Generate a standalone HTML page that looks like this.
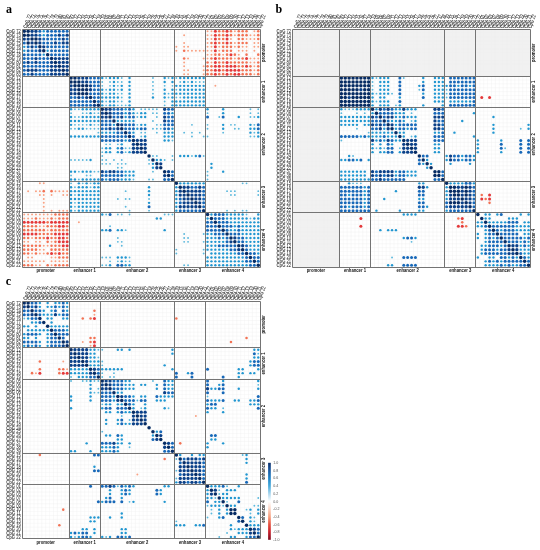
<!DOCTYPE html>
<html><head><meta charset="utf-8"><title>Correlation plots</title>
<style>
html,body{margin:0;padding:0;background:#fff;width:540px;height:550px;overflow:hidden}
svg{display:block}
.rl text{font-family:"Liberation Sans",sans-serif;font-size:5.0px;fill:#222;text-anchor:end}
.cl text{font-family:"Liberation Sans",sans-serif;font-size:6.0px;fill:#222;text-anchor:start}
.cg{fill:#444;font-weight:bold}
.gl text{font-family:"Liberation Sans",sans-serif;font-size:5.4px;font-weight:bold;fill:#111;text-anchor:middle}
.cbl text{font-family:"Liberation Sans",sans-serif;font-size:3.6px;fill:#555}
.pl text{font-family:"Liberation Serif",serif;font-size:12px;font-weight:bold;fill:#000}
</style></head><body>
<svg width="540" height="550" viewBox="0 0 540 550">
<rect width="540" height="550" fill="#fff"/>
<path d="M26.20 29.30V267.20M22.30 33.20H260.20M30.10 29.30V267.20M22.30 37.10H260.20M34.00 29.30V267.20M22.30 41.00H260.20M37.90 29.30V267.20M22.30 44.90H260.20M41.80 29.30V267.20M22.30 48.80H260.20M45.70 29.30V267.20M22.30 52.70H260.20M49.60 29.30V267.20M22.30 56.60H260.20M53.50 29.30V267.20M22.30 60.50H260.20M57.40 29.30V267.20M22.30 64.40H260.20M61.30 29.30V267.20M22.30 68.30H260.20M65.20 29.30V267.20M22.30 72.20H260.20M69.10 29.30V267.20M22.30 76.10H260.20M73.00 29.30V267.20M22.30 80.00H260.20M76.90 29.30V267.20M22.30 83.90H260.20M80.80 29.30V267.20M22.30 87.80H260.20M84.70 29.30V267.20M22.30 91.70H260.20M88.60 29.30V267.20M22.30 95.60H260.20M92.50 29.30V267.20M22.30 99.50H260.20M96.40 29.30V267.20M22.30 103.40H260.20M100.30 29.30V267.20M22.30 107.30H260.20M104.20 29.30V267.20M22.30 111.20H260.20M108.10 29.30V267.20M22.30 115.10H260.20M112.00 29.30V267.20M22.30 119.00H260.20M115.90 29.30V267.20M22.30 122.90H260.20M119.80 29.30V267.20M22.30 126.80H260.20M123.70 29.30V267.20M22.30 130.70H260.20M127.60 29.30V267.20M22.30 134.60H260.20M131.50 29.30V267.20M22.30 138.50H260.20M135.40 29.30V267.20M22.30 142.40H260.20M139.30 29.30V267.20M22.30 146.30H260.20M143.20 29.30V267.20M22.30 150.20H260.20M147.10 29.30V267.20M22.30 154.10H260.20M151.00 29.30V267.20M22.30 158.00H260.20M154.90 29.30V267.20M22.30 161.90H260.20M158.80 29.30V267.20M22.30 165.80H260.20M162.70 29.30V267.20M22.30 169.70H260.20M166.60 29.30V267.20M22.30 173.60H260.20M170.50 29.30V267.20M22.30 177.50H260.20M174.40 29.30V267.20M22.30 181.40H260.20M178.30 29.30V267.20M22.30 185.30H260.20M182.20 29.30V267.20M22.30 189.20H260.20M186.10 29.30V267.20M22.30 193.10H260.20M190.00 29.30V267.20M22.30 197.00H260.20M193.90 29.30V267.20M22.30 200.90H260.20M197.80 29.30V267.20M22.30 204.80H260.20M201.70 29.30V267.20M22.30 208.70H260.20M205.60 29.30V267.20M22.30 212.60H260.20M209.50 29.30V267.20M22.30 216.50H260.20M213.40 29.30V267.20M22.30 220.40H260.20M217.30 29.30V267.20M22.30 224.30H260.20M221.20 29.30V267.20M22.30 228.20H260.20M225.10 29.30V267.20M22.30 232.10H260.20M229.00 29.30V267.20M22.30 236.00H260.20M232.90 29.30V267.20M22.30 239.90H260.20M236.80 29.30V267.20M22.30 243.80H260.20M240.70 29.30V267.20M22.30 247.70H260.20M244.60 29.30V267.20M22.30 251.60H260.20M248.50 29.30V267.20M22.30 255.50H260.20M252.40 29.30V267.20M22.30 259.40H260.20M256.30 29.30V267.20M22.30 263.30H260.20" stroke="#efefef" stroke-width="0.4" fill="none"/>
<circle cx="24.25" cy="31.25" r="1.75" fill="#062b63"/>
<circle cx="28.15" cy="31.25" r="1.75" fill="#062b63"/>
<circle cx="32.05" cy="31.25" r="1.65" fill="#0b4088"/>
<circle cx="35.95" cy="31.25" r="1.65" fill="#0b4088"/>
<circle cx="39.85" cy="31.25" r="1.5" fill="#1768b8"/>
<circle cx="43.75" cy="31.25" r="1.22" fill="#2196d0"/>
<circle cx="47.65" cy="31.25" r="1.5" fill="#1768b8"/>
<circle cx="51.55" cy="31.25" r="1.5" fill="#1768b8"/>
<circle cx="55.45" cy="31.25" r="1.5" fill="#1768b8"/>
<circle cx="59.35" cy="31.25" r="1.5" fill="#1768b8"/>
<circle cx="63.25" cy="31.25" r="1.5" fill="#1768b8"/>
<circle cx="67.15" cy="31.25" r="1.5" fill="#1768b8"/>
<circle cx="207.55" cy="31.25" r="1.0" fill="#f8a284"/>
<circle cx="211.45" cy="31.25" r="1.0" fill="#f8a284"/>
<circle cx="215.35" cy="31.25" r="1.5" fill="#e4383a"/>
<circle cx="219.25" cy="31.25" r="1.28" fill="#f27254"/>
<circle cx="223.15" cy="31.25" r="1.28" fill="#f27254"/>
<circle cx="227.05" cy="31.25" r="1.5" fill="#e4383a"/>
<circle cx="230.95" cy="31.25" r="1.28" fill="#f27254"/>
<circle cx="234.85" cy="31.25" r="1.0" fill="#f8a284"/>
<circle cx="238.75" cy="31.25" r="1.28" fill="#f27254"/>
<circle cx="242.65" cy="31.25" r="1.28" fill="#f27254"/>
<circle cx="246.55" cy="31.25" r="1.28" fill="#f27254"/>
<circle cx="254.35" cy="31.25" r="1.0" fill="#f8a284"/>
<circle cx="258.25" cy="31.25" r="1.28" fill="#f27254"/>
<circle cx="24.25" cy="35.15" r="1.75" fill="#062b63"/>
<circle cx="28.15" cy="35.15" r="1.75" fill="#062b63"/>
<circle cx="32.05" cy="35.15" r="1.65" fill="#0b4088"/>
<circle cx="35.95" cy="35.15" r="1.65" fill="#0b4088"/>
<circle cx="39.85" cy="35.15" r="1.5" fill="#1768b8"/>
<circle cx="43.75" cy="35.15" r="1.22" fill="#2196d0"/>
<circle cx="47.65" cy="35.15" r="1.5" fill="#1768b8"/>
<circle cx="51.55" cy="35.15" r="1.5" fill="#1768b8"/>
<circle cx="55.45" cy="35.15" r="1.5" fill="#1768b8"/>
<circle cx="59.35" cy="35.15" r="1.65" fill="#0b4088"/>
<circle cx="63.25" cy="35.15" r="1.5" fill="#1768b8"/>
<circle cx="67.15" cy="35.15" r="1.65" fill="#0b4088"/>
<circle cx="184.15" cy="35.15" r="1.0" fill="#f8a284"/>
<circle cx="207.55" cy="35.15" r="1.0" fill="#f8a284"/>
<circle cx="211.45" cy="35.15" r="1.0" fill="#f8a284"/>
<circle cx="215.35" cy="35.15" r="1.5" fill="#e4383a"/>
<circle cx="219.25" cy="35.15" r="1.28" fill="#f27254"/>
<circle cx="223.15" cy="35.15" r="1.28" fill="#f27254"/>
<circle cx="227.05" cy="35.15" r="1.5" fill="#e4383a"/>
<circle cx="230.95" cy="35.15" r="1.28" fill="#f27254"/>
<circle cx="234.85" cy="35.15" r="1.0" fill="#f8a284"/>
<circle cx="238.75" cy="35.15" r="1.28" fill="#f27254"/>
<circle cx="242.65" cy="35.15" r="1.28" fill="#f27254"/>
<circle cx="246.55" cy="35.15" r="1.28" fill="#f27254"/>
<circle cx="250.45" cy="35.15" r="1.0" fill="#f8a284"/>
<circle cx="254.35" cy="35.15" r="1.0" fill="#f8a284"/>
<circle cx="258.25" cy="35.15" r="1.28" fill="#f27254"/>
<circle cx="24.25" cy="39.05" r="1.65" fill="#0b4088"/>
<circle cx="28.15" cy="39.05" r="1.65" fill="#0b4088"/>
<circle cx="32.05" cy="39.05" r="1.75" fill="#062b63"/>
<circle cx="35.95" cy="39.05" r="1.75" fill="#062b63"/>
<circle cx="39.85" cy="39.05" r="1.65" fill="#0b4088"/>
<circle cx="43.75" cy="39.05" r="1.5" fill="#1768b8"/>
<circle cx="47.65" cy="39.05" r="1.5" fill="#1768b8"/>
<circle cx="51.55" cy="39.05" r="1.5" fill="#1768b8"/>
<circle cx="55.45" cy="39.05" r="1.5" fill="#1768b8"/>
<circle cx="59.35" cy="39.05" r="1.5" fill="#1768b8"/>
<circle cx="63.25" cy="39.05" r="1.65" fill="#0b4088"/>
<circle cx="67.15" cy="39.05" r="1.5" fill="#1768b8"/>
<circle cx="207.55" cy="39.05" r="1.0" fill="#f8a284"/>
<circle cx="211.45" cy="39.05" r="1.0" fill="#f8a284"/>
<circle cx="215.35" cy="39.05" r="1.5" fill="#e4383a"/>
<circle cx="219.25" cy="39.05" r="1.28" fill="#f27254"/>
<circle cx="223.15" cy="39.05" r="1.28" fill="#f27254"/>
<circle cx="227.05" cy="39.05" r="1.5" fill="#e4383a"/>
<circle cx="230.95" cy="39.05" r="1.0" fill="#f8a284"/>
<circle cx="238.75" cy="39.05" r="1.28" fill="#f27254"/>
<circle cx="242.65" cy="39.05" r="1.28" fill="#f27254"/>
<circle cx="246.55" cy="39.05" r="1.0" fill="#f8a284"/>
<circle cx="250.45" cy="39.05" r="1.0" fill="#f8a284"/>
<circle cx="254.35" cy="39.05" r="1.0" fill="#f8a284"/>
<circle cx="258.25" cy="39.05" r="1.28" fill="#f27254"/>
<circle cx="24.25" cy="42.95" r="1.5" fill="#1768b8"/>
<circle cx="28.15" cy="42.95" r="1.75" fill="#062b63"/>
<circle cx="32.05" cy="42.95" r="1.65" fill="#0b4088"/>
<circle cx="35.95" cy="42.95" r="1.75" fill="#062b63"/>
<circle cx="39.85" cy="42.95" r="1.65" fill="#0b4088"/>
<circle cx="43.75" cy="42.95" r="1.5" fill="#1768b8"/>
<circle cx="47.65" cy="42.95" r="1.5" fill="#1768b8"/>
<circle cx="51.55" cy="42.95" r="1.5" fill="#1768b8"/>
<circle cx="55.45" cy="42.95" r="1.65" fill="#0b4088"/>
<circle cx="59.35" cy="42.95" r="1.5" fill="#1768b8"/>
<circle cx="63.25" cy="42.95" r="1.65" fill="#0b4088"/>
<circle cx="67.15" cy="42.95" r="1.65" fill="#0b4088"/>
<circle cx="184.15" cy="42.95" r="1.0" fill="#f8a284"/>
<circle cx="207.55" cy="42.95" r="1.0" fill="#f8a284"/>
<circle cx="211.45" cy="42.95" r="1.28" fill="#f27254"/>
<circle cx="215.35" cy="42.95" r="1.5" fill="#e4383a"/>
<circle cx="219.25" cy="42.95" r="1.28" fill="#f27254"/>
<circle cx="223.15" cy="42.95" r="1.28" fill="#f27254"/>
<circle cx="227.05" cy="42.95" r="1.5" fill="#e4383a"/>
<circle cx="230.95" cy="42.95" r="1.28" fill="#f27254"/>
<circle cx="234.85" cy="42.95" r="1.0" fill="#f8a284"/>
<circle cx="238.75" cy="42.95" r="1.28" fill="#f27254"/>
<circle cx="242.65" cy="42.95" r="1.28" fill="#f27254"/>
<circle cx="246.55" cy="42.95" r="1.28" fill="#f27254"/>
<circle cx="254.35" cy="42.95" r="1.0" fill="#f8a284"/>
<circle cx="258.25" cy="42.95" r="1.0" fill="#f8a284"/>
<circle cx="24.25" cy="46.85" r="1.22" fill="#2196d0"/>
<circle cx="28.15" cy="46.85" r="1.5" fill="#1768b8"/>
<circle cx="32.05" cy="46.85" r="1.65" fill="#0b4088"/>
<circle cx="35.95" cy="46.85" r="1.5" fill="#1768b8"/>
<circle cx="39.85" cy="46.85" r="1.75" fill="#062b63"/>
<circle cx="43.75" cy="46.85" r="1.65" fill="#0b4088"/>
<circle cx="47.65" cy="46.85" r="1.5" fill="#1768b8"/>
<circle cx="51.55" cy="46.85" r="1.5" fill="#1768b8"/>
<circle cx="55.45" cy="46.85" r="1.5" fill="#1768b8"/>
<circle cx="59.35" cy="46.85" r="1.5" fill="#1768b8"/>
<circle cx="63.25" cy="46.85" r="1.5" fill="#1768b8"/>
<circle cx="67.15" cy="46.85" r="1.5" fill="#1768b8"/>
<circle cx="176.35" cy="46.85" r="1.0" fill="#f8a284"/>
<circle cx="184.15" cy="46.85" r="1.0" fill="#f8a284"/>
<circle cx="188.05" cy="46.85" r="1.0" fill="#f8a284"/>
<circle cx="207.55" cy="46.85" r="1.0" fill="#f8a284"/>
<circle cx="211.45" cy="46.85" r="1.0" fill="#f8a284"/>
<circle cx="215.35" cy="46.85" r="1.5" fill="#e4383a"/>
<circle cx="219.25" cy="46.85" r="1.0" fill="#f8a284"/>
<circle cx="223.15" cy="46.85" r="1.28" fill="#f27254"/>
<circle cx="227.05" cy="46.85" r="1.28" fill="#f27254"/>
<circle cx="230.95" cy="46.85" r="1.28" fill="#f27254"/>
<circle cx="234.85" cy="46.85" r="1.0" fill="#f8a284"/>
<circle cx="238.75" cy="46.85" r="1.28" fill="#f27254"/>
<circle cx="242.65" cy="46.85" r="1.0" fill="#f8a284"/>
<circle cx="246.55" cy="46.85" r="1.0" fill="#f8a284"/>
<circle cx="254.35" cy="46.85" r="1.0" fill="#f8a284"/>
<circle cx="258.25" cy="46.85" r="1.0" fill="#f8a284"/>
<circle cx="24.25" cy="50.75" r="1.22" fill="#2196d0"/>
<circle cx="28.15" cy="50.75" r="1.5" fill="#1768b8"/>
<circle cx="32.05" cy="50.75" r="1.5" fill="#1768b8"/>
<circle cx="35.95" cy="50.75" r="1.5" fill="#1768b8"/>
<circle cx="39.85" cy="50.75" r="1.65" fill="#0b4088"/>
<circle cx="43.75" cy="50.75" r="1.75" fill="#062b63"/>
<circle cx="47.65" cy="50.75" r="1.22" fill="#2196d0"/>
<circle cx="51.55" cy="50.75" r="1.5" fill="#1768b8"/>
<circle cx="55.45" cy="50.75" r="1.5" fill="#1768b8"/>
<circle cx="59.35" cy="50.75" r="1.5" fill="#1768b8"/>
<circle cx="63.25" cy="50.75" r="1.5" fill="#1768b8"/>
<circle cx="67.15" cy="50.75" r="1.5" fill="#1768b8"/>
<circle cx="176.35" cy="50.75" r="1.0" fill="#f8a284"/>
<circle cx="184.15" cy="50.75" r="1.28" fill="#f27254"/>
<circle cx="188.05" cy="50.75" r="1.0" fill="#f8a284"/>
<circle cx="191.95" cy="50.75" r="1.0" fill="#f8a284"/>
<circle cx="195.85" cy="50.75" r="1.0" fill="#f8a284"/>
<circle cx="199.75" cy="50.75" r="1.0" fill="#f8a284"/>
<circle cx="203.65" cy="50.75" r="1.0" fill="#f8a284"/>
<circle cx="207.55" cy="50.75" r="1.0" fill="#f8a284"/>
<circle cx="211.45" cy="50.75" r="1.0" fill="#f8a284"/>
<circle cx="215.35" cy="50.75" r="1.5" fill="#e4383a"/>
<circle cx="219.25" cy="50.75" r="1.0" fill="#f8a284"/>
<circle cx="223.15" cy="50.75" r="1.28" fill="#f27254"/>
<circle cx="227.05" cy="50.75" r="1.28" fill="#f27254"/>
<circle cx="230.95" cy="50.75" r="1.28" fill="#f27254"/>
<circle cx="238.75" cy="50.75" r="1.0" fill="#f8a284"/>
<circle cx="242.65" cy="50.75" r="1.0" fill="#f8a284"/>
<circle cx="246.55" cy="50.75" r="1.0" fill="#f8a284"/>
<circle cx="254.35" cy="50.75" r="1.0" fill="#f8a284"/>
<circle cx="24.25" cy="54.65" r="1.5" fill="#1768b8"/>
<circle cx="28.15" cy="54.65" r="1.5" fill="#1768b8"/>
<circle cx="32.05" cy="54.65" r="1.5" fill="#1768b8"/>
<circle cx="35.95" cy="54.65" r="1.5" fill="#1768b8"/>
<circle cx="39.85" cy="54.65" r="1.5" fill="#1768b8"/>
<circle cx="43.75" cy="54.65" r="1.22" fill="#2196d0"/>
<circle cx="47.65" cy="54.65" r="1.75" fill="#062b63"/>
<circle cx="51.55" cy="54.65" r="1.5" fill="#1768b8"/>
<circle cx="55.45" cy="54.65" r="1.5" fill="#1768b8"/>
<circle cx="59.35" cy="54.65" r="1.5" fill="#1768b8"/>
<circle cx="63.25" cy="54.65" r="1.5" fill="#1768b8"/>
<circle cx="67.15" cy="54.65" r="1.5" fill="#1768b8"/>
<circle cx="207.55" cy="54.65" r="1.0" fill="#f8a284"/>
<circle cx="211.45" cy="54.65" r="1.0" fill="#f8a284"/>
<circle cx="215.35" cy="54.65" r="1.28" fill="#f27254"/>
<circle cx="219.25" cy="54.65" r="1.28" fill="#f27254"/>
<circle cx="223.15" cy="54.65" r="1.0" fill="#f8a284"/>
<circle cx="227.05" cy="54.65" r="1.28" fill="#f27254"/>
<circle cx="230.95" cy="54.65" r="1.5" fill="#e4383a"/>
<circle cx="234.85" cy="54.65" r="1.28" fill="#f27254"/>
<circle cx="238.75" cy="54.65" r="1.0" fill="#f8a284"/>
<circle cx="246.55" cy="54.65" r="1.28" fill="#f27254"/>
<circle cx="258.25" cy="54.65" r="1.28" fill="#f27254"/>
<circle cx="24.25" cy="58.55" r="1.5" fill="#1768b8"/>
<circle cx="28.15" cy="58.55" r="1.5" fill="#1768b8"/>
<circle cx="32.05" cy="58.55" r="1.5" fill="#1768b8"/>
<circle cx="35.95" cy="58.55" r="1.65" fill="#0b4088"/>
<circle cx="39.85" cy="58.55" r="1.5" fill="#1768b8"/>
<circle cx="43.75" cy="58.55" r="1.5" fill="#1768b8"/>
<circle cx="47.65" cy="58.55" r="1.5" fill="#1768b8"/>
<circle cx="51.55" cy="58.55" r="1.75" fill="#062b63"/>
<circle cx="55.45" cy="58.55" r="1.65" fill="#0b4088"/>
<circle cx="59.35" cy="58.55" r="1.65" fill="#0b4088"/>
<circle cx="63.25" cy="58.55" r="1.65" fill="#0b4088"/>
<circle cx="67.15" cy="58.55" r="1.65" fill="#0b4088"/>
<circle cx="184.15" cy="58.55" r="1.28" fill="#f27254"/>
<circle cx="188.05" cy="58.55" r="1.0" fill="#f8a284"/>
<circle cx="203.65" cy="58.55" r="1.0" fill="#f8a284"/>
<circle cx="207.55" cy="58.55" r="1.0" fill="#f8a284"/>
<circle cx="211.45" cy="58.55" r="1.28" fill="#f27254"/>
<circle cx="215.35" cy="58.55" r="1.5" fill="#e4383a"/>
<circle cx="219.25" cy="58.55" r="1.28" fill="#f27254"/>
<circle cx="223.15" cy="58.55" r="1.28" fill="#f27254"/>
<circle cx="227.05" cy="58.55" r="1.28" fill="#f27254"/>
<circle cx="230.95" cy="58.55" r="1.28" fill="#f27254"/>
<circle cx="234.85" cy="58.55" r="1.0" fill="#f8a284"/>
<circle cx="238.75" cy="58.55" r="1.28" fill="#f27254"/>
<circle cx="242.65" cy="58.55" r="1.28" fill="#f27254"/>
<circle cx="246.55" cy="58.55" r="1.5" fill="#e4383a"/>
<circle cx="250.45" cy="58.55" r="1.0" fill="#f8a284"/>
<circle cx="254.35" cy="58.55" r="1.0" fill="#f8a284"/>
<circle cx="258.25" cy="58.55" r="1.0" fill="#f8a284"/>
<circle cx="24.25" cy="62.45" r="1.5" fill="#1768b8"/>
<circle cx="28.15" cy="62.45" r="1.65" fill="#0b4088"/>
<circle cx="32.05" cy="62.45" r="1.5" fill="#1768b8"/>
<circle cx="35.95" cy="62.45" r="1.65" fill="#0b4088"/>
<circle cx="39.85" cy="62.45" r="1.5" fill="#1768b8"/>
<circle cx="43.75" cy="62.45" r="1.5" fill="#1768b8"/>
<circle cx="47.65" cy="62.45" r="1.5" fill="#1768b8"/>
<circle cx="51.55" cy="62.45" r="1.65" fill="#0b4088"/>
<circle cx="55.45" cy="62.45" r="1.75" fill="#062b63"/>
<circle cx="59.35" cy="62.45" r="1.65" fill="#0b4088"/>
<circle cx="63.25" cy="62.45" r="1.65" fill="#0b4088"/>
<circle cx="67.15" cy="62.45" r="1.65" fill="#0b4088"/>
<circle cx="184.15" cy="62.45" r="1.0" fill="#f8a284"/>
<circle cx="207.55" cy="62.45" r="1.28" fill="#f27254"/>
<circle cx="211.45" cy="62.45" r="1.0" fill="#f8a284"/>
<circle cx="215.35" cy="62.45" r="1.5" fill="#e4383a"/>
<circle cx="219.25" cy="62.45" r="1.28" fill="#f27254"/>
<circle cx="223.15" cy="62.45" r="1.28" fill="#f27254"/>
<circle cx="227.05" cy="62.45" r="1.5" fill="#e4383a"/>
<circle cx="230.95" cy="62.45" r="1.28" fill="#f27254"/>
<circle cx="234.85" cy="62.45" r="1.28" fill="#f27254"/>
<circle cx="238.75" cy="62.45" r="1.28" fill="#f27254"/>
<circle cx="242.65" cy="62.45" r="1.28" fill="#f27254"/>
<circle cx="246.55" cy="62.45" r="1.28" fill="#f27254"/>
<circle cx="250.45" cy="62.45" r="1.0" fill="#f8a284"/>
<circle cx="254.35" cy="62.45" r="1.0" fill="#f8a284"/>
<circle cx="258.25" cy="62.45" r="1.28" fill="#f27254"/>
<circle cx="24.25" cy="66.35" r="1.5" fill="#1768b8"/>
<circle cx="28.15" cy="66.35" r="1.5" fill="#1768b8"/>
<circle cx="32.05" cy="66.35" r="1.5" fill="#1768b8"/>
<circle cx="35.95" cy="66.35" r="1.5" fill="#1768b8"/>
<circle cx="39.85" cy="66.35" r="1.5" fill="#1768b8"/>
<circle cx="43.75" cy="66.35" r="1.5" fill="#1768b8"/>
<circle cx="47.65" cy="66.35" r="1.5" fill="#1768b8"/>
<circle cx="51.55" cy="66.35" r="1.65" fill="#0b4088"/>
<circle cx="55.45" cy="66.35" r="1.65" fill="#0b4088"/>
<circle cx="59.35" cy="66.35" r="1.75" fill="#062b63"/>
<circle cx="63.25" cy="66.35" r="1.65" fill="#0b4088"/>
<circle cx="67.15" cy="66.35" r="1.65" fill="#0b4088"/>
<circle cx="184.15" cy="66.35" r="1.0" fill="#f8a284"/>
<circle cx="203.65" cy="66.35" r="1.0" fill="#f8a284"/>
<circle cx="207.55" cy="66.35" r="1.28" fill="#f27254"/>
<circle cx="211.45" cy="66.35" r="1.28" fill="#f27254"/>
<circle cx="215.35" cy="66.35" r="1.5" fill="#e4383a"/>
<circle cx="219.25" cy="66.35" r="1.5" fill="#e4383a"/>
<circle cx="223.15" cy="66.35" r="1.28" fill="#f27254"/>
<circle cx="227.05" cy="66.35" r="1.5" fill="#e4383a"/>
<circle cx="230.95" cy="66.35" r="1.5" fill="#e4383a"/>
<circle cx="234.85" cy="66.35" r="1.5" fill="#e4383a"/>
<circle cx="238.75" cy="66.35" r="1.28" fill="#f27254"/>
<circle cx="242.65" cy="66.35" r="1.28" fill="#f27254"/>
<circle cx="246.55" cy="66.35" r="1.5" fill="#e4383a"/>
<circle cx="250.45" cy="66.35" r="1.28" fill="#f27254"/>
<circle cx="254.35" cy="66.35" r="1.0" fill="#f8a284"/>
<circle cx="258.25" cy="66.35" r="1.28" fill="#f27254"/>
<circle cx="24.25" cy="70.25" r="1.5" fill="#1768b8"/>
<circle cx="28.15" cy="70.25" r="1.65" fill="#0b4088"/>
<circle cx="32.05" cy="70.25" r="1.65" fill="#0b4088"/>
<circle cx="35.95" cy="70.25" r="1.65" fill="#0b4088"/>
<circle cx="39.85" cy="70.25" r="1.5" fill="#1768b8"/>
<circle cx="43.75" cy="70.25" r="1.5" fill="#1768b8"/>
<circle cx="47.65" cy="70.25" r="1.5" fill="#1768b8"/>
<circle cx="51.55" cy="70.25" r="1.65" fill="#0b4088"/>
<circle cx="55.45" cy="70.25" r="1.65" fill="#0b4088"/>
<circle cx="59.35" cy="70.25" r="1.65" fill="#0b4088"/>
<circle cx="63.25" cy="70.25" r="1.75" fill="#062b63"/>
<circle cx="67.15" cy="70.25" r="1.65" fill="#0b4088"/>
<circle cx="184.15" cy="70.25" r="1.0" fill="#f8a284"/>
<circle cx="188.05" cy="70.25" r="1.0" fill="#f8a284"/>
<circle cx="203.65" cy="70.25" r="1.0" fill="#f8a284"/>
<circle cx="207.55" cy="70.25" r="1.28" fill="#f27254"/>
<circle cx="211.45" cy="70.25" r="1.28" fill="#f27254"/>
<circle cx="215.35" cy="70.25" r="1.5" fill="#e4383a"/>
<circle cx="219.25" cy="70.25" r="1.5" fill="#e4383a"/>
<circle cx="223.15" cy="70.25" r="1.28" fill="#f27254"/>
<circle cx="227.05" cy="70.25" r="1.5" fill="#e4383a"/>
<circle cx="230.95" cy="70.25" r="1.5" fill="#e4383a"/>
<circle cx="234.85" cy="70.25" r="1.5" fill="#e4383a"/>
<circle cx="238.75" cy="70.25" r="1.5" fill="#e4383a"/>
<circle cx="242.65" cy="70.25" r="1.28" fill="#f27254"/>
<circle cx="246.55" cy="70.25" r="1.28" fill="#f27254"/>
<circle cx="250.45" cy="70.25" r="1.28" fill="#f27254"/>
<circle cx="254.35" cy="70.25" r="1.0" fill="#f8a284"/>
<circle cx="258.25" cy="70.25" r="1.28" fill="#f27254"/>
<circle cx="24.25" cy="74.15" r="1.5" fill="#1768b8"/>
<circle cx="28.15" cy="74.15" r="1.5" fill="#1768b8"/>
<circle cx="32.05" cy="74.15" r="1.65" fill="#0b4088"/>
<circle cx="35.95" cy="74.15" r="1.5" fill="#1768b8"/>
<circle cx="39.85" cy="74.15" r="1.5" fill="#1768b8"/>
<circle cx="43.75" cy="74.15" r="1.5" fill="#1768b8"/>
<circle cx="47.65" cy="74.15" r="1.5" fill="#1768b8"/>
<circle cx="51.55" cy="74.15" r="1.65" fill="#0b4088"/>
<circle cx="55.45" cy="74.15" r="1.65" fill="#0b4088"/>
<circle cx="59.35" cy="74.15" r="1.65" fill="#0b4088"/>
<circle cx="63.25" cy="74.15" r="1.65" fill="#0b4088"/>
<circle cx="67.15" cy="74.15" r="1.75" fill="#062b63"/>
<circle cx="184.15" cy="74.15" r="1.0" fill="#f8a284"/>
<circle cx="188.05" cy="74.15" r="1.0" fill="#f8a284"/>
<circle cx="203.65" cy="74.15" r="1.0" fill="#f8a284"/>
<circle cx="207.55" cy="74.15" r="1.28" fill="#f27254"/>
<circle cx="211.45" cy="74.15" r="1.28" fill="#f27254"/>
<circle cx="215.35" cy="74.15" r="1.5" fill="#e4383a"/>
<circle cx="219.25" cy="74.15" r="1.28" fill="#f27254"/>
<circle cx="223.15" cy="74.15" r="1.28" fill="#f27254"/>
<circle cx="227.05" cy="74.15" r="1.5" fill="#e4383a"/>
<circle cx="230.95" cy="74.15" r="1.28" fill="#f27254"/>
<circle cx="234.85" cy="74.15" r="1.5" fill="#e4383a"/>
<circle cx="238.75" cy="74.15" r="1.5" fill="#e4383a"/>
<circle cx="242.65" cy="74.15" r="1.28" fill="#f27254"/>
<circle cx="246.55" cy="74.15" r="1.28" fill="#f27254"/>
<circle cx="250.45" cy="74.15" r="1.28" fill="#f27254"/>
<circle cx="254.35" cy="74.15" r="1.0" fill="#f8a284"/>
<circle cx="258.25" cy="74.15" r="1.28" fill="#f27254"/>
<circle cx="71.05" cy="78.05" r="1.75" fill="#062b63"/>
<circle cx="74.95" cy="78.05" r="1.75" fill="#062b63"/>
<circle cx="78.85" cy="78.05" r="1.65" fill="#0b4088"/>
<circle cx="82.75" cy="78.05" r="1.65" fill="#0b4088"/>
<circle cx="86.65" cy="78.05" r="1.65" fill="#0b4088"/>
<circle cx="90.55" cy="78.05" r="1.5" fill="#1768b8"/>
<circle cx="94.45" cy="78.05" r="1.5" fill="#1768b8"/>
<circle cx="98.35" cy="78.05" r="1.5" fill="#1768b8"/>
<circle cx="102.25" cy="78.05" r="1.22" fill="#2196d0"/>
<circle cx="106.15" cy="78.05" r="0.95" fill="#5cb8dc"/>
<circle cx="110.05" cy="78.05" r="1.22" fill="#2196d0"/>
<circle cx="113.95" cy="78.05" r="1.22" fill="#2196d0"/>
<circle cx="117.85" cy="78.05" r="1.22" fill="#2196d0"/>
<circle cx="121.75" cy="78.05" r="0.95" fill="#5cb8dc"/>
<circle cx="129.55" cy="78.05" r="1.22" fill="#2196d0"/>
<circle cx="152.95" cy="78.05" r="0.95" fill="#5cb8dc"/>
<circle cx="164.65" cy="78.05" r="1.22" fill="#2196d0"/>
<circle cx="168.55" cy="78.05" r="0.95" fill="#5cb8dc"/>
<circle cx="172.45" cy="78.05" r="1.22" fill="#2196d0"/>
<circle cx="176.35" cy="78.05" r="0.95" fill="#5cb8dc"/>
<circle cx="180.25" cy="78.05" r="1.22" fill="#2196d0"/>
<circle cx="184.15" cy="78.05" r="1.22" fill="#2196d0"/>
<circle cx="188.05" cy="78.05" r="1.22" fill="#2196d0"/>
<circle cx="191.95" cy="78.05" r="1.22" fill="#2196d0"/>
<circle cx="195.85" cy="78.05" r="1.22" fill="#2196d0"/>
<circle cx="199.75" cy="78.05" r="1.22" fill="#2196d0"/>
<circle cx="203.65" cy="78.05" r="1.22" fill="#2196d0"/>
<circle cx="71.05" cy="81.95" r="1.75" fill="#062b63"/>
<circle cx="74.95" cy="81.95" r="1.75" fill="#062b63"/>
<circle cx="78.85" cy="81.95" r="1.75" fill="#062b63"/>
<circle cx="82.75" cy="81.95" r="1.65" fill="#0b4088"/>
<circle cx="86.65" cy="81.95" r="1.65" fill="#0b4088"/>
<circle cx="90.55" cy="81.95" r="1.5" fill="#1768b8"/>
<circle cx="94.45" cy="81.95" r="1.5" fill="#1768b8"/>
<circle cx="98.35" cy="81.95" r="1.5" fill="#1768b8"/>
<circle cx="102.25" cy="81.95" r="0.95" fill="#5cb8dc"/>
<circle cx="110.05" cy="81.95" r="0.95" fill="#5cb8dc"/>
<circle cx="113.95" cy="81.95" r="1.22" fill="#2196d0"/>
<circle cx="117.85" cy="81.95" r="0.95" fill="#5cb8dc"/>
<circle cx="121.75" cy="81.95" r="0.95" fill="#5cb8dc"/>
<circle cx="129.55" cy="81.95" r="1.22" fill="#2196d0"/>
<circle cx="152.95" cy="81.95" r="0.95" fill="#5cb8dc"/>
<circle cx="164.65" cy="81.95" r="1.22" fill="#2196d0"/>
<circle cx="172.45" cy="81.95" r="1.22" fill="#2196d0"/>
<circle cx="180.25" cy="81.95" r="0.95" fill="#5cb8dc"/>
<circle cx="184.15" cy="81.95" r="1.22" fill="#2196d0"/>
<circle cx="188.05" cy="81.95" r="0.95" fill="#5cb8dc"/>
<circle cx="191.95" cy="81.95" r="1.22" fill="#2196d0"/>
<circle cx="195.85" cy="81.95" r="0.95" fill="#5cb8dc"/>
<circle cx="199.75" cy="81.95" r="0.95" fill="#5cb8dc"/>
<circle cx="203.65" cy="81.95" r="0.95" fill="#5cb8dc"/>
<circle cx="71.05" cy="85.85" r="1.65" fill="#0b4088"/>
<circle cx="74.95" cy="85.85" r="1.75" fill="#062b63"/>
<circle cx="78.85" cy="85.85" r="1.75" fill="#062b63"/>
<circle cx="82.75" cy="85.85" r="1.75" fill="#062b63"/>
<circle cx="86.65" cy="85.85" r="1.75" fill="#062b63"/>
<circle cx="90.55" cy="85.85" r="1.65" fill="#0b4088"/>
<circle cx="94.45" cy="85.85" r="1.5" fill="#1768b8"/>
<circle cx="98.35" cy="85.85" r="1.5" fill="#1768b8"/>
<circle cx="102.25" cy="85.85" r="0.95" fill="#5cb8dc"/>
<circle cx="110.05" cy="85.85" r="0.95" fill="#5cb8dc"/>
<circle cx="113.95" cy="85.85" r="1.22" fill="#2196d0"/>
<circle cx="117.85" cy="85.85" r="0.95" fill="#5cb8dc"/>
<circle cx="121.75" cy="85.85" r="1.22" fill="#2196d0"/>
<circle cx="129.55" cy="85.85" r="1.22" fill="#2196d0"/>
<circle cx="152.95" cy="85.85" r="0.95" fill="#5cb8dc"/>
<circle cx="164.65" cy="85.85" r="0.95" fill="#5cb8dc"/>
<circle cx="172.45" cy="85.85" r="0.95" fill="#5cb8dc"/>
<circle cx="176.35" cy="85.85" r="1.22" fill="#2196d0"/>
<circle cx="180.25" cy="85.85" r="1.22" fill="#2196d0"/>
<circle cx="184.15" cy="85.85" r="1.22" fill="#2196d0"/>
<circle cx="188.05" cy="85.85" r="1.22" fill="#2196d0"/>
<circle cx="191.95" cy="85.85" r="1.22" fill="#2196d0"/>
<circle cx="195.85" cy="85.85" r="1.22" fill="#2196d0"/>
<circle cx="199.75" cy="85.85" r="1.22" fill="#2196d0"/>
<circle cx="203.65" cy="85.85" r="1.22" fill="#2196d0"/>
<circle cx="215.35" cy="85.85" r="1.0" fill="#f8a284"/>
<circle cx="71.05" cy="89.75" r="1.65" fill="#0b4088"/>
<circle cx="74.95" cy="89.75" r="1.65" fill="#0b4088"/>
<circle cx="78.85" cy="89.75" r="1.75" fill="#062b63"/>
<circle cx="82.75" cy="89.75" r="1.75" fill="#062b63"/>
<circle cx="86.65" cy="89.75" r="1.75" fill="#062b63"/>
<circle cx="90.55" cy="89.75" r="1.65" fill="#0b4088"/>
<circle cx="94.45" cy="89.75" r="1.5" fill="#1768b8"/>
<circle cx="98.35" cy="89.75" r="1.5" fill="#1768b8"/>
<circle cx="102.25" cy="89.75" r="1.22" fill="#2196d0"/>
<circle cx="106.15" cy="89.75" r="0.95" fill="#5cb8dc"/>
<circle cx="110.05" cy="89.75" r="1.22" fill="#2196d0"/>
<circle cx="113.95" cy="89.75" r="1.22" fill="#2196d0"/>
<circle cx="117.85" cy="89.75" r="0.95" fill="#5cb8dc"/>
<circle cx="121.75" cy="89.75" r="1.22" fill="#2196d0"/>
<circle cx="129.55" cy="89.75" r="1.22" fill="#2196d0"/>
<circle cx="152.95" cy="89.75" r="0.95" fill="#5cb8dc"/>
<circle cx="164.65" cy="89.75" r="1.22" fill="#2196d0"/>
<circle cx="172.45" cy="89.75" r="1.22" fill="#2196d0"/>
<circle cx="176.35" cy="89.75" r="0.95" fill="#5cb8dc"/>
<circle cx="180.25" cy="89.75" r="1.22" fill="#2196d0"/>
<circle cx="184.15" cy="89.75" r="1.22" fill="#2196d0"/>
<circle cx="188.05" cy="89.75" r="1.22" fill="#2196d0"/>
<circle cx="191.95" cy="89.75" r="1.22" fill="#2196d0"/>
<circle cx="195.85" cy="89.75" r="1.22" fill="#2196d0"/>
<circle cx="199.75" cy="89.75" r="1.22" fill="#2196d0"/>
<circle cx="203.65" cy="89.75" r="1.22" fill="#2196d0"/>
<circle cx="71.05" cy="93.65" r="1.65" fill="#0b4088"/>
<circle cx="74.95" cy="93.65" r="1.65" fill="#0b4088"/>
<circle cx="78.85" cy="93.65" r="1.75" fill="#062b63"/>
<circle cx="82.75" cy="93.65" r="1.75" fill="#062b63"/>
<circle cx="86.65" cy="93.65" r="1.75" fill="#062b63"/>
<circle cx="90.55" cy="93.65" r="1.5" fill="#1768b8"/>
<circle cx="94.45" cy="93.65" r="1.5" fill="#1768b8"/>
<circle cx="98.35" cy="93.65" r="1.5" fill="#1768b8"/>
<circle cx="102.25" cy="93.65" r="1.22" fill="#2196d0"/>
<circle cx="106.15" cy="93.65" r="0.95" fill="#5cb8dc"/>
<circle cx="110.05" cy="93.65" r="1.22" fill="#2196d0"/>
<circle cx="113.95" cy="93.65" r="1.22" fill="#2196d0"/>
<circle cx="117.85" cy="93.65" r="0.95" fill="#5cb8dc"/>
<circle cx="121.75" cy="93.65" r="0.95" fill="#5cb8dc"/>
<circle cx="129.55" cy="93.65" r="1.22" fill="#2196d0"/>
<circle cx="152.95" cy="93.65" r="0.95" fill="#5cb8dc"/>
<circle cx="164.65" cy="93.65" r="1.22" fill="#2196d0"/>
<circle cx="168.55" cy="93.65" r="0.95" fill="#5cb8dc"/>
<circle cx="172.45" cy="93.65" r="1.22" fill="#2196d0"/>
<circle cx="176.35" cy="93.65" r="1.22" fill="#2196d0"/>
<circle cx="180.25" cy="93.65" r="1.22" fill="#2196d0"/>
<circle cx="184.15" cy="93.65" r="1.22" fill="#2196d0"/>
<circle cx="188.05" cy="93.65" r="1.22" fill="#2196d0"/>
<circle cx="191.95" cy="93.65" r="1.22" fill="#2196d0"/>
<circle cx="195.85" cy="93.65" r="1.22" fill="#2196d0"/>
<circle cx="199.75" cy="93.65" r="1.22" fill="#2196d0"/>
<circle cx="203.65" cy="93.65" r="1.22" fill="#2196d0"/>
<circle cx="71.05" cy="97.55" r="1.5" fill="#1768b8"/>
<circle cx="74.95" cy="97.55" r="1.5" fill="#1768b8"/>
<circle cx="78.85" cy="97.55" r="1.65" fill="#0b4088"/>
<circle cx="82.75" cy="97.55" r="1.5" fill="#1768b8"/>
<circle cx="86.65" cy="97.55" r="1.65" fill="#0b4088"/>
<circle cx="90.55" cy="97.55" r="1.75" fill="#062b63"/>
<circle cx="94.45" cy="97.55" r="1.5" fill="#1768b8"/>
<circle cx="98.35" cy="97.55" r="1.5" fill="#1768b8"/>
<circle cx="102.25" cy="97.55" r="1.22" fill="#2196d0"/>
<circle cx="106.15" cy="97.55" r="1.22" fill="#2196d0"/>
<circle cx="110.05" cy="97.55" r="1.22" fill="#2196d0"/>
<circle cx="113.95" cy="97.55" r="1.22" fill="#2196d0"/>
<circle cx="117.85" cy="97.55" r="1.22" fill="#2196d0"/>
<circle cx="121.75" cy="97.55" r="0.95" fill="#5cb8dc"/>
<circle cx="129.55" cy="97.55" r="1.22" fill="#2196d0"/>
<circle cx="152.95" cy="97.55" r="1.22" fill="#2196d0"/>
<circle cx="164.65" cy="97.55" r="1.22" fill="#2196d0"/>
<circle cx="168.55" cy="97.55" r="0.95" fill="#5cb8dc"/>
<circle cx="172.45" cy="97.55" r="1.22" fill="#2196d0"/>
<circle cx="176.35" cy="97.55" r="0.95" fill="#5cb8dc"/>
<circle cx="180.25" cy="97.55" r="0.95" fill="#5cb8dc"/>
<circle cx="184.15" cy="97.55" r="1.22" fill="#2196d0"/>
<circle cx="188.05" cy="97.55" r="1.22" fill="#2196d0"/>
<circle cx="191.95" cy="97.55" r="1.22" fill="#2196d0"/>
<circle cx="195.85" cy="97.55" r="1.22" fill="#2196d0"/>
<circle cx="199.75" cy="97.55" r="1.22" fill="#2196d0"/>
<circle cx="203.65" cy="97.55" r="1.22" fill="#2196d0"/>
<circle cx="71.05" cy="101.45" r="1.5" fill="#1768b8"/>
<circle cx="74.95" cy="101.45" r="1.5" fill="#1768b8"/>
<circle cx="78.85" cy="101.45" r="1.5" fill="#1768b8"/>
<circle cx="82.75" cy="101.45" r="1.5" fill="#1768b8"/>
<circle cx="86.65" cy="101.45" r="1.5" fill="#1768b8"/>
<circle cx="90.55" cy="101.45" r="1.5" fill="#1768b8"/>
<circle cx="94.45" cy="101.45" r="1.75" fill="#062b63"/>
<circle cx="98.35" cy="101.45" r="1.5" fill="#1768b8"/>
<circle cx="102.25" cy="101.45" r="1.22" fill="#2196d0"/>
<circle cx="106.15" cy="101.45" r="0.95" fill="#5cb8dc"/>
<circle cx="110.05" cy="101.45" r="1.22" fill="#2196d0"/>
<circle cx="113.95" cy="101.45" r="1.22" fill="#2196d0"/>
<circle cx="117.85" cy="101.45" r="0.95" fill="#5cb8dc"/>
<circle cx="121.75" cy="101.45" r="0.95" fill="#5cb8dc"/>
<circle cx="129.55" cy="101.45" r="1.22" fill="#2196d0"/>
<circle cx="164.65" cy="101.45" r="0.95" fill="#5cb8dc"/>
<circle cx="172.45" cy="101.45" r="1.22" fill="#2196d0"/>
<circle cx="176.35" cy="101.45" r="1.22" fill="#2196d0"/>
<circle cx="180.25" cy="101.45" r="1.22" fill="#2196d0"/>
<circle cx="184.15" cy="101.45" r="1.22" fill="#2196d0"/>
<circle cx="188.05" cy="101.45" r="1.22" fill="#2196d0"/>
<circle cx="191.95" cy="101.45" r="1.22" fill="#2196d0"/>
<circle cx="195.85" cy="101.45" r="1.22" fill="#2196d0"/>
<circle cx="199.75" cy="101.45" r="1.22" fill="#2196d0"/>
<circle cx="203.65" cy="101.45" r="1.22" fill="#2196d0"/>
<circle cx="71.05" cy="105.35" r="1.5" fill="#1768b8"/>
<circle cx="74.95" cy="105.35" r="1.5" fill="#1768b8"/>
<circle cx="78.85" cy="105.35" r="1.5" fill="#1768b8"/>
<circle cx="82.75" cy="105.35" r="1.5" fill="#1768b8"/>
<circle cx="86.65" cy="105.35" r="1.5" fill="#1768b8"/>
<circle cx="90.55" cy="105.35" r="1.5" fill="#1768b8"/>
<circle cx="94.45" cy="105.35" r="1.65" fill="#0b4088"/>
<circle cx="98.35" cy="105.35" r="1.75" fill="#062b63"/>
<circle cx="102.25" cy="105.35" r="1.22" fill="#2196d0"/>
<circle cx="106.15" cy="105.35" r="0.95" fill="#5cb8dc"/>
<circle cx="110.05" cy="105.35" r="1.22" fill="#2196d0"/>
<circle cx="113.95" cy="105.35" r="1.22" fill="#2196d0"/>
<circle cx="117.85" cy="105.35" r="0.95" fill="#5cb8dc"/>
<circle cx="121.75" cy="105.35" r="0.95" fill="#5cb8dc"/>
<circle cx="125.65" cy="105.35" r="0.95" fill="#5cb8dc"/>
<circle cx="129.55" cy="105.35" r="1.22" fill="#2196d0"/>
<circle cx="164.65" cy="105.35" r="0.95" fill="#5cb8dc"/>
<circle cx="172.45" cy="105.35" r="1.22" fill="#2196d0"/>
<circle cx="176.35" cy="105.35" r="1.22" fill="#2196d0"/>
<circle cx="180.25" cy="105.35" r="1.22" fill="#2196d0"/>
<circle cx="184.15" cy="105.35" r="1.22" fill="#2196d0"/>
<circle cx="188.05" cy="105.35" r="1.22" fill="#2196d0"/>
<circle cx="191.95" cy="105.35" r="1.22" fill="#2196d0"/>
<circle cx="195.85" cy="105.35" r="1.22" fill="#2196d0"/>
<circle cx="199.75" cy="105.35" r="1.22" fill="#2196d0"/>
<circle cx="203.65" cy="105.35" r="1.22" fill="#2196d0"/>
<circle cx="71.05" cy="109.25" r="1.22" fill="#2196d0"/>
<circle cx="74.95" cy="109.25" r="0.95" fill="#5cb8dc"/>
<circle cx="78.85" cy="109.25" r="0.95" fill="#5cb8dc"/>
<circle cx="82.75" cy="109.25" r="1.22" fill="#2196d0"/>
<circle cx="86.65" cy="109.25" r="1.22" fill="#2196d0"/>
<circle cx="90.55" cy="109.25" r="1.22" fill="#2196d0"/>
<circle cx="94.45" cy="109.25" r="1.22" fill="#2196d0"/>
<circle cx="98.35" cy="109.25" r="1.22" fill="#2196d0"/>
<circle cx="102.25" cy="109.25" r="1.75" fill="#062b63"/>
<circle cx="106.15" cy="109.25" r="1.65" fill="#0b4088"/>
<circle cx="110.05" cy="109.25" r="1.65" fill="#0b4088"/>
<circle cx="113.95" cy="109.25" r="1.5" fill="#1768b8"/>
<circle cx="117.85" cy="109.25" r="1.5" fill="#1768b8"/>
<circle cx="121.75" cy="109.25" r="1.5" fill="#1768b8"/>
<circle cx="125.65" cy="109.25" r="1.22" fill="#2196d0"/>
<circle cx="129.55" cy="109.25" r="1.5" fill="#1768b8"/>
<circle cx="133.45" cy="109.25" r="1.22" fill="#2196d0"/>
<circle cx="141.25" cy="109.25" r="0.95" fill="#5cb8dc"/>
<circle cx="145.15" cy="109.25" r="0.95" fill="#5cb8dc"/>
<circle cx="149.05" cy="109.25" r="0.95" fill="#5cb8dc"/>
<circle cx="152.95" cy="109.25" r="0.95" fill="#5cb8dc"/>
<circle cx="156.85" cy="109.25" r="0.95" fill="#5cb8dc"/>
<circle cx="164.65" cy="109.25" r="1.65" fill="#0b4088"/>
<circle cx="168.55" cy="109.25" r="1.5" fill="#1768b8"/>
<circle cx="172.45" cy="109.25" r="1.5" fill="#1768b8"/>
<circle cx="207.55" cy="109.25" r="1.22" fill="#2196d0"/>
<circle cx="223.15" cy="109.25" r="1.22" fill="#2196d0"/>
<circle cx="250.45" cy="109.25" r="0.95" fill="#5cb8dc"/>
<circle cx="258.25" cy="109.25" r="0.95" fill="#5cb8dc"/>
<circle cx="71.05" cy="113.15" r="0.95" fill="#5cb8dc"/>
<circle cx="82.75" cy="113.15" r="0.95" fill="#5cb8dc"/>
<circle cx="86.65" cy="113.15" r="0.95" fill="#5cb8dc"/>
<circle cx="90.55" cy="113.15" r="1.22" fill="#2196d0"/>
<circle cx="94.45" cy="113.15" r="0.95" fill="#5cb8dc"/>
<circle cx="98.35" cy="113.15" r="0.95" fill="#5cb8dc"/>
<circle cx="102.25" cy="113.15" r="1.65" fill="#0b4088"/>
<circle cx="106.15" cy="113.15" r="1.75" fill="#062b63"/>
<circle cx="110.05" cy="113.15" r="1.65" fill="#0b4088"/>
<circle cx="113.95" cy="113.15" r="1.5" fill="#1768b8"/>
<circle cx="117.85" cy="113.15" r="1.5" fill="#1768b8"/>
<circle cx="121.75" cy="113.15" r="1.5" fill="#1768b8"/>
<circle cx="125.65" cy="113.15" r="1.22" fill="#2196d0"/>
<circle cx="129.55" cy="113.15" r="1.5" fill="#1768b8"/>
<circle cx="133.45" cy="113.15" r="1.22" fill="#2196d0"/>
<circle cx="137.35" cy="113.15" r="0.95" fill="#5cb8dc"/>
<circle cx="141.25" cy="113.15" r="1.22" fill="#2196d0"/>
<circle cx="145.15" cy="113.15" r="1.22" fill="#2196d0"/>
<circle cx="152.95" cy="113.15" r="0.95" fill="#5cb8dc"/>
<circle cx="156.85" cy="113.15" r="0.95" fill="#5cb8dc"/>
<circle cx="164.65" cy="113.15" r="1.5" fill="#1768b8"/>
<circle cx="168.55" cy="113.15" r="1.5" fill="#1768b8"/>
<circle cx="172.45" cy="113.15" r="1.22" fill="#2196d0"/>
<circle cx="207.55" cy="113.15" r="0.95" fill="#5cb8dc"/>
<circle cx="223.15" cy="113.15" r="1.22" fill="#2196d0"/>
<circle cx="250.45" cy="113.15" r="0.95" fill="#5cb8dc"/>
<circle cx="258.25" cy="113.15" r="0.95" fill="#5cb8dc"/>
<circle cx="71.05" cy="117.05" r="1.22" fill="#2196d0"/>
<circle cx="74.95" cy="117.05" r="0.95" fill="#5cb8dc"/>
<circle cx="78.85" cy="117.05" r="0.95" fill="#5cb8dc"/>
<circle cx="82.75" cy="117.05" r="1.22" fill="#2196d0"/>
<circle cx="86.65" cy="117.05" r="1.22" fill="#2196d0"/>
<circle cx="90.55" cy="117.05" r="1.22" fill="#2196d0"/>
<circle cx="94.45" cy="117.05" r="1.22" fill="#2196d0"/>
<circle cx="98.35" cy="117.05" r="1.22" fill="#2196d0"/>
<circle cx="102.25" cy="117.05" r="1.65" fill="#0b4088"/>
<circle cx="106.15" cy="117.05" r="1.65" fill="#0b4088"/>
<circle cx="110.05" cy="117.05" r="1.75" fill="#062b63"/>
<circle cx="113.95" cy="117.05" r="1.5" fill="#1768b8"/>
<circle cx="117.85" cy="117.05" r="1.5" fill="#1768b8"/>
<circle cx="121.75" cy="117.05" r="1.65" fill="#0b4088"/>
<circle cx="125.65" cy="117.05" r="1.22" fill="#2196d0"/>
<circle cx="129.55" cy="117.05" r="1.5" fill="#1768b8"/>
<circle cx="133.45" cy="117.05" r="1.5" fill="#1768b8"/>
<circle cx="137.35" cy="117.05" r="0.95" fill="#5cb8dc"/>
<circle cx="141.25" cy="117.05" r="1.22" fill="#2196d0"/>
<circle cx="145.15" cy="117.05" r="1.22" fill="#2196d0"/>
<circle cx="156.85" cy="117.05" r="0.95" fill="#5cb8dc"/>
<circle cx="164.65" cy="117.05" r="1.65" fill="#0b4088"/>
<circle cx="168.55" cy="117.05" r="1.5" fill="#1768b8"/>
<circle cx="172.45" cy="117.05" r="1.5" fill="#1768b8"/>
<circle cx="207.55" cy="117.05" r="1.5" fill="#1768b8"/>
<circle cx="219.25" cy="117.05" r="0.95" fill="#5cb8dc"/>
<circle cx="223.15" cy="117.05" r="1.5" fill="#1768b8"/>
<circle cx="238.75" cy="117.05" r="1.22" fill="#2196d0"/>
<circle cx="250.45" cy="117.05" r="0.95" fill="#5cb8dc"/>
<circle cx="254.35" cy="117.05" r="0.95" fill="#5cb8dc"/>
<circle cx="258.25" cy="117.05" r="1.22" fill="#2196d0"/>
<circle cx="71.05" cy="120.95" r="1.22" fill="#2196d0"/>
<circle cx="74.95" cy="120.95" r="1.22" fill="#2196d0"/>
<circle cx="78.85" cy="120.95" r="1.22" fill="#2196d0"/>
<circle cx="82.75" cy="120.95" r="1.22" fill="#2196d0"/>
<circle cx="86.65" cy="120.95" r="1.22" fill="#2196d0"/>
<circle cx="90.55" cy="120.95" r="1.22" fill="#2196d0"/>
<circle cx="94.45" cy="120.95" r="1.22" fill="#2196d0"/>
<circle cx="98.35" cy="120.95" r="1.22" fill="#2196d0"/>
<circle cx="102.25" cy="120.95" r="1.5" fill="#1768b8"/>
<circle cx="106.15" cy="120.95" r="1.5" fill="#1768b8"/>
<circle cx="110.05" cy="120.95" r="1.5" fill="#1768b8"/>
<circle cx="113.95" cy="120.95" r="1.75" fill="#062b63"/>
<circle cx="117.85" cy="120.95" r="1.22" fill="#2196d0"/>
<circle cx="121.75" cy="120.95" r="1.22" fill="#2196d0"/>
<circle cx="125.65" cy="120.95" r="1.22" fill="#2196d0"/>
<circle cx="129.55" cy="120.95" r="1.22" fill="#2196d0"/>
<circle cx="133.45" cy="120.95" r="1.22" fill="#2196d0"/>
<circle cx="152.95" cy="120.95" r="0.95" fill="#5cb8dc"/>
<circle cx="164.65" cy="120.95" r="1.65" fill="#0b4088"/>
<circle cx="168.55" cy="120.95" r="1.5" fill="#1768b8"/>
<circle cx="172.45" cy="120.95" r="1.5" fill="#1768b8"/>
<circle cx="71.05" cy="124.85" r="1.22" fill="#2196d0"/>
<circle cx="74.95" cy="124.85" r="0.95" fill="#5cb8dc"/>
<circle cx="78.85" cy="124.85" r="0.95" fill="#5cb8dc"/>
<circle cx="82.75" cy="124.85" r="0.95" fill="#5cb8dc"/>
<circle cx="86.65" cy="124.85" r="0.95" fill="#5cb8dc"/>
<circle cx="90.55" cy="124.85" r="1.22" fill="#2196d0"/>
<circle cx="94.45" cy="124.85" r="0.95" fill="#5cb8dc"/>
<circle cx="98.35" cy="124.85" r="0.95" fill="#5cb8dc"/>
<circle cx="102.25" cy="124.85" r="1.5" fill="#1768b8"/>
<circle cx="106.15" cy="124.85" r="1.5" fill="#1768b8"/>
<circle cx="110.05" cy="124.85" r="1.5" fill="#1768b8"/>
<circle cx="113.95" cy="124.85" r="1.22" fill="#2196d0"/>
<circle cx="117.85" cy="124.85" r="1.75" fill="#062b63"/>
<circle cx="121.75" cy="124.85" r="1.65" fill="#0b4088"/>
<circle cx="125.65" cy="124.85" r="1.5" fill="#1768b8"/>
<circle cx="129.55" cy="124.85" r="1.5" fill="#1768b8"/>
<circle cx="133.45" cy="124.85" r="1.5" fill="#1768b8"/>
<circle cx="137.35" cy="124.85" r="0.95" fill="#5cb8dc"/>
<circle cx="141.25" cy="124.85" r="1.22" fill="#2196d0"/>
<circle cx="145.15" cy="124.85" r="1.22" fill="#2196d0"/>
<circle cx="156.85" cy="124.85" r="0.95" fill="#5cb8dc"/>
<circle cx="160.75" cy="124.85" r="0.95" fill="#5cb8dc"/>
<circle cx="164.65" cy="124.85" r="1.5" fill="#1768b8"/>
<circle cx="168.55" cy="124.85" r="1.5" fill="#1768b8"/>
<circle cx="172.45" cy="124.85" r="1.5" fill="#1768b8"/>
<circle cx="191.95" cy="124.85" r="0.95" fill="#5cb8dc"/>
<circle cx="207.55" cy="124.85" r="0.95" fill="#5cb8dc"/>
<circle cx="223.15" cy="124.85" r="1.22" fill="#2196d0"/>
<circle cx="230.95" cy="124.85" r="0.95" fill="#5cb8dc"/>
<circle cx="234.85" cy="124.85" r="0.95" fill="#5cb8dc"/>
<circle cx="250.45" cy="124.85" r="1.22" fill="#2196d0"/>
<circle cx="254.35" cy="124.85" r="0.95" fill="#5cb8dc"/>
<circle cx="258.25" cy="124.85" r="1.5" fill="#1768b8"/>
<circle cx="71.05" cy="128.75" r="0.95" fill="#5cb8dc"/>
<circle cx="74.95" cy="128.75" r="0.95" fill="#5cb8dc"/>
<circle cx="78.85" cy="128.75" r="1.22" fill="#2196d0"/>
<circle cx="82.75" cy="128.75" r="1.22" fill="#2196d0"/>
<circle cx="86.65" cy="128.75" r="0.95" fill="#5cb8dc"/>
<circle cx="90.55" cy="128.75" r="0.95" fill="#5cb8dc"/>
<circle cx="94.45" cy="128.75" r="0.95" fill="#5cb8dc"/>
<circle cx="98.35" cy="128.75" r="0.95" fill="#5cb8dc"/>
<circle cx="102.25" cy="128.75" r="1.5" fill="#1768b8"/>
<circle cx="106.15" cy="128.75" r="1.5" fill="#1768b8"/>
<circle cx="110.05" cy="128.75" r="1.65" fill="#0b4088"/>
<circle cx="113.95" cy="128.75" r="1.5" fill="#1768b8"/>
<circle cx="117.85" cy="128.75" r="1.65" fill="#0b4088"/>
<circle cx="121.75" cy="128.75" r="1.75" fill="#062b63"/>
<circle cx="125.65" cy="128.75" r="1.5" fill="#1768b8"/>
<circle cx="129.55" cy="128.75" r="1.5" fill="#1768b8"/>
<circle cx="133.45" cy="128.75" r="1.5" fill="#1768b8"/>
<circle cx="137.35" cy="128.75" r="1.22" fill="#2196d0"/>
<circle cx="141.25" cy="128.75" r="1.5" fill="#1768b8"/>
<circle cx="145.15" cy="128.75" r="1.5" fill="#1768b8"/>
<circle cx="152.95" cy="128.75" r="0.95" fill="#5cb8dc"/>
<circle cx="156.85" cy="128.75" r="0.95" fill="#5cb8dc"/>
<circle cx="160.75" cy="128.75" r="0.95" fill="#5cb8dc"/>
<circle cx="164.65" cy="128.75" r="1.5" fill="#1768b8"/>
<circle cx="168.55" cy="128.75" r="1.5" fill="#1768b8"/>
<circle cx="172.45" cy="128.75" r="1.22" fill="#2196d0"/>
<circle cx="207.55" cy="128.75" r="0.95" fill="#5cb8dc"/>
<circle cx="223.15" cy="128.75" r="1.22" fill="#2196d0"/>
<circle cx="234.85" cy="128.75" r="0.95" fill="#5cb8dc"/>
<circle cx="238.75" cy="128.75" r="0.95" fill="#5cb8dc"/>
<circle cx="250.45" cy="128.75" r="1.22" fill="#2196d0"/>
<circle cx="254.35" cy="128.75" r="1.22" fill="#2196d0"/>
<circle cx="258.25" cy="128.75" r="1.5" fill="#1768b8"/>
<circle cx="98.35" cy="132.65" r="0.95" fill="#5cb8dc"/>
<circle cx="102.25" cy="132.65" r="1.22" fill="#2196d0"/>
<circle cx="106.15" cy="132.65" r="1.22" fill="#2196d0"/>
<circle cx="110.05" cy="132.65" r="1.22" fill="#2196d0"/>
<circle cx="113.95" cy="132.65" r="1.22" fill="#2196d0"/>
<circle cx="117.85" cy="132.65" r="1.5" fill="#1768b8"/>
<circle cx="121.75" cy="132.65" r="1.5" fill="#1768b8"/>
<circle cx="125.65" cy="132.65" r="1.75" fill="#062b63"/>
<circle cx="129.55" cy="132.65" r="1.5" fill="#1768b8"/>
<circle cx="133.45" cy="132.65" r="1.22" fill="#2196d0"/>
<circle cx="141.25" cy="132.65" r="0.95" fill="#5cb8dc"/>
<circle cx="145.15" cy="132.65" r="0.95" fill="#5cb8dc"/>
<circle cx="156.85" cy="132.65" r="0.95" fill="#5cb8dc"/>
<circle cx="164.65" cy="132.65" r="1.22" fill="#2196d0"/>
<circle cx="168.55" cy="132.65" r="1.22" fill="#2196d0"/>
<circle cx="172.45" cy="132.65" r="1.22" fill="#2196d0"/>
<circle cx="184.15" cy="132.65" r="0.95" fill="#5cb8dc"/>
<circle cx="191.95" cy="132.65" r="0.95" fill="#5cb8dc"/>
<circle cx="199.75" cy="132.65" r="0.95" fill="#5cb8dc"/>
<circle cx="223.15" cy="132.65" r="0.95" fill="#5cb8dc"/>
<circle cx="250.45" cy="132.65" r="1.22" fill="#2196d0"/>
<circle cx="254.35" cy="132.65" r="0.95" fill="#5cb8dc"/>
<circle cx="258.25" cy="132.65" r="1.22" fill="#2196d0"/>
<circle cx="71.05" cy="136.55" r="1.22" fill="#2196d0"/>
<circle cx="74.95" cy="136.55" r="1.22" fill="#2196d0"/>
<circle cx="78.85" cy="136.55" r="1.22" fill="#2196d0"/>
<circle cx="82.75" cy="136.55" r="1.22" fill="#2196d0"/>
<circle cx="86.65" cy="136.55" r="1.22" fill="#2196d0"/>
<circle cx="90.55" cy="136.55" r="1.22" fill="#2196d0"/>
<circle cx="94.45" cy="136.55" r="1.22" fill="#2196d0"/>
<circle cx="98.35" cy="136.55" r="1.22" fill="#2196d0"/>
<circle cx="102.25" cy="136.55" r="1.5" fill="#1768b8"/>
<circle cx="106.15" cy="136.55" r="1.5" fill="#1768b8"/>
<circle cx="110.05" cy="136.55" r="1.5" fill="#1768b8"/>
<circle cx="113.95" cy="136.55" r="1.5" fill="#1768b8"/>
<circle cx="117.85" cy="136.55" r="1.5" fill="#1768b8"/>
<circle cx="121.75" cy="136.55" r="1.5" fill="#1768b8"/>
<circle cx="125.65" cy="136.55" r="1.5" fill="#1768b8"/>
<circle cx="129.55" cy="136.55" r="1.75" fill="#062b63"/>
<circle cx="133.45" cy="136.55" r="1.5" fill="#1768b8"/>
<circle cx="141.25" cy="136.55" r="0.95" fill="#5cb8dc"/>
<circle cx="145.15" cy="136.55" r="1.22" fill="#2196d0"/>
<circle cx="164.65" cy="136.55" r="1.22" fill="#2196d0"/>
<circle cx="168.55" cy="136.55" r="1.22" fill="#2196d0"/>
<circle cx="172.45" cy="136.55" r="1.22" fill="#2196d0"/>
<circle cx="191.95" cy="136.55" r="0.95" fill="#5cb8dc"/>
<circle cx="203.65" cy="136.55" r="0.95" fill="#5cb8dc"/>
<circle cx="207.55" cy="136.55" r="0.95" fill="#5cb8dc"/>
<circle cx="250.45" cy="136.55" r="0.95" fill="#5cb8dc"/>
<circle cx="254.35" cy="136.55" r="0.95" fill="#5cb8dc"/>
<circle cx="258.25" cy="136.55" r="1.22" fill="#2196d0"/>
<circle cx="102.25" cy="140.45" r="1.5" fill="#1768b8"/>
<circle cx="106.15" cy="140.45" r="1.5" fill="#1768b8"/>
<circle cx="110.05" cy="140.45" r="1.5" fill="#1768b8"/>
<circle cx="113.95" cy="140.45" r="1.5" fill="#1768b8"/>
<circle cx="117.85" cy="140.45" r="1.5" fill="#1768b8"/>
<circle cx="121.75" cy="140.45" r="1.5" fill="#1768b8"/>
<circle cx="125.65" cy="140.45" r="1.22" fill="#2196d0"/>
<circle cx="129.55" cy="140.45" r="1.5" fill="#1768b8"/>
<circle cx="133.45" cy="140.45" r="1.75" fill="#062b63"/>
<circle cx="137.35" cy="140.45" r="1.65" fill="#0b4088"/>
<circle cx="141.25" cy="140.45" r="1.65" fill="#0b4088"/>
<circle cx="145.15" cy="140.45" r="1.65" fill="#0b4088"/>
<circle cx="164.65" cy="140.45" r="1.22" fill="#2196d0"/>
<circle cx="168.55" cy="140.45" r="1.22" fill="#2196d0"/>
<circle cx="172.45" cy="140.45" r="0.95" fill="#5cb8dc"/>
<circle cx="106.15" cy="144.35" r="0.95" fill="#5cb8dc"/>
<circle cx="110.05" cy="144.35" r="0.95" fill="#5cb8dc"/>
<circle cx="117.85" cy="144.35" r="0.95" fill="#5cb8dc"/>
<circle cx="121.75" cy="144.35" r="1.22" fill="#2196d0"/>
<circle cx="133.45" cy="144.35" r="1.65" fill="#0b4088"/>
<circle cx="137.35" cy="144.35" r="1.75" fill="#062b63"/>
<circle cx="141.25" cy="144.35" r="1.65" fill="#0b4088"/>
<circle cx="145.15" cy="144.35" r="1.65" fill="#0b4088"/>
<circle cx="102.25" cy="148.25" r="0.95" fill="#5cb8dc"/>
<circle cx="106.15" cy="148.25" r="1.22" fill="#2196d0"/>
<circle cx="110.05" cy="148.25" r="1.22" fill="#2196d0"/>
<circle cx="117.85" cy="148.25" r="1.22" fill="#2196d0"/>
<circle cx="121.75" cy="148.25" r="1.5" fill="#1768b8"/>
<circle cx="125.65" cy="148.25" r="0.95" fill="#5cb8dc"/>
<circle cx="129.55" cy="148.25" r="0.95" fill="#5cb8dc"/>
<circle cx="133.45" cy="148.25" r="1.65" fill="#0b4088"/>
<circle cx="137.35" cy="148.25" r="1.65" fill="#0b4088"/>
<circle cx="141.25" cy="148.25" r="1.75" fill="#062b63"/>
<circle cx="145.15" cy="148.25" r="1.65" fill="#0b4088"/>
<circle cx="102.25" cy="152.15" r="0.95" fill="#5cb8dc"/>
<circle cx="106.15" cy="152.15" r="1.22" fill="#2196d0"/>
<circle cx="110.05" cy="152.15" r="1.22" fill="#2196d0"/>
<circle cx="117.85" cy="152.15" r="1.22" fill="#2196d0"/>
<circle cx="121.75" cy="152.15" r="1.5" fill="#1768b8"/>
<circle cx="125.65" cy="152.15" r="0.95" fill="#5cb8dc"/>
<circle cx="129.55" cy="152.15" r="1.22" fill="#2196d0"/>
<circle cx="133.45" cy="152.15" r="1.65" fill="#0b4088"/>
<circle cx="137.35" cy="152.15" r="1.65" fill="#0b4088"/>
<circle cx="141.25" cy="152.15" r="1.65" fill="#0b4088"/>
<circle cx="145.15" cy="152.15" r="1.75" fill="#062b63"/>
<circle cx="102.25" cy="156.05" r="0.95" fill="#5cb8dc"/>
<circle cx="149.05" cy="156.05" r="1.75" fill="#062b63"/>
<circle cx="152.95" cy="156.05" r="0.95" fill="#5cb8dc"/>
<circle cx="156.85" cy="156.05" r="0.95" fill="#5cb8dc"/>
<circle cx="172.45" cy="156.05" r="0.95" fill="#5cb8dc"/>
<circle cx="180.25" cy="156.05" r="1.22" fill="#2196d0"/>
<circle cx="184.15" cy="156.05" r="1.22" fill="#2196d0"/>
<circle cx="188.05" cy="156.05" r="1.22" fill="#2196d0"/>
<circle cx="191.95" cy="156.05" r="0.95" fill="#5cb8dc"/>
<circle cx="195.85" cy="156.05" r="1.22" fill="#2196d0"/>
<circle cx="199.75" cy="156.05" r="1.5" fill="#1768b8"/>
<circle cx="203.65" cy="156.05" r="0.95" fill="#5cb8dc"/>
<circle cx="71.05" cy="159.95" r="0.95" fill="#5cb8dc"/>
<circle cx="74.95" cy="159.95" r="0.95" fill="#5cb8dc"/>
<circle cx="78.85" cy="159.95" r="0.95" fill="#5cb8dc"/>
<circle cx="82.75" cy="159.95" r="0.95" fill="#5cb8dc"/>
<circle cx="86.65" cy="159.95" r="0.95" fill="#5cb8dc"/>
<circle cx="90.55" cy="159.95" r="1.22" fill="#2196d0"/>
<circle cx="102.25" cy="159.95" r="0.95" fill="#5cb8dc"/>
<circle cx="106.15" cy="159.95" r="0.95" fill="#5cb8dc"/>
<circle cx="113.95" cy="159.95" r="0.95" fill="#5cb8dc"/>
<circle cx="121.75" cy="159.95" r="0.95" fill="#5cb8dc"/>
<circle cx="149.05" cy="159.95" r="0.95" fill="#5cb8dc"/>
<circle cx="152.95" cy="159.95" r="1.75" fill="#062b63"/>
<circle cx="156.85" cy="159.95" r="1.22" fill="#2196d0"/>
<circle cx="160.75" cy="159.95" r="1.22" fill="#2196d0"/>
<circle cx="164.65" cy="159.95" r="0.95" fill="#5cb8dc"/>
<circle cx="172.45" cy="159.95" r="0.95" fill="#5cb8dc"/>
<circle cx="102.25" cy="163.85" r="0.95" fill="#5cb8dc"/>
<circle cx="106.15" cy="163.85" r="0.95" fill="#5cb8dc"/>
<circle cx="110.05" cy="163.85" r="0.95" fill="#5cb8dc"/>
<circle cx="117.85" cy="163.85" r="0.95" fill="#5cb8dc"/>
<circle cx="121.75" cy="163.85" r="0.95" fill="#5cb8dc"/>
<circle cx="125.65" cy="163.85" r="0.95" fill="#5cb8dc"/>
<circle cx="149.05" cy="163.85" r="0.95" fill="#5cb8dc"/>
<circle cx="152.95" cy="163.85" r="1.22" fill="#2196d0"/>
<circle cx="156.85" cy="163.85" r="1.75" fill="#062b63"/>
<circle cx="160.75" cy="163.85" r="1.65" fill="#0b4088"/>
<circle cx="211.45" cy="163.85" r="1.22" fill="#2196d0"/>
<circle cx="117.85" cy="167.75" r="0.95" fill="#5cb8dc"/>
<circle cx="121.75" cy="167.75" r="0.95" fill="#5cb8dc"/>
<circle cx="152.95" cy="167.75" r="1.22" fill="#2196d0"/>
<circle cx="156.85" cy="167.75" r="1.65" fill="#0b4088"/>
<circle cx="160.75" cy="167.75" r="1.75" fill="#062b63"/>
<circle cx="211.45" cy="167.75" r="1.22" fill="#2196d0"/>
<circle cx="71.05" cy="171.65" r="1.22" fill="#2196d0"/>
<circle cx="74.95" cy="171.65" r="1.22" fill="#2196d0"/>
<circle cx="78.85" cy="171.65" r="0.95" fill="#5cb8dc"/>
<circle cx="82.75" cy="171.65" r="1.22" fill="#2196d0"/>
<circle cx="86.65" cy="171.65" r="1.22" fill="#2196d0"/>
<circle cx="90.55" cy="171.65" r="1.22" fill="#2196d0"/>
<circle cx="94.45" cy="171.65" r="0.95" fill="#5cb8dc"/>
<circle cx="98.35" cy="171.65" r="0.95" fill="#5cb8dc"/>
<circle cx="102.25" cy="171.65" r="1.65" fill="#0b4088"/>
<circle cx="106.15" cy="171.65" r="1.5" fill="#1768b8"/>
<circle cx="110.05" cy="171.65" r="1.65" fill="#0b4088"/>
<circle cx="113.95" cy="171.65" r="1.65" fill="#0b4088"/>
<circle cx="117.85" cy="171.65" r="1.5" fill="#1768b8"/>
<circle cx="121.75" cy="171.65" r="1.5" fill="#1768b8"/>
<circle cx="125.65" cy="171.65" r="1.22" fill="#2196d0"/>
<circle cx="129.55" cy="171.65" r="1.22" fill="#2196d0"/>
<circle cx="133.45" cy="171.65" r="1.22" fill="#2196d0"/>
<circle cx="152.95" cy="171.65" r="0.95" fill="#5cb8dc"/>
<circle cx="164.65" cy="171.65" r="1.75" fill="#062b63"/>
<circle cx="168.55" cy="171.65" r="1.65" fill="#0b4088"/>
<circle cx="172.45" cy="171.65" r="1.5" fill="#1768b8"/>
<circle cx="207.55" cy="171.65" r="0.95" fill="#5cb8dc"/>
<circle cx="223.15" cy="171.65" r="1.22" fill="#2196d0"/>
<circle cx="71.05" cy="175.55" r="0.95" fill="#5cb8dc"/>
<circle cx="86.65" cy="175.55" r="0.95" fill="#5cb8dc"/>
<circle cx="90.55" cy="175.55" r="0.95" fill="#5cb8dc"/>
<circle cx="102.25" cy="175.55" r="1.5" fill="#1768b8"/>
<circle cx="106.15" cy="175.55" r="1.5" fill="#1768b8"/>
<circle cx="110.05" cy="175.55" r="1.5" fill="#1768b8"/>
<circle cx="113.95" cy="175.55" r="1.5" fill="#1768b8"/>
<circle cx="117.85" cy="175.55" r="1.5" fill="#1768b8"/>
<circle cx="121.75" cy="175.55" r="1.5" fill="#1768b8"/>
<circle cx="125.65" cy="175.55" r="1.22" fill="#2196d0"/>
<circle cx="129.55" cy="175.55" r="1.22" fill="#2196d0"/>
<circle cx="133.45" cy="175.55" r="1.22" fill="#2196d0"/>
<circle cx="164.65" cy="175.55" r="1.65" fill="#0b4088"/>
<circle cx="168.55" cy="175.55" r="1.75" fill="#062b63"/>
<circle cx="172.45" cy="175.55" r="1.5" fill="#1768b8"/>
<circle cx="207.55" cy="175.55" r="0.95" fill="#5cb8dc"/>
<circle cx="71.05" cy="179.45" r="1.22" fill="#2196d0"/>
<circle cx="74.95" cy="179.45" r="1.22" fill="#2196d0"/>
<circle cx="78.85" cy="179.45" r="0.95" fill="#5cb8dc"/>
<circle cx="82.75" cy="179.45" r="1.22" fill="#2196d0"/>
<circle cx="86.65" cy="179.45" r="1.22" fill="#2196d0"/>
<circle cx="90.55" cy="179.45" r="1.22" fill="#2196d0"/>
<circle cx="94.45" cy="179.45" r="1.22" fill="#2196d0"/>
<circle cx="98.35" cy="179.45" r="1.22" fill="#2196d0"/>
<circle cx="102.25" cy="179.45" r="1.5" fill="#1768b8"/>
<circle cx="106.15" cy="179.45" r="1.22" fill="#2196d0"/>
<circle cx="110.05" cy="179.45" r="1.5" fill="#1768b8"/>
<circle cx="113.95" cy="179.45" r="1.5" fill="#1768b8"/>
<circle cx="117.85" cy="179.45" r="1.5" fill="#1768b8"/>
<circle cx="121.75" cy="179.45" r="1.22" fill="#2196d0"/>
<circle cx="125.65" cy="179.45" r="1.22" fill="#2196d0"/>
<circle cx="129.55" cy="179.45" r="1.22" fill="#2196d0"/>
<circle cx="133.45" cy="179.45" r="0.95" fill="#5cb8dc"/>
<circle cx="149.05" cy="179.45" r="0.95" fill="#5cb8dc"/>
<circle cx="152.95" cy="179.45" r="0.95" fill="#5cb8dc"/>
<circle cx="164.65" cy="179.45" r="1.5" fill="#1768b8"/>
<circle cx="168.55" cy="179.45" r="1.5" fill="#1768b8"/>
<circle cx="172.45" cy="179.45" r="1.75" fill="#062b63"/>
<circle cx="207.55" cy="179.45" r="0.95" fill="#5cb8dc"/>
<circle cx="39.85" cy="183.35" r="1.0" fill="#f8a284"/>
<circle cx="43.75" cy="183.35" r="1.0" fill="#f8a284"/>
<circle cx="71.05" cy="183.35" r="0.95" fill="#5cb8dc"/>
<circle cx="78.85" cy="183.35" r="1.22" fill="#2196d0"/>
<circle cx="82.75" cy="183.35" r="0.95" fill="#5cb8dc"/>
<circle cx="86.65" cy="183.35" r="1.22" fill="#2196d0"/>
<circle cx="90.55" cy="183.35" r="0.95" fill="#5cb8dc"/>
<circle cx="94.45" cy="183.35" r="1.22" fill="#2196d0"/>
<circle cx="98.35" cy="183.35" r="1.22" fill="#2196d0"/>
<circle cx="176.35" cy="183.35" r="1.75" fill="#062b63"/>
<circle cx="180.25" cy="183.35" r="1.22" fill="#2196d0"/>
<circle cx="184.15" cy="183.35" r="1.22" fill="#2196d0"/>
<circle cx="188.05" cy="183.35" r="1.22" fill="#2196d0"/>
<circle cx="191.95" cy="183.35" r="1.22" fill="#2196d0"/>
<circle cx="195.85" cy="183.35" r="1.22" fill="#2196d0"/>
<circle cx="199.75" cy="183.35" r="1.22" fill="#2196d0"/>
<circle cx="203.65" cy="183.35" r="1.22" fill="#2196d0"/>
<circle cx="242.65" cy="183.35" r="0.95" fill="#5cb8dc"/>
<circle cx="246.55" cy="183.35" r="0.95" fill="#5cb8dc"/>
<circle cx="71.05" cy="187.25" r="1.22" fill="#2196d0"/>
<circle cx="74.95" cy="187.25" r="0.95" fill="#5cb8dc"/>
<circle cx="78.85" cy="187.25" r="1.22" fill="#2196d0"/>
<circle cx="82.75" cy="187.25" r="1.22" fill="#2196d0"/>
<circle cx="86.65" cy="187.25" r="1.22" fill="#2196d0"/>
<circle cx="90.55" cy="187.25" r="0.95" fill="#5cb8dc"/>
<circle cx="94.45" cy="187.25" r="1.22" fill="#2196d0"/>
<circle cx="98.35" cy="187.25" r="1.22" fill="#2196d0"/>
<circle cx="149.05" cy="187.25" r="1.22" fill="#2196d0"/>
<circle cx="176.35" cy="187.25" r="1.22" fill="#2196d0"/>
<circle cx="180.25" cy="187.25" r="1.75" fill="#062b63"/>
<circle cx="184.15" cy="187.25" r="1.65" fill="#0b4088"/>
<circle cx="188.05" cy="187.25" r="1.65" fill="#0b4088"/>
<circle cx="191.95" cy="187.25" r="1.5" fill="#1768b8"/>
<circle cx="195.85" cy="187.25" r="1.5" fill="#1768b8"/>
<circle cx="199.75" cy="187.25" r="1.65" fill="#0b4088"/>
<circle cx="203.65" cy="187.25" r="1.5" fill="#1768b8"/>
<circle cx="28.15" cy="191.15" r="1.0" fill="#f8a284"/>
<circle cx="35.95" cy="191.15" r="1.0" fill="#f8a284"/>
<circle cx="39.85" cy="191.15" r="1.0" fill="#f8a284"/>
<circle cx="43.75" cy="191.15" r="1.28" fill="#f27254"/>
<circle cx="51.55" cy="191.15" r="1.28" fill="#f27254"/>
<circle cx="55.45" cy="191.15" r="1.0" fill="#f8a284"/>
<circle cx="59.35" cy="191.15" r="1.0" fill="#f8a284"/>
<circle cx="63.25" cy="191.15" r="1.0" fill="#f8a284"/>
<circle cx="67.15" cy="191.15" r="1.0" fill="#f8a284"/>
<circle cx="71.05" cy="191.15" r="1.22" fill="#2196d0"/>
<circle cx="74.95" cy="191.15" r="1.22" fill="#2196d0"/>
<circle cx="78.85" cy="191.15" r="1.22" fill="#2196d0"/>
<circle cx="82.75" cy="191.15" r="1.22" fill="#2196d0"/>
<circle cx="86.65" cy="191.15" r="1.22" fill="#2196d0"/>
<circle cx="90.55" cy="191.15" r="1.22" fill="#2196d0"/>
<circle cx="94.45" cy="191.15" r="1.22" fill="#2196d0"/>
<circle cx="98.35" cy="191.15" r="1.22" fill="#2196d0"/>
<circle cx="125.65" cy="191.15" r="0.95" fill="#5cb8dc"/>
<circle cx="149.05" cy="191.15" r="1.22" fill="#2196d0"/>
<circle cx="176.35" cy="191.15" r="1.22" fill="#2196d0"/>
<circle cx="180.25" cy="191.15" r="1.65" fill="#0b4088"/>
<circle cx="184.15" cy="191.15" r="1.75" fill="#062b63"/>
<circle cx="188.05" cy="191.15" r="1.65" fill="#0b4088"/>
<circle cx="191.95" cy="191.15" r="1.65" fill="#0b4088"/>
<circle cx="195.85" cy="191.15" r="1.65" fill="#0b4088"/>
<circle cx="199.75" cy="191.15" r="1.65" fill="#0b4088"/>
<circle cx="203.65" cy="191.15" r="1.5" fill="#1768b8"/>
<circle cx="227.05" cy="191.15" r="0.95" fill="#5cb8dc"/>
<circle cx="230.95" cy="191.15" r="0.95" fill="#5cb8dc"/>
<circle cx="234.85" cy="191.15" r="0.95" fill="#5cb8dc"/>
<circle cx="258.25" cy="191.15" r="0.95" fill="#5cb8dc"/>
<circle cx="39.85" cy="195.05" r="1.0" fill="#f8a284"/>
<circle cx="43.75" cy="195.05" r="1.0" fill="#f8a284"/>
<circle cx="51.55" cy="195.05" r="1.0" fill="#f8a284"/>
<circle cx="63.25" cy="195.05" r="1.0" fill="#f8a284"/>
<circle cx="67.15" cy="195.05" r="1.0" fill="#f8a284"/>
<circle cx="71.05" cy="195.05" r="1.22" fill="#2196d0"/>
<circle cx="74.95" cy="195.05" r="0.95" fill="#5cb8dc"/>
<circle cx="78.85" cy="195.05" r="1.22" fill="#2196d0"/>
<circle cx="82.75" cy="195.05" r="1.22" fill="#2196d0"/>
<circle cx="86.65" cy="195.05" r="1.22" fill="#2196d0"/>
<circle cx="90.55" cy="195.05" r="1.22" fill="#2196d0"/>
<circle cx="94.45" cy="195.05" r="1.22" fill="#2196d0"/>
<circle cx="98.35" cy="195.05" r="1.22" fill="#2196d0"/>
<circle cx="149.05" cy="195.05" r="1.22" fill="#2196d0"/>
<circle cx="176.35" cy="195.05" r="1.22" fill="#2196d0"/>
<circle cx="180.25" cy="195.05" r="1.65" fill="#0b4088"/>
<circle cx="184.15" cy="195.05" r="1.65" fill="#0b4088"/>
<circle cx="188.05" cy="195.05" r="1.75" fill="#062b63"/>
<circle cx="191.95" cy="195.05" r="1.65" fill="#0b4088"/>
<circle cx="195.85" cy="195.05" r="1.65" fill="#0b4088"/>
<circle cx="199.75" cy="195.05" r="1.65" fill="#0b4088"/>
<circle cx="203.65" cy="195.05" r="1.5" fill="#1768b8"/>
<circle cx="230.95" cy="195.05" r="0.95" fill="#5cb8dc"/>
<circle cx="234.85" cy="195.05" r="0.95" fill="#5cb8dc"/>
<circle cx="258.25" cy="195.05" r="0.95" fill="#5cb8dc"/>
<circle cx="43.75" cy="198.95" r="1.0" fill="#f8a284"/>
<circle cx="71.05" cy="198.95" r="1.22" fill="#2196d0"/>
<circle cx="74.95" cy="198.95" r="1.22" fill="#2196d0"/>
<circle cx="78.85" cy="198.95" r="1.22" fill="#2196d0"/>
<circle cx="82.75" cy="198.95" r="1.22" fill="#2196d0"/>
<circle cx="86.65" cy="198.95" r="1.22" fill="#2196d0"/>
<circle cx="90.55" cy="198.95" r="1.22" fill="#2196d0"/>
<circle cx="94.45" cy="198.95" r="1.22" fill="#2196d0"/>
<circle cx="98.35" cy="198.95" r="1.22" fill="#2196d0"/>
<circle cx="117.85" cy="198.95" r="0.95" fill="#5cb8dc"/>
<circle cx="125.65" cy="198.95" r="0.95" fill="#5cb8dc"/>
<circle cx="129.55" cy="198.95" r="0.95" fill="#5cb8dc"/>
<circle cx="149.05" cy="198.95" r="0.95" fill="#5cb8dc"/>
<circle cx="176.35" cy="198.95" r="1.22" fill="#2196d0"/>
<circle cx="180.25" cy="198.95" r="1.5" fill="#1768b8"/>
<circle cx="184.15" cy="198.95" r="1.65" fill="#0b4088"/>
<circle cx="188.05" cy="198.95" r="1.65" fill="#0b4088"/>
<circle cx="191.95" cy="198.95" r="1.75" fill="#062b63"/>
<circle cx="195.85" cy="198.95" r="1.65" fill="#0b4088"/>
<circle cx="199.75" cy="198.95" r="1.65" fill="#0b4088"/>
<circle cx="203.65" cy="198.95" r="1.5" fill="#1768b8"/>
<circle cx="43.75" cy="202.85" r="1.0" fill="#f8a284"/>
<circle cx="71.05" cy="202.85" r="1.22" fill="#2196d0"/>
<circle cx="74.95" cy="202.85" r="0.95" fill="#5cb8dc"/>
<circle cx="78.85" cy="202.85" r="1.22" fill="#2196d0"/>
<circle cx="82.75" cy="202.85" r="1.22" fill="#2196d0"/>
<circle cx="86.65" cy="202.85" r="1.22" fill="#2196d0"/>
<circle cx="90.55" cy="202.85" r="1.22" fill="#2196d0"/>
<circle cx="94.45" cy="202.85" r="1.22" fill="#2196d0"/>
<circle cx="98.35" cy="202.85" r="1.22" fill="#2196d0"/>
<circle cx="149.05" cy="202.85" r="1.22" fill="#2196d0"/>
<circle cx="176.35" cy="202.85" r="1.22" fill="#2196d0"/>
<circle cx="180.25" cy="202.85" r="1.5" fill="#1768b8"/>
<circle cx="184.15" cy="202.85" r="1.65" fill="#0b4088"/>
<circle cx="188.05" cy="202.85" r="1.65" fill="#0b4088"/>
<circle cx="191.95" cy="202.85" r="1.65" fill="#0b4088"/>
<circle cx="195.85" cy="202.85" r="1.75" fill="#062b63"/>
<circle cx="199.75" cy="202.85" r="1.65" fill="#0b4088"/>
<circle cx="203.65" cy="202.85" r="1.5" fill="#1768b8"/>
<circle cx="43.75" cy="206.75" r="1.0" fill="#f8a284"/>
<circle cx="71.05" cy="206.75" r="1.22" fill="#2196d0"/>
<circle cx="74.95" cy="206.75" r="0.95" fill="#5cb8dc"/>
<circle cx="78.85" cy="206.75" r="1.22" fill="#2196d0"/>
<circle cx="82.75" cy="206.75" r="1.22" fill="#2196d0"/>
<circle cx="86.65" cy="206.75" r="1.22" fill="#2196d0"/>
<circle cx="90.55" cy="206.75" r="1.22" fill="#2196d0"/>
<circle cx="94.45" cy="206.75" r="1.22" fill="#2196d0"/>
<circle cx="98.35" cy="206.75" r="1.22" fill="#2196d0"/>
<circle cx="125.65" cy="206.75" r="0.95" fill="#5cb8dc"/>
<circle cx="149.05" cy="206.75" r="1.5" fill="#1768b8"/>
<circle cx="176.35" cy="206.75" r="1.22" fill="#2196d0"/>
<circle cx="180.25" cy="206.75" r="1.65" fill="#0b4088"/>
<circle cx="184.15" cy="206.75" r="1.65" fill="#0b4088"/>
<circle cx="188.05" cy="206.75" r="1.65" fill="#0b4088"/>
<circle cx="191.95" cy="206.75" r="1.65" fill="#0b4088"/>
<circle cx="195.85" cy="206.75" r="1.65" fill="#0b4088"/>
<circle cx="199.75" cy="206.75" r="1.75" fill="#062b63"/>
<circle cx="203.65" cy="206.75" r="1.5" fill="#1768b8"/>
<circle cx="43.75" cy="210.65" r="1.0" fill="#f8a284"/>
<circle cx="51.55" cy="210.65" r="1.0" fill="#f8a284"/>
<circle cx="59.35" cy="210.65" r="1.0" fill="#f8a284"/>
<circle cx="63.25" cy="210.65" r="1.0" fill="#f8a284"/>
<circle cx="67.15" cy="210.65" r="1.0" fill="#f8a284"/>
<circle cx="71.05" cy="210.65" r="1.22" fill="#2196d0"/>
<circle cx="74.95" cy="210.65" r="0.95" fill="#5cb8dc"/>
<circle cx="78.85" cy="210.65" r="1.22" fill="#2196d0"/>
<circle cx="82.75" cy="210.65" r="1.22" fill="#2196d0"/>
<circle cx="86.65" cy="210.65" r="1.22" fill="#2196d0"/>
<circle cx="90.55" cy="210.65" r="1.22" fill="#2196d0"/>
<circle cx="94.45" cy="210.65" r="1.22" fill="#2196d0"/>
<circle cx="98.35" cy="210.65" r="1.22" fill="#2196d0"/>
<circle cx="129.55" cy="210.65" r="0.95" fill="#5cb8dc"/>
<circle cx="149.05" cy="210.65" r="0.95" fill="#5cb8dc"/>
<circle cx="176.35" cy="210.65" r="1.22" fill="#2196d0"/>
<circle cx="180.25" cy="210.65" r="1.5" fill="#1768b8"/>
<circle cx="184.15" cy="210.65" r="1.5" fill="#1768b8"/>
<circle cx="188.05" cy="210.65" r="1.5" fill="#1768b8"/>
<circle cx="191.95" cy="210.65" r="1.5" fill="#1768b8"/>
<circle cx="195.85" cy="210.65" r="1.5" fill="#1768b8"/>
<circle cx="199.75" cy="210.65" r="1.5" fill="#1768b8"/>
<circle cx="203.65" cy="210.65" r="1.75" fill="#062b63"/>
<circle cx="227.05" cy="210.65" r="0.95" fill="#5cb8dc"/>
<circle cx="234.85" cy="210.65" r="0.95" fill="#5cb8dc"/>
<circle cx="242.65" cy="210.65" r="0.95" fill="#5cb8dc"/>
<circle cx="246.55" cy="210.65" r="0.95" fill="#5cb8dc"/>
<circle cx="24.25" cy="214.55" r="1.0" fill="#f8a284"/>
<circle cx="28.15" cy="214.55" r="1.0" fill="#f8a284"/>
<circle cx="32.05" cy="214.55" r="1.0" fill="#f8a284"/>
<circle cx="35.95" cy="214.55" r="1.0" fill="#f8a284"/>
<circle cx="39.85" cy="214.55" r="1.0" fill="#f8a284"/>
<circle cx="43.75" cy="214.55" r="1.0" fill="#f8a284"/>
<circle cx="47.65" cy="214.55" r="1.0" fill="#f8a284"/>
<circle cx="51.55" cy="214.55" r="1.0" fill="#f8a284"/>
<circle cx="55.45" cy="214.55" r="1.28" fill="#f27254"/>
<circle cx="59.35" cy="214.55" r="1.28" fill="#f27254"/>
<circle cx="63.25" cy="214.55" r="1.28" fill="#f27254"/>
<circle cx="67.15" cy="214.55" r="1.28" fill="#f27254"/>
<circle cx="102.25" cy="214.55" r="1.22" fill="#2196d0"/>
<circle cx="106.15" cy="214.55" r="0.95" fill="#5cb8dc"/>
<circle cx="110.05" cy="214.55" r="1.5" fill="#1768b8"/>
<circle cx="117.85" cy="214.55" r="0.95" fill="#5cb8dc"/>
<circle cx="121.75" cy="214.55" r="0.95" fill="#5cb8dc"/>
<circle cx="129.55" cy="214.55" r="0.95" fill="#5cb8dc"/>
<circle cx="164.65" cy="214.55" r="0.95" fill="#5cb8dc"/>
<circle cx="168.55" cy="214.55" r="0.95" fill="#5cb8dc"/>
<circle cx="172.45" cy="214.55" r="0.95" fill="#5cb8dc"/>
<circle cx="207.55" cy="214.55" r="1.75" fill="#062b63"/>
<circle cx="211.45" cy="214.55" r="1.22" fill="#2196d0"/>
<circle cx="215.35" cy="214.55" r="1.5" fill="#1768b8"/>
<circle cx="219.25" cy="214.55" r="1.5" fill="#1768b8"/>
<circle cx="223.15" cy="214.55" r="1.5" fill="#1768b8"/>
<circle cx="227.05" cy="214.55" r="1.22" fill="#2196d0"/>
<circle cx="230.95" cy="214.55" r="1.22" fill="#2196d0"/>
<circle cx="234.85" cy="214.55" r="1.22" fill="#2196d0"/>
<circle cx="238.75" cy="214.55" r="1.22" fill="#2196d0"/>
<circle cx="242.65" cy="214.55" r="1.22" fill="#2196d0"/>
<circle cx="246.55" cy="214.55" r="0.95" fill="#5cb8dc"/>
<circle cx="258.25" cy="214.55" r="1.22" fill="#2196d0"/>
<circle cx="24.25" cy="218.45" r="1.0" fill="#f8a284"/>
<circle cx="28.15" cy="218.45" r="1.0" fill="#f8a284"/>
<circle cx="32.05" cy="218.45" r="1.0" fill="#f8a284"/>
<circle cx="35.95" cy="218.45" r="1.28" fill="#f27254"/>
<circle cx="39.85" cy="218.45" r="1.0" fill="#f8a284"/>
<circle cx="43.75" cy="218.45" r="1.0" fill="#f8a284"/>
<circle cx="47.65" cy="218.45" r="1.0" fill="#f8a284"/>
<circle cx="51.55" cy="218.45" r="1.28" fill="#f27254"/>
<circle cx="55.45" cy="218.45" r="1.0" fill="#f8a284"/>
<circle cx="59.35" cy="218.45" r="1.28" fill="#f27254"/>
<circle cx="63.25" cy="218.45" r="1.28" fill="#f27254"/>
<circle cx="67.15" cy="218.45" r="1.28" fill="#f27254"/>
<circle cx="156.85" cy="218.45" r="1.22" fill="#2196d0"/>
<circle cx="160.75" cy="218.45" r="1.22" fill="#2196d0"/>
<circle cx="207.55" cy="218.45" r="1.22" fill="#2196d0"/>
<circle cx="211.45" cy="218.45" r="1.75" fill="#062b63"/>
<circle cx="215.35" cy="218.45" r="1.5" fill="#1768b8"/>
<circle cx="219.25" cy="218.45" r="1.5" fill="#1768b8"/>
<circle cx="223.15" cy="218.45" r="1.5" fill="#1768b8"/>
<circle cx="227.05" cy="218.45" r="1.22" fill="#2196d0"/>
<circle cx="230.95" cy="218.45" r="1.22" fill="#2196d0"/>
<circle cx="234.85" cy="218.45" r="1.22" fill="#2196d0"/>
<circle cx="238.75" cy="218.45" r="1.22" fill="#2196d0"/>
<circle cx="242.65" cy="218.45" r="1.22" fill="#2196d0"/>
<circle cx="246.55" cy="218.45" r="1.22" fill="#2196d0"/>
<circle cx="250.45" cy="218.45" r="0.95" fill="#5cb8dc"/>
<circle cx="254.35" cy="218.45" r="1.22" fill="#2196d0"/>
<circle cx="258.25" cy="218.45" r="1.22" fill="#2196d0"/>
<circle cx="24.25" cy="222.35" r="1.5" fill="#e4383a"/>
<circle cx="28.15" cy="222.35" r="1.5" fill="#e4383a"/>
<circle cx="32.05" cy="222.35" r="1.5" fill="#e4383a"/>
<circle cx="35.95" cy="222.35" r="1.5" fill="#e4383a"/>
<circle cx="39.85" cy="222.35" r="1.5" fill="#e4383a"/>
<circle cx="43.75" cy="222.35" r="1.5" fill="#e4383a"/>
<circle cx="47.65" cy="222.35" r="1.28" fill="#f27254"/>
<circle cx="51.55" cy="222.35" r="1.5" fill="#e4383a"/>
<circle cx="55.45" cy="222.35" r="1.5" fill="#e4383a"/>
<circle cx="59.35" cy="222.35" r="1.5" fill="#e4383a"/>
<circle cx="63.25" cy="222.35" r="1.5" fill="#e4383a"/>
<circle cx="67.15" cy="222.35" r="1.5" fill="#e4383a"/>
<circle cx="78.85" cy="222.35" r="1.0" fill="#f8a284"/>
<circle cx="207.55" cy="222.35" r="1.5" fill="#1768b8"/>
<circle cx="211.45" cy="222.35" r="1.5" fill="#1768b8"/>
<circle cx="215.35" cy="222.35" r="1.75" fill="#062b63"/>
<circle cx="219.25" cy="222.35" r="1.5" fill="#1768b8"/>
<circle cx="223.15" cy="222.35" r="1.5" fill="#1768b8"/>
<circle cx="227.05" cy="222.35" r="1.5" fill="#1768b8"/>
<circle cx="230.95" cy="222.35" r="1.22" fill="#2196d0"/>
<circle cx="234.85" cy="222.35" r="1.22" fill="#2196d0"/>
<circle cx="238.75" cy="222.35" r="1.22" fill="#2196d0"/>
<circle cx="242.65" cy="222.35" r="1.22" fill="#2196d0"/>
<circle cx="246.55" cy="222.35" r="1.22" fill="#2196d0"/>
<circle cx="250.45" cy="222.35" r="1.22" fill="#2196d0"/>
<circle cx="254.35" cy="222.35" r="1.22" fill="#2196d0"/>
<circle cx="258.25" cy="222.35" r="1.22" fill="#2196d0"/>
<circle cx="24.25" cy="226.25" r="1.28" fill="#f27254"/>
<circle cx="28.15" cy="226.25" r="1.28" fill="#f27254"/>
<circle cx="32.05" cy="226.25" r="1.28" fill="#f27254"/>
<circle cx="35.95" cy="226.25" r="1.28" fill="#f27254"/>
<circle cx="39.85" cy="226.25" r="1.0" fill="#f8a284"/>
<circle cx="43.75" cy="226.25" r="1.0" fill="#f8a284"/>
<circle cx="47.65" cy="226.25" r="1.28" fill="#f27254"/>
<circle cx="51.55" cy="226.25" r="1.28" fill="#f27254"/>
<circle cx="55.45" cy="226.25" r="1.28" fill="#f27254"/>
<circle cx="59.35" cy="226.25" r="1.5" fill="#e4383a"/>
<circle cx="63.25" cy="226.25" r="1.5" fill="#e4383a"/>
<circle cx="67.15" cy="226.25" r="1.28" fill="#f27254"/>
<circle cx="110.05" cy="226.25" r="0.95" fill="#5cb8dc"/>
<circle cx="207.55" cy="226.25" r="1.5" fill="#1768b8"/>
<circle cx="211.45" cy="226.25" r="1.5" fill="#1768b8"/>
<circle cx="215.35" cy="226.25" r="1.5" fill="#1768b8"/>
<circle cx="219.25" cy="226.25" r="1.75" fill="#062b63"/>
<circle cx="223.15" cy="226.25" r="1.5" fill="#1768b8"/>
<circle cx="227.05" cy="226.25" r="1.5" fill="#1768b8"/>
<circle cx="230.95" cy="226.25" r="1.5" fill="#1768b8"/>
<circle cx="234.85" cy="226.25" r="1.22" fill="#2196d0"/>
<circle cx="238.75" cy="226.25" r="1.5" fill="#1768b8"/>
<circle cx="242.65" cy="226.25" r="1.22" fill="#2196d0"/>
<circle cx="246.55" cy="226.25" r="1.22" fill="#2196d0"/>
<circle cx="250.45" cy="226.25" r="1.22" fill="#2196d0"/>
<circle cx="254.35" cy="226.25" r="1.22" fill="#2196d0"/>
<circle cx="258.25" cy="226.25" r="1.22" fill="#2196d0"/>
<circle cx="24.25" cy="230.15" r="1.28" fill="#f27254"/>
<circle cx="28.15" cy="230.15" r="1.28" fill="#f27254"/>
<circle cx="32.05" cy="230.15" r="1.28" fill="#f27254"/>
<circle cx="35.95" cy="230.15" r="1.28" fill="#f27254"/>
<circle cx="39.85" cy="230.15" r="1.28" fill="#f27254"/>
<circle cx="43.75" cy="230.15" r="1.28" fill="#f27254"/>
<circle cx="47.65" cy="230.15" r="1.0" fill="#f8a284"/>
<circle cx="51.55" cy="230.15" r="1.28" fill="#f27254"/>
<circle cx="55.45" cy="230.15" r="1.28" fill="#f27254"/>
<circle cx="59.35" cy="230.15" r="1.28" fill="#f27254"/>
<circle cx="63.25" cy="230.15" r="1.28" fill="#f27254"/>
<circle cx="67.15" cy="230.15" r="1.28" fill="#f27254"/>
<circle cx="102.25" cy="230.15" r="1.22" fill="#2196d0"/>
<circle cx="106.15" cy="230.15" r="1.22" fill="#2196d0"/>
<circle cx="110.05" cy="230.15" r="1.5" fill="#1768b8"/>
<circle cx="117.85" cy="230.15" r="1.22" fill="#2196d0"/>
<circle cx="121.75" cy="230.15" r="1.22" fill="#2196d0"/>
<circle cx="125.65" cy="230.15" r="0.95" fill="#5cb8dc"/>
<circle cx="164.65" cy="230.15" r="1.22" fill="#2196d0"/>
<circle cx="207.55" cy="230.15" r="1.5" fill="#1768b8"/>
<circle cx="211.45" cy="230.15" r="1.5" fill="#1768b8"/>
<circle cx="215.35" cy="230.15" r="1.5" fill="#1768b8"/>
<circle cx="219.25" cy="230.15" r="1.5" fill="#1768b8"/>
<circle cx="223.15" cy="230.15" r="1.75" fill="#062b63"/>
<circle cx="227.05" cy="230.15" r="1.5" fill="#1768b8"/>
<circle cx="230.95" cy="230.15" r="1.22" fill="#2196d0"/>
<circle cx="234.85" cy="230.15" r="1.22" fill="#2196d0"/>
<circle cx="238.75" cy="230.15" r="1.5" fill="#1768b8"/>
<circle cx="242.65" cy="230.15" r="1.22" fill="#2196d0"/>
<circle cx="246.55" cy="230.15" r="1.22" fill="#2196d0"/>
<circle cx="250.45" cy="230.15" r="1.22" fill="#2196d0"/>
<circle cx="254.35" cy="230.15" r="1.22" fill="#2196d0"/>
<circle cx="258.25" cy="230.15" r="1.22" fill="#2196d0"/>
<circle cx="24.25" cy="234.05" r="1.5" fill="#e4383a"/>
<circle cx="28.15" cy="234.05" r="1.5" fill="#e4383a"/>
<circle cx="32.05" cy="234.05" r="1.5" fill="#e4383a"/>
<circle cx="35.95" cy="234.05" r="1.5" fill="#e4383a"/>
<circle cx="39.85" cy="234.05" r="1.28" fill="#f27254"/>
<circle cx="43.75" cy="234.05" r="1.28" fill="#f27254"/>
<circle cx="47.65" cy="234.05" r="1.28" fill="#f27254"/>
<circle cx="51.55" cy="234.05" r="1.28" fill="#f27254"/>
<circle cx="55.45" cy="234.05" r="1.5" fill="#e4383a"/>
<circle cx="59.35" cy="234.05" r="1.5" fill="#e4383a"/>
<circle cx="63.25" cy="234.05" r="1.5" fill="#e4383a"/>
<circle cx="67.15" cy="234.05" r="1.5" fill="#e4383a"/>
<circle cx="184.15" cy="234.05" r="0.95" fill="#5cb8dc"/>
<circle cx="203.65" cy="234.05" r="0.95" fill="#5cb8dc"/>
<circle cx="207.55" cy="234.05" r="1.22" fill="#2196d0"/>
<circle cx="211.45" cy="234.05" r="1.22" fill="#2196d0"/>
<circle cx="215.35" cy="234.05" r="1.5" fill="#1768b8"/>
<circle cx="219.25" cy="234.05" r="1.5" fill="#1768b8"/>
<circle cx="223.15" cy="234.05" r="1.5" fill="#1768b8"/>
<circle cx="227.05" cy="234.05" r="1.75" fill="#062b63"/>
<circle cx="230.95" cy="234.05" r="1.5" fill="#1768b8"/>
<circle cx="234.85" cy="234.05" r="1.5" fill="#1768b8"/>
<circle cx="238.75" cy="234.05" r="1.5" fill="#1768b8"/>
<circle cx="242.65" cy="234.05" r="1.22" fill="#2196d0"/>
<circle cx="246.55" cy="234.05" r="1.22" fill="#2196d0"/>
<circle cx="250.45" cy="234.05" r="1.22" fill="#2196d0"/>
<circle cx="254.35" cy="234.05" r="1.22" fill="#2196d0"/>
<circle cx="258.25" cy="234.05" r="1.22" fill="#2196d0"/>
<circle cx="24.25" cy="237.95" r="1.28" fill="#f27254"/>
<circle cx="28.15" cy="237.95" r="1.28" fill="#f27254"/>
<circle cx="32.05" cy="237.95" r="1.0" fill="#f8a284"/>
<circle cx="35.95" cy="237.95" r="1.28" fill="#f27254"/>
<circle cx="39.85" cy="237.95" r="1.28" fill="#f27254"/>
<circle cx="43.75" cy="237.95" r="1.28" fill="#f27254"/>
<circle cx="47.65" cy="237.95" r="1.5" fill="#e4383a"/>
<circle cx="51.55" cy="237.95" r="1.28" fill="#f27254"/>
<circle cx="55.45" cy="237.95" r="1.28" fill="#f27254"/>
<circle cx="59.35" cy="237.95" r="1.5" fill="#e4383a"/>
<circle cx="63.25" cy="237.95" r="1.5" fill="#e4383a"/>
<circle cx="67.15" cy="237.95" r="1.28" fill="#f27254"/>
<circle cx="117.85" cy="237.95" r="0.95" fill="#5cb8dc"/>
<circle cx="184.15" cy="237.95" r="0.95" fill="#5cb8dc"/>
<circle cx="188.05" cy="237.95" r="0.95" fill="#5cb8dc"/>
<circle cx="207.55" cy="237.95" r="1.22" fill="#2196d0"/>
<circle cx="211.45" cy="237.95" r="1.22" fill="#2196d0"/>
<circle cx="215.35" cy="237.95" r="1.22" fill="#2196d0"/>
<circle cx="219.25" cy="237.95" r="1.5" fill="#1768b8"/>
<circle cx="223.15" cy="237.95" r="1.22" fill="#2196d0"/>
<circle cx="227.05" cy="237.95" r="1.5" fill="#1768b8"/>
<circle cx="230.95" cy="237.95" r="1.75" fill="#062b63"/>
<circle cx="234.85" cy="237.95" r="1.65" fill="#0b4088"/>
<circle cx="238.75" cy="237.95" r="1.5" fill="#1768b8"/>
<circle cx="242.65" cy="237.95" r="1.5" fill="#1768b8"/>
<circle cx="246.55" cy="237.95" r="1.22" fill="#2196d0"/>
<circle cx="250.45" cy="237.95" r="1.22" fill="#2196d0"/>
<circle cx="254.35" cy="237.95" r="1.22" fill="#2196d0"/>
<circle cx="258.25" cy="237.95" r="1.22" fill="#2196d0"/>
<circle cx="24.25" cy="241.85" r="1.0" fill="#f8a284"/>
<circle cx="28.15" cy="241.85" r="1.0" fill="#f8a284"/>
<circle cx="35.95" cy="241.85" r="1.0" fill="#f8a284"/>
<circle cx="39.85" cy="241.85" r="1.0" fill="#f8a284"/>
<circle cx="47.65" cy="241.85" r="1.28" fill="#f27254"/>
<circle cx="51.55" cy="241.85" r="1.0" fill="#f8a284"/>
<circle cx="55.45" cy="241.85" r="1.28" fill="#f27254"/>
<circle cx="59.35" cy="241.85" r="1.5" fill="#e4383a"/>
<circle cx="63.25" cy="241.85" r="1.5" fill="#e4383a"/>
<circle cx="67.15" cy="241.85" r="1.5" fill="#e4383a"/>
<circle cx="117.85" cy="241.85" r="0.95" fill="#5cb8dc"/>
<circle cx="121.75" cy="241.85" r="0.95" fill="#5cb8dc"/>
<circle cx="184.15" cy="241.85" r="0.95" fill="#5cb8dc"/>
<circle cx="188.05" cy="241.85" r="0.95" fill="#5cb8dc"/>
<circle cx="203.65" cy="241.85" r="0.95" fill="#5cb8dc"/>
<circle cx="207.55" cy="241.85" r="1.22" fill="#2196d0"/>
<circle cx="211.45" cy="241.85" r="1.22" fill="#2196d0"/>
<circle cx="215.35" cy="241.85" r="1.22" fill="#2196d0"/>
<circle cx="219.25" cy="241.85" r="1.22" fill="#2196d0"/>
<circle cx="223.15" cy="241.85" r="1.22" fill="#2196d0"/>
<circle cx="227.05" cy="241.85" r="1.5" fill="#1768b8"/>
<circle cx="230.95" cy="241.85" r="1.65" fill="#0b4088"/>
<circle cx="234.85" cy="241.85" r="1.75" fill="#062b63"/>
<circle cx="238.75" cy="241.85" r="1.5" fill="#1768b8"/>
<circle cx="242.65" cy="241.85" r="1.5" fill="#1768b8"/>
<circle cx="246.55" cy="241.85" r="1.22" fill="#2196d0"/>
<circle cx="250.45" cy="241.85" r="1.22" fill="#2196d0"/>
<circle cx="254.35" cy="241.85" r="1.22" fill="#2196d0"/>
<circle cx="258.25" cy="241.85" r="1.22" fill="#2196d0"/>
<circle cx="24.25" cy="245.75" r="1.28" fill="#f27254"/>
<circle cx="28.15" cy="245.75" r="1.28" fill="#f27254"/>
<circle cx="32.05" cy="245.75" r="1.28" fill="#f27254"/>
<circle cx="35.95" cy="245.75" r="1.28" fill="#f27254"/>
<circle cx="39.85" cy="245.75" r="1.28" fill="#f27254"/>
<circle cx="43.75" cy="245.75" r="1.0" fill="#f8a284"/>
<circle cx="47.65" cy="245.75" r="1.0" fill="#f8a284"/>
<circle cx="51.55" cy="245.75" r="1.28" fill="#f27254"/>
<circle cx="55.45" cy="245.75" r="1.28" fill="#f27254"/>
<circle cx="59.35" cy="245.75" r="1.28" fill="#f27254"/>
<circle cx="63.25" cy="245.75" r="1.5" fill="#e4383a"/>
<circle cx="67.15" cy="245.75" r="1.5" fill="#e4383a"/>
<circle cx="110.05" cy="245.75" r="1.22" fill="#2196d0"/>
<circle cx="121.75" cy="245.75" r="0.95" fill="#5cb8dc"/>
<circle cx="207.55" cy="245.75" r="1.22" fill="#2196d0"/>
<circle cx="211.45" cy="245.75" r="1.22" fill="#2196d0"/>
<circle cx="215.35" cy="245.75" r="1.22" fill="#2196d0"/>
<circle cx="219.25" cy="245.75" r="1.5" fill="#1768b8"/>
<circle cx="223.15" cy="245.75" r="1.5" fill="#1768b8"/>
<circle cx="227.05" cy="245.75" r="1.5" fill="#1768b8"/>
<circle cx="230.95" cy="245.75" r="1.5" fill="#1768b8"/>
<circle cx="234.85" cy="245.75" r="1.5" fill="#1768b8"/>
<circle cx="238.75" cy="245.75" r="1.75" fill="#062b63"/>
<circle cx="242.65" cy="245.75" r="1.65" fill="#0b4088"/>
<circle cx="246.55" cy="245.75" r="1.5" fill="#1768b8"/>
<circle cx="250.45" cy="245.75" r="1.22" fill="#2196d0"/>
<circle cx="254.35" cy="245.75" r="1.22" fill="#2196d0"/>
<circle cx="258.25" cy="245.75" r="1.22" fill="#2196d0"/>
<circle cx="24.25" cy="249.65" r="1.28" fill="#f27254"/>
<circle cx="28.15" cy="249.65" r="1.28" fill="#f27254"/>
<circle cx="32.05" cy="249.65" r="1.28" fill="#f27254"/>
<circle cx="35.95" cy="249.65" r="1.28" fill="#f27254"/>
<circle cx="39.85" cy="249.65" r="1.0" fill="#f8a284"/>
<circle cx="43.75" cy="249.65" r="1.0" fill="#f8a284"/>
<circle cx="51.55" cy="249.65" r="1.28" fill="#f27254"/>
<circle cx="55.45" cy="249.65" r="1.28" fill="#f27254"/>
<circle cx="59.35" cy="249.65" r="1.28" fill="#f27254"/>
<circle cx="63.25" cy="249.65" r="1.28" fill="#f27254"/>
<circle cx="67.15" cy="249.65" r="1.28" fill="#f27254"/>
<circle cx="176.35" cy="249.65" r="0.95" fill="#5cb8dc"/>
<circle cx="203.65" cy="249.65" r="0.95" fill="#5cb8dc"/>
<circle cx="207.55" cy="249.65" r="1.22" fill="#2196d0"/>
<circle cx="211.45" cy="249.65" r="1.22" fill="#2196d0"/>
<circle cx="215.35" cy="249.65" r="1.22" fill="#2196d0"/>
<circle cx="219.25" cy="249.65" r="1.22" fill="#2196d0"/>
<circle cx="223.15" cy="249.65" r="1.22" fill="#2196d0"/>
<circle cx="227.05" cy="249.65" r="1.22" fill="#2196d0"/>
<circle cx="230.95" cy="249.65" r="1.5" fill="#1768b8"/>
<circle cx="234.85" cy="249.65" r="1.5" fill="#1768b8"/>
<circle cx="238.75" cy="249.65" r="1.65" fill="#0b4088"/>
<circle cx="242.65" cy="249.65" r="1.75" fill="#062b63"/>
<circle cx="246.55" cy="249.65" r="1.5" fill="#1768b8"/>
<circle cx="250.45" cy="249.65" r="1.22" fill="#2196d0"/>
<circle cx="254.35" cy="249.65" r="1.22" fill="#2196d0"/>
<circle cx="258.25" cy="249.65" r="1.22" fill="#2196d0"/>
<circle cx="24.25" cy="253.55" r="1.28" fill="#f27254"/>
<circle cx="28.15" cy="253.55" r="1.28" fill="#f27254"/>
<circle cx="32.05" cy="253.55" r="1.0" fill="#f8a284"/>
<circle cx="35.95" cy="253.55" r="1.28" fill="#f27254"/>
<circle cx="39.85" cy="253.55" r="1.0" fill="#f8a284"/>
<circle cx="43.75" cy="253.55" r="1.0" fill="#f8a284"/>
<circle cx="47.65" cy="253.55" r="1.28" fill="#f27254"/>
<circle cx="51.55" cy="253.55" r="1.5" fill="#e4383a"/>
<circle cx="55.45" cy="253.55" r="1.28" fill="#f27254"/>
<circle cx="59.35" cy="253.55" r="1.5" fill="#e4383a"/>
<circle cx="63.25" cy="253.55" r="1.28" fill="#f27254"/>
<circle cx="67.15" cy="253.55" r="1.28" fill="#f27254"/>
<circle cx="176.35" cy="253.55" r="0.95" fill="#5cb8dc"/>
<circle cx="203.65" cy="253.55" r="0.95" fill="#5cb8dc"/>
<circle cx="211.45" cy="253.55" r="1.22" fill="#2196d0"/>
<circle cx="215.35" cy="253.55" r="1.22" fill="#2196d0"/>
<circle cx="219.25" cy="253.55" r="1.22" fill="#2196d0"/>
<circle cx="223.15" cy="253.55" r="1.22" fill="#2196d0"/>
<circle cx="227.05" cy="253.55" r="1.22" fill="#2196d0"/>
<circle cx="230.95" cy="253.55" r="1.22" fill="#2196d0"/>
<circle cx="234.85" cy="253.55" r="1.22" fill="#2196d0"/>
<circle cx="238.75" cy="253.55" r="1.5" fill="#1768b8"/>
<circle cx="242.65" cy="253.55" r="1.5" fill="#1768b8"/>
<circle cx="246.55" cy="253.55" r="1.75" fill="#062b63"/>
<circle cx="250.45" cy="253.55" r="1.5" fill="#1768b8"/>
<circle cx="254.35" cy="253.55" r="1.5" fill="#1768b8"/>
<circle cx="258.25" cy="253.55" r="1.22" fill="#2196d0"/>
<circle cx="28.15" cy="257.45" r="1.0" fill="#f8a284"/>
<circle cx="32.05" cy="257.45" r="1.0" fill="#f8a284"/>
<circle cx="51.55" cy="257.45" r="1.0" fill="#f8a284"/>
<circle cx="55.45" cy="257.45" r="1.0" fill="#f8a284"/>
<circle cx="59.35" cy="257.45" r="1.28" fill="#f27254"/>
<circle cx="63.25" cy="257.45" r="1.28" fill="#f27254"/>
<circle cx="67.15" cy="257.45" r="1.28" fill="#f27254"/>
<circle cx="102.25" cy="257.45" r="0.95" fill="#5cb8dc"/>
<circle cx="106.15" cy="257.45" r="0.95" fill="#5cb8dc"/>
<circle cx="110.05" cy="257.45" r="0.95" fill="#5cb8dc"/>
<circle cx="117.85" cy="257.45" r="1.22" fill="#2196d0"/>
<circle cx="121.75" cy="257.45" r="1.22" fill="#2196d0"/>
<circle cx="125.65" cy="257.45" r="1.22" fill="#2196d0"/>
<circle cx="129.55" cy="257.45" r="0.95" fill="#5cb8dc"/>
<circle cx="207.55" cy="257.45" r="1.22" fill="#2196d0"/>
<circle cx="211.45" cy="257.45" r="1.22" fill="#2196d0"/>
<circle cx="215.35" cy="257.45" r="1.22" fill="#2196d0"/>
<circle cx="219.25" cy="257.45" r="1.22" fill="#2196d0"/>
<circle cx="223.15" cy="257.45" r="1.22" fill="#2196d0"/>
<circle cx="227.05" cy="257.45" r="1.22" fill="#2196d0"/>
<circle cx="230.95" cy="257.45" r="1.22" fill="#2196d0"/>
<circle cx="234.85" cy="257.45" r="1.22" fill="#2196d0"/>
<circle cx="238.75" cy="257.45" r="1.22" fill="#2196d0"/>
<circle cx="242.65" cy="257.45" r="1.22" fill="#2196d0"/>
<circle cx="246.55" cy="257.45" r="1.5" fill="#1768b8"/>
<circle cx="250.45" cy="257.45" r="1.75" fill="#062b63"/>
<circle cx="254.35" cy="257.45" r="1.5" fill="#1768b8"/>
<circle cx="258.25" cy="257.45" r="1.5" fill="#1768b8"/>
<circle cx="24.25" cy="261.35" r="1.0" fill="#f8a284"/>
<circle cx="28.15" cy="261.35" r="1.0" fill="#f8a284"/>
<circle cx="32.05" cy="261.35" r="1.0" fill="#f8a284"/>
<circle cx="35.95" cy="261.35" r="1.0" fill="#f8a284"/>
<circle cx="39.85" cy="261.35" r="1.0" fill="#f8a284"/>
<circle cx="43.75" cy="261.35" r="1.0" fill="#f8a284"/>
<circle cx="51.55" cy="261.35" r="1.0" fill="#f8a284"/>
<circle cx="55.45" cy="261.35" r="1.0" fill="#f8a284"/>
<circle cx="59.35" cy="261.35" r="1.0" fill="#f8a284"/>
<circle cx="63.25" cy="261.35" r="1.0" fill="#f8a284"/>
<circle cx="67.15" cy="261.35" r="1.0" fill="#f8a284"/>
<circle cx="110.05" cy="261.35" r="0.95" fill="#5cb8dc"/>
<circle cx="117.85" cy="261.35" r="0.95" fill="#5cb8dc"/>
<circle cx="121.75" cy="261.35" r="1.22" fill="#2196d0"/>
<circle cx="125.65" cy="261.35" r="0.95" fill="#5cb8dc"/>
<circle cx="129.55" cy="261.35" r="0.95" fill="#5cb8dc"/>
<circle cx="207.55" cy="261.35" r="1.22" fill="#2196d0"/>
<circle cx="211.45" cy="261.35" r="1.22" fill="#2196d0"/>
<circle cx="215.35" cy="261.35" r="1.22" fill="#2196d0"/>
<circle cx="219.25" cy="261.35" r="1.22" fill="#2196d0"/>
<circle cx="223.15" cy="261.35" r="1.22" fill="#2196d0"/>
<circle cx="227.05" cy="261.35" r="1.22" fill="#2196d0"/>
<circle cx="230.95" cy="261.35" r="1.22" fill="#2196d0"/>
<circle cx="234.85" cy="261.35" r="1.22" fill="#2196d0"/>
<circle cx="238.75" cy="261.35" r="1.22" fill="#2196d0"/>
<circle cx="242.65" cy="261.35" r="1.22" fill="#2196d0"/>
<circle cx="246.55" cy="261.35" r="1.5" fill="#1768b8"/>
<circle cx="250.45" cy="261.35" r="1.5" fill="#1768b8"/>
<circle cx="254.35" cy="261.35" r="1.75" fill="#062b63"/>
<circle cx="258.25" cy="261.35" r="1.5" fill="#1768b8"/>
<circle cx="24.25" cy="265.25" r="1.28" fill="#f27254"/>
<circle cx="28.15" cy="265.25" r="1.28" fill="#f27254"/>
<circle cx="32.05" cy="265.25" r="1.28" fill="#f27254"/>
<circle cx="35.95" cy="265.25" r="1.0" fill="#f8a284"/>
<circle cx="39.85" cy="265.25" r="1.0" fill="#f8a284"/>
<circle cx="47.65" cy="265.25" r="1.28" fill="#f27254"/>
<circle cx="51.55" cy="265.25" r="1.0" fill="#f8a284"/>
<circle cx="55.45" cy="265.25" r="1.28" fill="#f27254"/>
<circle cx="59.35" cy="265.25" r="1.28" fill="#f27254"/>
<circle cx="63.25" cy="265.25" r="1.28" fill="#f27254"/>
<circle cx="67.15" cy="265.25" r="1.28" fill="#f27254"/>
<circle cx="102.25" cy="265.25" r="0.95" fill="#5cb8dc"/>
<circle cx="106.15" cy="265.25" r="0.95" fill="#5cb8dc"/>
<circle cx="110.05" cy="265.25" r="1.22" fill="#2196d0"/>
<circle cx="117.85" cy="265.25" r="1.5" fill="#1768b8"/>
<circle cx="121.75" cy="265.25" r="1.5" fill="#1768b8"/>
<circle cx="125.65" cy="265.25" r="1.22" fill="#2196d0"/>
<circle cx="129.55" cy="265.25" r="1.22" fill="#2196d0"/>
<circle cx="184.15" cy="265.25" r="0.95" fill="#5cb8dc"/>
<circle cx="188.05" cy="265.25" r="0.95" fill="#5cb8dc"/>
<circle cx="207.55" cy="265.25" r="1.22" fill="#2196d0"/>
<circle cx="211.45" cy="265.25" r="1.22" fill="#2196d0"/>
<circle cx="215.35" cy="265.25" r="1.22" fill="#2196d0"/>
<circle cx="219.25" cy="265.25" r="1.22" fill="#2196d0"/>
<circle cx="223.15" cy="265.25" r="1.22" fill="#2196d0"/>
<circle cx="227.05" cy="265.25" r="1.22" fill="#2196d0"/>
<circle cx="230.95" cy="265.25" r="1.22" fill="#2196d0"/>
<circle cx="234.85" cy="265.25" r="1.22" fill="#2196d0"/>
<circle cx="238.75" cy="265.25" r="1.22" fill="#2196d0"/>
<circle cx="242.65" cy="265.25" r="1.22" fill="#2196d0"/>
<circle cx="246.55" cy="265.25" r="1.22" fill="#2196d0"/>
<circle cx="250.45" cy="265.25" r="1.5" fill="#1768b8"/>
<circle cx="254.35" cy="265.25" r="1.5" fill="#1768b8"/>
<circle cx="258.25" cy="265.25" r="1.75" fill="#062b63"/>
<path d="M69.50 29.50V267.50M22.50 76.50H260.50M100.50 29.50V267.50M22.50 107.50H260.50M174.50 29.50V267.50M22.50 181.50H260.50M205.50 29.50V267.50M22.50 212.50H260.50M22.50 29.50H260.50V267.50H22.50Z" stroke="#747474" stroke-width="1.0" fill="none"/>
<g class="rl"><text x="20.90" y="33.00" textLength="14.6" lengthAdjust="spacingAndGlyphs"><tspan class="cg">CpG</tspan> 72</text><text x="20.90" y="36.90" textLength="14.6" lengthAdjust="spacingAndGlyphs"><tspan class="cg">CpG</tspan> 73</text><text x="20.90" y="40.80" textLength="14.6" lengthAdjust="spacingAndGlyphs"><tspan class="cg">CpG</tspan> 74</text><text x="20.90" y="44.70" textLength="14.6" lengthAdjust="spacingAndGlyphs"><tspan class="cg">CpG</tspan> 75</text><text x="20.90" y="48.60" textLength="14.6" lengthAdjust="spacingAndGlyphs"><tspan class="cg">CpG</tspan> 76</text><text x="20.90" y="52.50" textLength="14.6" lengthAdjust="spacingAndGlyphs"><tspan class="cg">CpG</tspan> 77</text><text x="20.90" y="56.40" textLength="14.6" lengthAdjust="spacingAndGlyphs"><tspan class="cg">CpG</tspan> 78</text><text x="20.90" y="60.30" textLength="14.6" lengthAdjust="spacingAndGlyphs"><tspan class="cg">CpG</tspan> 79</text><text x="20.90" y="64.20" textLength="14.6" lengthAdjust="spacingAndGlyphs"><tspan class="cg">CpG</tspan> 80</text><text x="20.90" y="68.10" textLength="14.6" lengthAdjust="spacingAndGlyphs"><tspan class="cg">CpG</tspan> 81</text><text x="20.90" y="72.00" textLength="14.6" lengthAdjust="spacingAndGlyphs"><tspan class="cg">CpG</tspan> 82</text><text x="20.90" y="75.90" textLength="14.6" lengthAdjust="spacingAndGlyphs"><tspan class="cg">CpG</tspan> 83</text><text x="20.90" y="79.80" textLength="14.6" lengthAdjust="spacingAndGlyphs"><tspan class="cg">CpG</tspan> 12</text><text x="20.90" y="83.70" textLength="14.6" lengthAdjust="spacingAndGlyphs"><tspan class="cg">CpG</tspan> 13</text><text x="20.90" y="87.60" textLength="14.6" lengthAdjust="spacingAndGlyphs"><tspan class="cg">CpG</tspan> 14</text><text x="20.90" y="91.50" textLength="14.6" lengthAdjust="spacingAndGlyphs"><tspan class="cg">CpG</tspan> 15</text><text x="20.90" y="95.40" textLength="14.6" lengthAdjust="spacingAndGlyphs"><tspan class="cg">CpG</tspan> 16</text><text x="20.90" y="99.30" textLength="14.6" lengthAdjust="spacingAndGlyphs"><tspan class="cg">CpG</tspan> 17</text><text x="20.90" y="103.20" textLength="14.6" lengthAdjust="spacingAndGlyphs"><tspan class="cg">CpG</tspan> 18</text><text x="20.90" y="107.10" textLength="14.6" lengthAdjust="spacingAndGlyphs"><tspan class="cg">CpG</tspan> 19</text><text x="20.90" y="111.00" textLength="14.6" lengthAdjust="spacingAndGlyphs"><tspan class="cg">CpG</tspan> 05</text><text x="20.90" y="114.90" textLength="14.6" lengthAdjust="spacingAndGlyphs"><tspan class="cg">CpG</tspan> 06</text><text x="20.90" y="118.80" textLength="14.6" lengthAdjust="spacingAndGlyphs"><tspan class="cg">CpG</tspan> 07</text><text x="20.90" y="122.70" textLength="14.6" lengthAdjust="spacingAndGlyphs"><tspan class="cg">CpG</tspan> 08</text><text x="20.90" y="126.60" textLength="14.6" lengthAdjust="spacingAndGlyphs"><tspan class="cg">CpG</tspan> 11</text><text x="20.90" y="130.50" textLength="14.6" lengthAdjust="spacingAndGlyphs"><tspan class="cg">CpG</tspan> 12</text><text x="20.90" y="134.40" textLength="14.6" lengthAdjust="spacingAndGlyphs"><tspan class="cg">CpG</tspan> 13</text><text x="20.90" y="138.30" textLength="14.6" lengthAdjust="spacingAndGlyphs"><tspan class="cg">CpG</tspan> 14</text><text x="20.90" y="142.20" textLength="14.6" lengthAdjust="spacingAndGlyphs"><tspan class="cg">CpG</tspan> 15</text><text x="20.90" y="146.10" textLength="14.6" lengthAdjust="spacingAndGlyphs"><tspan class="cg">CpG</tspan> 16</text><text x="20.90" y="150.00" textLength="14.6" lengthAdjust="spacingAndGlyphs"><tspan class="cg">CpG</tspan> 17</text><text x="20.90" y="153.90" textLength="14.6" lengthAdjust="spacingAndGlyphs"><tspan class="cg">CpG</tspan> 18</text><text x="20.90" y="157.80" textLength="14.6" lengthAdjust="spacingAndGlyphs"><tspan class="cg">CpG</tspan> 24</text><text x="20.90" y="161.70" textLength="14.6" lengthAdjust="spacingAndGlyphs"><tspan class="cg">CpG</tspan> 25</text><text x="20.90" y="165.60" textLength="14.6" lengthAdjust="spacingAndGlyphs"><tspan class="cg">CpG</tspan> 26</text><text x="20.90" y="169.50" textLength="14.6" lengthAdjust="spacingAndGlyphs"><tspan class="cg">CpG</tspan> 27</text><text x="20.90" y="173.40" textLength="14.6" lengthAdjust="spacingAndGlyphs"><tspan class="cg">CpG</tspan> 37</text><text x="20.90" y="177.30" textLength="14.6" lengthAdjust="spacingAndGlyphs"><tspan class="cg">CpG</tspan> 38</text><text x="20.90" y="181.20" textLength="14.6" lengthAdjust="spacingAndGlyphs"><tspan class="cg">CpG</tspan> 39</text><text x="20.90" y="185.10" textLength="14.6" lengthAdjust="spacingAndGlyphs"><tspan class="cg">CpG</tspan> 15</text><text x="20.90" y="189.00" textLength="14.6" lengthAdjust="spacingAndGlyphs"><tspan class="cg">CpG</tspan> 16</text><text x="20.90" y="192.90" textLength="14.6" lengthAdjust="spacingAndGlyphs"><tspan class="cg">CpG</tspan> 17</text><text x="20.90" y="196.80" textLength="14.6" lengthAdjust="spacingAndGlyphs"><tspan class="cg">CpG</tspan> 18</text><text x="20.90" y="200.70" textLength="14.6" lengthAdjust="spacingAndGlyphs"><tspan class="cg">CpG</tspan> 19</text><text x="20.90" y="204.60" textLength="14.6" lengthAdjust="spacingAndGlyphs"><tspan class="cg">CpG</tspan> 20</text><text x="20.90" y="208.50" textLength="14.6" lengthAdjust="spacingAndGlyphs"><tspan class="cg">CpG</tspan> 21</text><text x="20.90" y="212.40" textLength="14.6" lengthAdjust="spacingAndGlyphs"><tspan class="cg">CpG</tspan> 22</text><text x="20.90" y="216.30" textLength="14.6" lengthAdjust="spacingAndGlyphs"><tspan class="cg">CpG</tspan> 01</text><text x="20.90" y="220.20" textLength="14.6" lengthAdjust="spacingAndGlyphs"><tspan class="cg">CpG</tspan> 02</text><text x="20.90" y="224.10" textLength="14.6" lengthAdjust="spacingAndGlyphs"><tspan class="cg">CpG</tspan> 03</text><text x="20.90" y="228.00" textLength="14.6" lengthAdjust="spacingAndGlyphs"><tspan class="cg">CpG</tspan> 07</text><text x="20.90" y="231.90" textLength="14.6" lengthAdjust="spacingAndGlyphs"><tspan class="cg">CpG</tspan> 08</text><text x="20.90" y="235.80" textLength="14.6" lengthAdjust="spacingAndGlyphs"><tspan class="cg">CpG</tspan> 09</text><text x="20.90" y="239.70" textLength="14.6" lengthAdjust="spacingAndGlyphs"><tspan class="cg">CpG</tspan> 10</text><text x="20.90" y="243.60" textLength="14.6" lengthAdjust="spacingAndGlyphs"><tspan class="cg">CpG</tspan> 11</text><text x="20.90" y="247.50" textLength="14.6" lengthAdjust="spacingAndGlyphs"><tspan class="cg">CpG</tspan> 12</text><text x="20.90" y="251.40" textLength="14.6" lengthAdjust="spacingAndGlyphs"><tspan class="cg">CpG</tspan> 13</text><text x="20.90" y="255.30" textLength="14.6" lengthAdjust="spacingAndGlyphs"><tspan class="cg">CpG</tspan> 19</text><text x="20.90" y="259.20" textLength="14.6" lengthAdjust="spacingAndGlyphs"><tspan class="cg">CpG</tspan> 20</text><text x="20.90" y="263.10" textLength="14.6" lengthAdjust="spacingAndGlyphs"><tspan class="cg">CpG</tspan> 21</text><text x="20.90" y="267.00" textLength="14.6" lengthAdjust="spacingAndGlyphs"><tspan class="cg">CpG</tspan> 22</text></g>
<g class="cl"><text transform="translate(26.85 28.80) rotate(-70)" textLength="14.4" lengthAdjust="spacingAndGlyphs"><tspan class="cg">CpG</tspan> 72</text><text transform="translate(30.75 28.80) rotate(-70)" textLength="14.4" lengthAdjust="spacingAndGlyphs"><tspan class="cg">CpG</tspan> 73</text><text transform="translate(34.65 28.80) rotate(-70)" textLength="14.4" lengthAdjust="spacingAndGlyphs"><tspan class="cg">CpG</tspan> 74</text><text transform="translate(38.55 28.80) rotate(-70)" textLength="14.4" lengthAdjust="spacingAndGlyphs"><tspan class="cg">CpG</tspan> 75</text><text transform="translate(42.45 28.80) rotate(-70)" textLength="14.4" lengthAdjust="spacingAndGlyphs"><tspan class="cg">CpG</tspan> 76</text><text transform="translate(46.35 28.80) rotate(-70)" textLength="14.4" lengthAdjust="spacingAndGlyphs"><tspan class="cg">CpG</tspan> 77</text><text transform="translate(50.25 28.80) rotate(-70)" textLength="14.4" lengthAdjust="spacingAndGlyphs"><tspan class="cg">CpG</tspan> 78</text><text transform="translate(54.15 28.80) rotate(-70)" textLength="14.4" lengthAdjust="spacingAndGlyphs"><tspan class="cg">CpG</tspan> 79</text><text transform="translate(58.05 28.80) rotate(-70)" textLength="14.4" lengthAdjust="spacingAndGlyphs"><tspan class="cg">CpG</tspan> 80</text><text transform="translate(61.95 28.80) rotate(-70)" textLength="14.4" lengthAdjust="spacingAndGlyphs"><tspan class="cg">CpG</tspan> 81</text><text transform="translate(65.85 28.80) rotate(-70)" textLength="14.4" lengthAdjust="spacingAndGlyphs"><tspan class="cg">CpG</tspan> 82</text><text transform="translate(69.75 28.80) rotate(-70)" textLength="14.4" lengthAdjust="spacingAndGlyphs"><tspan class="cg">CpG</tspan> 83</text><text transform="translate(73.65 28.80) rotate(-70)" textLength="14.4" lengthAdjust="spacingAndGlyphs"><tspan class="cg">CpG</tspan> 12</text><text transform="translate(77.55 28.80) rotate(-70)" textLength="14.4" lengthAdjust="spacingAndGlyphs"><tspan class="cg">CpG</tspan> 13</text><text transform="translate(81.45 28.80) rotate(-70)" textLength="14.4" lengthAdjust="spacingAndGlyphs"><tspan class="cg">CpG</tspan> 14</text><text transform="translate(85.35 28.80) rotate(-70)" textLength="14.4" lengthAdjust="spacingAndGlyphs"><tspan class="cg">CpG</tspan> 15</text><text transform="translate(89.25 28.80) rotate(-70)" textLength="14.4" lengthAdjust="spacingAndGlyphs"><tspan class="cg">CpG</tspan> 16</text><text transform="translate(93.15 28.80) rotate(-70)" textLength="14.4" lengthAdjust="spacingAndGlyphs"><tspan class="cg">CpG</tspan> 17</text><text transform="translate(97.05 28.80) rotate(-70)" textLength="14.4" lengthAdjust="spacingAndGlyphs"><tspan class="cg">CpG</tspan> 18</text><text transform="translate(100.95 28.80) rotate(-70)" textLength="14.4" lengthAdjust="spacingAndGlyphs"><tspan class="cg">CpG</tspan> 19</text><text transform="translate(104.85 28.80) rotate(-70)" textLength="14.4" lengthAdjust="spacingAndGlyphs"><tspan class="cg">CpG</tspan> 05</text><text transform="translate(108.75 28.80) rotate(-70)" textLength="14.4" lengthAdjust="spacingAndGlyphs"><tspan class="cg">CpG</tspan> 06</text><text transform="translate(112.65 28.80) rotate(-70)" textLength="14.4" lengthAdjust="spacingAndGlyphs"><tspan class="cg">CpG</tspan> 07</text><text transform="translate(116.55 28.80) rotate(-70)" textLength="14.4" lengthAdjust="spacingAndGlyphs"><tspan class="cg">CpG</tspan> 08</text><text transform="translate(120.45 28.80) rotate(-70)" textLength="14.4" lengthAdjust="spacingAndGlyphs"><tspan class="cg">CpG</tspan> 11</text><text transform="translate(124.35 28.80) rotate(-70)" textLength="14.4" lengthAdjust="spacingAndGlyphs"><tspan class="cg">CpG</tspan> 12</text><text transform="translate(128.25 28.80) rotate(-70)" textLength="14.4" lengthAdjust="spacingAndGlyphs"><tspan class="cg">CpG</tspan> 13</text><text transform="translate(132.15 28.80) rotate(-70)" textLength="14.4" lengthAdjust="spacingAndGlyphs"><tspan class="cg">CpG</tspan> 14</text><text transform="translate(136.05 28.80) rotate(-70)" textLength="14.4" lengthAdjust="spacingAndGlyphs"><tspan class="cg">CpG</tspan> 15</text><text transform="translate(139.95 28.80) rotate(-70)" textLength="14.4" lengthAdjust="spacingAndGlyphs"><tspan class="cg">CpG</tspan> 16</text><text transform="translate(143.85 28.80) rotate(-70)" textLength="14.4" lengthAdjust="spacingAndGlyphs"><tspan class="cg">CpG</tspan> 17</text><text transform="translate(147.75 28.80) rotate(-70)" textLength="14.4" lengthAdjust="spacingAndGlyphs"><tspan class="cg">CpG</tspan> 18</text><text transform="translate(151.65 28.80) rotate(-70)" textLength="14.4" lengthAdjust="spacingAndGlyphs"><tspan class="cg">CpG</tspan> 24</text><text transform="translate(155.55 28.80) rotate(-70)" textLength="14.4" lengthAdjust="spacingAndGlyphs"><tspan class="cg">CpG</tspan> 25</text><text transform="translate(159.45 28.80) rotate(-70)" textLength="14.4" lengthAdjust="spacingAndGlyphs"><tspan class="cg">CpG</tspan> 26</text><text transform="translate(163.35 28.80) rotate(-70)" textLength="14.4" lengthAdjust="spacingAndGlyphs"><tspan class="cg">CpG</tspan> 27</text><text transform="translate(167.25 28.80) rotate(-70)" textLength="14.4" lengthAdjust="spacingAndGlyphs"><tspan class="cg">CpG</tspan> 37</text><text transform="translate(171.15 28.80) rotate(-70)" textLength="14.4" lengthAdjust="spacingAndGlyphs"><tspan class="cg">CpG</tspan> 38</text><text transform="translate(175.05 28.80) rotate(-70)" textLength="14.4" lengthAdjust="spacingAndGlyphs"><tspan class="cg">CpG</tspan> 39</text><text transform="translate(178.95 28.80) rotate(-70)" textLength="14.4" lengthAdjust="spacingAndGlyphs"><tspan class="cg">CpG</tspan> 15</text><text transform="translate(182.85 28.80) rotate(-70)" textLength="14.4" lengthAdjust="spacingAndGlyphs"><tspan class="cg">CpG</tspan> 16</text><text transform="translate(186.75 28.80) rotate(-70)" textLength="14.4" lengthAdjust="spacingAndGlyphs"><tspan class="cg">CpG</tspan> 17</text><text transform="translate(190.65 28.80) rotate(-70)" textLength="14.4" lengthAdjust="spacingAndGlyphs"><tspan class="cg">CpG</tspan> 18</text><text transform="translate(194.55 28.80) rotate(-70)" textLength="14.4" lengthAdjust="spacingAndGlyphs"><tspan class="cg">CpG</tspan> 19</text><text transform="translate(198.45 28.80) rotate(-70)" textLength="14.4" lengthAdjust="spacingAndGlyphs"><tspan class="cg">CpG</tspan> 20</text><text transform="translate(202.35 28.80) rotate(-70)" textLength="14.4" lengthAdjust="spacingAndGlyphs"><tspan class="cg">CpG</tspan> 21</text><text transform="translate(206.25 28.80) rotate(-70)" textLength="14.4" lengthAdjust="spacingAndGlyphs"><tspan class="cg">CpG</tspan> 22</text><text transform="translate(210.15 28.80) rotate(-70)" textLength="14.4" lengthAdjust="spacingAndGlyphs"><tspan class="cg">CpG</tspan> 01</text><text transform="translate(214.05 28.80) rotate(-70)" textLength="14.4" lengthAdjust="spacingAndGlyphs"><tspan class="cg">CpG</tspan> 02</text><text transform="translate(217.95 28.80) rotate(-70)" textLength="14.4" lengthAdjust="spacingAndGlyphs"><tspan class="cg">CpG</tspan> 03</text><text transform="translate(221.85 28.80) rotate(-70)" textLength="14.4" lengthAdjust="spacingAndGlyphs"><tspan class="cg">CpG</tspan> 07</text><text transform="translate(225.75 28.80) rotate(-70)" textLength="14.4" lengthAdjust="spacingAndGlyphs"><tspan class="cg">CpG</tspan> 08</text><text transform="translate(229.65 28.80) rotate(-70)" textLength="14.4" lengthAdjust="spacingAndGlyphs"><tspan class="cg">CpG</tspan> 09</text><text transform="translate(233.55 28.80) rotate(-70)" textLength="14.4" lengthAdjust="spacingAndGlyphs"><tspan class="cg">CpG</tspan> 10</text><text transform="translate(237.45 28.80) rotate(-70)" textLength="14.4" lengthAdjust="spacingAndGlyphs"><tspan class="cg">CpG</tspan> 11</text><text transform="translate(241.35 28.80) rotate(-70)" textLength="14.4" lengthAdjust="spacingAndGlyphs"><tspan class="cg">CpG</tspan> 12</text><text transform="translate(245.25 28.80) rotate(-70)" textLength="14.4" lengthAdjust="spacingAndGlyphs"><tspan class="cg">CpG</tspan> 13</text><text transform="translate(249.15 28.80) rotate(-70)" textLength="14.4" lengthAdjust="spacingAndGlyphs"><tspan class="cg">CpG</tspan> 19</text><text transform="translate(253.05 28.80) rotate(-70)" textLength="14.4" lengthAdjust="spacingAndGlyphs"><tspan class="cg">CpG</tspan> 20</text><text transform="translate(256.95 28.80) rotate(-70)" textLength="14.4" lengthAdjust="spacingAndGlyphs"><tspan class="cg">CpG</tspan> 21</text><text transform="translate(260.85 28.80) rotate(-70)" textLength="14.4" lengthAdjust="spacingAndGlyphs"><tspan class="cg">CpG</tspan> 22</text></g>
<g class="gl"><text transform="translate(264.50 52.70) rotate(-90) scale(0.78 1)">promoter</text><text transform="translate(45.70 271.80) scale(0.78 1)">promoter</text><text transform="translate(264.50 91.70) rotate(-90) scale(0.78 1)">enhancer 1</text><text transform="translate(84.70 271.80) scale(0.78 1)">enhancer 1</text><text transform="translate(264.50 144.35) rotate(-90) scale(0.78 1)">enhancer 2</text><text transform="translate(137.35 271.80) scale(0.78 1)">enhancer 2</text><text transform="translate(264.50 197.00) rotate(-90) scale(0.78 1)">enhancer 3</text><text transform="translate(190.00 271.80) scale(0.78 1)">enhancer 3</text><text transform="translate(264.50 239.90) rotate(-90) scale(0.78 1)">enhancer 4</text><text transform="translate(232.90 271.80) scale(0.78 1)">enhancer 4</text></g>
<rect x="292.60" y="29.30" width="46.80" height="237.90" fill="#f1f1f1"/>
<rect x="292.60" y="29.30" width="237.90" height="46.80" fill="#f1f1f1"/>
<path d="M296.50 29.30V267.20M292.60 33.20H530.50M300.40 29.30V267.20M292.60 37.10H530.50M304.30 29.30V267.20M292.60 41.00H530.50M308.20 29.30V267.20M292.60 44.90H530.50M312.10 29.30V267.20M292.60 48.80H530.50M316.00 29.30V267.20M292.60 52.70H530.50M319.90 29.30V267.20M292.60 56.60H530.50M323.80 29.30V267.20M292.60 60.50H530.50M327.70 29.30V267.20M292.60 64.40H530.50M331.60 29.30V267.20M292.60 68.30H530.50M335.50 29.30V267.20M292.60 72.20H530.50M339.40 29.30V267.20M292.60 76.10H530.50M343.30 29.30V267.20M292.60 80.00H530.50M347.20 29.30V267.20M292.60 83.90H530.50M351.10 29.30V267.20M292.60 87.80H530.50M355.00 29.30V267.20M292.60 91.70H530.50M358.90 29.30V267.20M292.60 95.60H530.50M362.80 29.30V267.20M292.60 99.50H530.50M366.70 29.30V267.20M292.60 103.40H530.50M370.60 29.30V267.20M292.60 107.30H530.50M374.50 29.30V267.20M292.60 111.20H530.50M378.40 29.30V267.20M292.60 115.10H530.50M382.30 29.30V267.20M292.60 119.00H530.50M386.20 29.30V267.20M292.60 122.90H530.50M390.10 29.30V267.20M292.60 126.80H530.50M394.00 29.30V267.20M292.60 130.70H530.50M397.90 29.30V267.20M292.60 134.60H530.50M401.80 29.30V267.20M292.60 138.50H530.50M405.70 29.30V267.20M292.60 142.40H530.50M409.60 29.30V267.20M292.60 146.30H530.50M413.50 29.30V267.20M292.60 150.20H530.50M417.40 29.30V267.20M292.60 154.10H530.50M421.30 29.30V267.20M292.60 158.00H530.50M425.20 29.30V267.20M292.60 161.90H530.50M429.10 29.30V267.20M292.60 165.80H530.50M433.00 29.30V267.20M292.60 169.70H530.50M436.90 29.30V267.20M292.60 173.60H530.50M440.80 29.30V267.20M292.60 177.50H530.50M444.70 29.30V267.20M292.60 181.40H530.50M448.60 29.30V267.20M292.60 185.30H530.50M452.50 29.30V267.20M292.60 189.20H530.50M456.40 29.30V267.20M292.60 193.10H530.50M460.30 29.30V267.20M292.60 197.00H530.50M464.20 29.30V267.20M292.60 200.90H530.50M468.10 29.30V267.20M292.60 204.80H530.50M472.00 29.30V267.20M292.60 208.70H530.50M475.90 29.30V267.20M292.60 212.60H530.50M479.80 29.30V267.20M292.60 216.50H530.50M483.70 29.30V267.20M292.60 220.40H530.50M487.60 29.30V267.20M292.60 224.30H530.50M491.50 29.30V267.20M292.60 228.20H530.50M495.40 29.30V267.20M292.60 232.10H530.50M499.30 29.30V267.20M292.60 236.00H530.50M503.20 29.30V267.20M292.60 239.90H530.50M507.10 29.30V267.20M292.60 243.80H530.50M511.00 29.30V267.20M292.60 247.70H530.50M514.90 29.30V267.20M292.60 251.60H530.50M518.80 29.30V267.20M292.60 255.50H530.50M522.70 29.30V267.20M292.60 259.40H530.50M526.60 29.30V267.20M292.60 263.30H530.50" stroke="#efefef" stroke-width="0.4" fill="none"/>
<circle cx="341.35" cy="78.05" r="1.75" fill="#062b63"/>
<circle cx="345.25" cy="78.05" r="1.75" fill="#062b63"/>
<circle cx="349.15" cy="78.05" r="1.75" fill="#062b63"/>
<circle cx="353.05" cy="78.05" r="1.75" fill="#062b63"/>
<circle cx="356.95" cy="78.05" r="1.75" fill="#062b63"/>
<circle cx="360.85" cy="78.05" r="1.75" fill="#062b63"/>
<circle cx="364.75" cy="78.05" r="1.75" fill="#062b63"/>
<circle cx="368.65" cy="78.05" r="1.75" fill="#062b63"/>
<circle cx="372.55" cy="78.05" r="1.22" fill="#2196d0"/>
<circle cx="376.45" cy="78.05" r="0.95" fill="#5cb8dc"/>
<circle cx="380.35" cy="78.05" r="1.22" fill="#2196d0"/>
<circle cx="384.25" cy="78.05" r="1.22" fill="#2196d0"/>
<circle cx="388.15" cy="78.05" r="1.22" fill="#2196d0"/>
<circle cx="399.85" cy="78.05" r="1.5" fill="#1768b8"/>
<circle cx="403.75" cy="78.05" r="0.95" fill="#5cb8dc"/>
<circle cx="423.25" cy="78.05" r="1.22" fill="#2196d0"/>
<circle cx="434.95" cy="78.05" r="1.22" fill="#2196d0"/>
<circle cx="438.85" cy="78.05" r="1.22" fill="#2196d0"/>
<circle cx="442.75" cy="78.05" r="1.22" fill="#2196d0"/>
<circle cx="450.55" cy="78.05" r="1.5" fill="#1768b8"/>
<circle cx="454.45" cy="78.05" r="1.5" fill="#1768b8"/>
<circle cx="458.35" cy="78.05" r="1.5" fill="#1768b8"/>
<circle cx="462.25" cy="78.05" r="1.5" fill="#1768b8"/>
<circle cx="466.15" cy="78.05" r="1.5" fill="#1768b8"/>
<circle cx="470.05" cy="78.05" r="1.5" fill="#1768b8"/>
<circle cx="473.95" cy="78.05" r="1.5" fill="#1768b8"/>
<circle cx="341.35" cy="81.95" r="1.75" fill="#062b63"/>
<circle cx="345.25" cy="81.95" r="1.75" fill="#062b63"/>
<circle cx="349.15" cy="81.95" r="1.75" fill="#062b63"/>
<circle cx="353.05" cy="81.95" r="1.75" fill="#062b63"/>
<circle cx="356.95" cy="81.95" r="1.75" fill="#062b63"/>
<circle cx="360.85" cy="81.95" r="1.75" fill="#062b63"/>
<circle cx="364.75" cy="81.95" r="1.75" fill="#062b63"/>
<circle cx="368.65" cy="81.95" r="1.75" fill="#062b63"/>
<circle cx="372.55" cy="81.95" r="0.95" fill="#5cb8dc"/>
<circle cx="380.35" cy="81.95" r="1.22" fill="#2196d0"/>
<circle cx="384.25" cy="81.95" r="1.22" fill="#2196d0"/>
<circle cx="388.15" cy="81.95" r="1.22" fill="#2196d0"/>
<circle cx="399.85" cy="81.95" r="1.5" fill="#1768b8"/>
<circle cx="423.25" cy="81.95" r="1.22" fill="#2196d0"/>
<circle cx="434.95" cy="81.95" r="1.22" fill="#2196d0"/>
<circle cx="438.85" cy="81.95" r="1.22" fill="#2196d0"/>
<circle cx="442.75" cy="81.95" r="1.22" fill="#2196d0"/>
<circle cx="450.55" cy="81.95" r="1.5" fill="#1768b8"/>
<circle cx="454.45" cy="81.95" r="1.5" fill="#1768b8"/>
<circle cx="458.35" cy="81.95" r="1.5" fill="#1768b8"/>
<circle cx="462.25" cy="81.95" r="1.5" fill="#1768b8"/>
<circle cx="466.15" cy="81.95" r="1.5" fill="#1768b8"/>
<circle cx="470.05" cy="81.95" r="1.5" fill="#1768b8"/>
<circle cx="473.95" cy="81.95" r="1.5" fill="#1768b8"/>
<circle cx="341.35" cy="85.85" r="1.75" fill="#062b63"/>
<circle cx="345.25" cy="85.85" r="1.75" fill="#062b63"/>
<circle cx="349.15" cy="85.85" r="1.75" fill="#062b63"/>
<circle cx="353.05" cy="85.85" r="1.75" fill="#062b63"/>
<circle cx="356.95" cy="85.85" r="1.75" fill="#062b63"/>
<circle cx="360.85" cy="85.85" r="1.75" fill="#062b63"/>
<circle cx="364.75" cy="85.85" r="1.75" fill="#062b63"/>
<circle cx="368.65" cy="85.85" r="1.75" fill="#062b63"/>
<circle cx="372.55" cy="85.85" r="0.95" fill="#5cb8dc"/>
<circle cx="380.35" cy="85.85" r="1.22" fill="#2196d0"/>
<circle cx="384.25" cy="85.85" r="1.22" fill="#2196d0"/>
<circle cx="388.15" cy="85.85" r="1.22" fill="#2196d0"/>
<circle cx="399.85" cy="85.85" r="1.5" fill="#1768b8"/>
<circle cx="419.35" cy="85.85" r="1.22" fill="#2196d0"/>
<circle cx="423.25" cy="85.85" r="1.5" fill="#1768b8"/>
<circle cx="434.95" cy="85.85" r="1.22" fill="#2196d0"/>
<circle cx="438.85" cy="85.85" r="1.22" fill="#2196d0"/>
<circle cx="442.75" cy="85.85" r="1.22" fill="#2196d0"/>
<circle cx="446.65" cy="85.85" r="1.22" fill="#2196d0"/>
<circle cx="450.55" cy="85.85" r="1.5" fill="#1768b8"/>
<circle cx="454.45" cy="85.85" r="1.5" fill="#1768b8"/>
<circle cx="458.35" cy="85.85" r="1.22" fill="#2196d0"/>
<circle cx="462.25" cy="85.85" r="1.5" fill="#1768b8"/>
<circle cx="466.15" cy="85.85" r="1.5" fill="#1768b8"/>
<circle cx="470.05" cy="85.85" r="1.22" fill="#2196d0"/>
<circle cx="473.95" cy="85.85" r="1.5" fill="#1768b8"/>
<circle cx="341.35" cy="89.75" r="1.75" fill="#062b63"/>
<circle cx="345.25" cy="89.75" r="1.75" fill="#062b63"/>
<circle cx="349.15" cy="89.75" r="1.75" fill="#062b63"/>
<circle cx="353.05" cy="89.75" r="1.75" fill="#062b63"/>
<circle cx="356.95" cy="89.75" r="1.75" fill="#062b63"/>
<circle cx="360.85" cy="89.75" r="1.65" fill="#0b4088"/>
<circle cx="364.75" cy="89.75" r="1.75" fill="#062b63"/>
<circle cx="368.65" cy="89.75" r="1.75" fill="#062b63"/>
<circle cx="372.55" cy="89.75" r="0.95" fill="#5cb8dc"/>
<circle cx="380.35" cy="89.75" r="1.22" fill="#2196d0"/>
<circle cx="384.25" cy="89.75" r="1.22" fill="#2196d0"/>
<circle cx="388.15" cy="89.75" r="1.22" fill="#2196d0"/>
<circle cx="399.85" cy="89.75" r="1.5" fill="#1768b8"/>
<circle cx="419.35" cy="89.75" r="0.95" fill="#5cb8dc"/>
<circle cx="423.25" cy="89.75" r="1.5" fill="#1768b8"/>
<circle cx="434.95" cy="89.75" r="1.22" fill="#2196d0"/>
<circle cx="438.85" cy="89.75" r="1.22" fill="#2196d0"/>
<circle cx="442.75" cy="89.75" r="1.22" fill="#2196d0"/>
<circle cx="446.65" cy="89.75" r="0.95" fill="#5cb8dc"/>
<circle cx="450.55" cy="89.75" r="1.5" fill="#1768b8"/>
<circle cx="454.45" cy="89.75" r="1.5" fill="#1768b8"/>
<circle cx="458.35" cy="89.75" r="1.5" fill="#1768b8"/>
<circle cx="462.25" cy="89.75" r="1.5" fill="#1768b8"/>
<circle cx="466.15" cy="89.75" r="1.5" fill="#1768b8"/>
<circle cx="470.05" cy="89.75" r="1.5" fill="#1768b8"/>
<circle cx="473.95" cy="89.75" r="1.5" fill="#1768b8"/>
<circle cx="341.35" cy="93.65" r="1.75" fill="#062b63"/>
<circle cx="345.25" cy="93.65" r="1.75" fill="#062b63"/>
<circle cx="349.15" cy="93.65" r="1.75" fill="#062b63"/>
<circle cx="353.05" cy="93.65" r="1.75" fill="#062b63"/>
<circle cx="356.95" cy="93.65" r="1.75" fill="#062b63"/>
<circle cx="360.85" cy="93.65" r="1.75" fill="#062b63"/>
<circle cx="364.75" cy="93.65" r="1.75" fill="#062b63"/>
<circle cx="368.65" cy="93.65" r="1.75" fill="#062b63"/>
<circle cx="372.55" cy="93.65" r="1.22" fill="#2196d0"/>
<circle cx="376.45" cy="93.65" r="0.95" fill="#5cb8dc"/>
<circle cx="380.35" cy="93.65" r="1.22" fill="#2196d0"/>
<circle cx="384.25" cy="93.65" r="1.22" fill="#2196d0"/>
<circle cx="388.15" cy="93.65" r="1.22" fill="#2196d0"/>
<circle cx="392.05" cy="93.65" r="0.95" fill="#5cb8dc"/>
<circle cx="399.85" cy="93.65" r="1.5" fill="#1768b8"/>
<circle cx="423.25" cy="93.65" r="1.22" fill="#2196d0"/>
<circle cx="434.95" cy="93.65" r="1.22" fill="#2196d0"/>
<circle cx="438.85" cy="93.65" r="1.22" fill="#2196d0"/>
<circle cx="442.75" cy="93.65" r="1.22" fill="#2196d0"/>
<circle cx="446.65" cy="93.65" r="0.95" fill="#5cb8dc"/>
<circle cx="450.55" cy="93.65" r="1.5" fill="#1768b8"/>
<circle cx="454.45" cy="93.65" r="1.5" fill="#1768b8"/>
<circle cx="458.35" cy="93.65" r="1.5" fill="#1768b8"/>
<circle cx="462.25" cy="93.65" r="1.5" fill="#1768b8"/>
<circle cx="466.15" cy="93.65" r="1.5" fill="#1768b8"/>
<circle cx="470.05" cy="93.65" r="1.5" fill="#1768b8"/>
<circle cx="473.95" cy="93.65" r="1.5" fill="#1768b8"/>
<circle cx="341.35" cy="97.55" r="1.75" fill="#062b63"/>
<circle cx="345.25" cy="97.55" r="1.75" fill="#062b63"/>
<circle cx="349.15" cy="97.55" r="1.65" fill="#0b4088"/>
<circle cx="353.05" cy="97.55" r="1.75" fill="#062b63"/>
<circle cx="356.95" cy="97.55" r="1.75" fill="#062b63"/>
<circle cx="360.85" cy="97.55" r="1.75" fill="#062b63"/>
<circle cx="364.75" cy="97.55" r="1.75" fill="#062b63"/>
<circle cx="368.65" cy="97.55" r="1.75" fill="#062b63"/>
<circle cx="372.55" cy="97.55" r="1.22" fill="#2196d0"/>
<circle cx="380.35" cy="97.55" r="1.22" fill="#2196d0"/>
<circle cx="384.25" cy="97.55" r="1.22" fill="#2196d0"/>
<circle cx="399.85" cy="97.55" r="1.22" fill="#2196d0"/>
<circle cx="423.25" cy="97.55" r="1.5" fill="#1768b8"/>
<circle cx="434.95" cy="97.55" r="1.22" fill="#2196d0"/>
<circle cx="438.85" cy="97.55" r="1.22" fill="#2196d0"/>
<circle cx="442.75" cy="97.55" r="1.22" fill="#2196d0"/>
<circle cx="446.65" cy="97.55" r="0.95" fill="#5cb8dc"/>
<circle cx="450.55" cy="97.55" r="1.5" fill="#1768b8"/>
<circle cx="454.45" cy="97.55" r="1.5" fill="#1768b8"/>
<circle cx="458.35" cy="97.55" r="1.5" fill="#1768b8"/>
<circle cx="462.25" cy="97.55" r="1.5" fill="#1768b8"/>
<circle cx="466.15" cy="97.55" r="1.5" fill="#1768b8"/>
<circle cx="470.05" cy="97.55" r="1.5" fill="#1768b8"/>
<circle cx="473.95" cy="97.55" r="1.5" fill="#1768b8"/>
<circle cx="481.75" cy="97.55" r="1.5" fill="#e4383a"/>
<circle cx="489.55" cy="97.55" r="1.5" fill="#e4383a"/>
<circle cx="341.35" cy="101.45" r="1.75" fill="#062b63"/>
<circle cx="345.25" cy="101.45" r="1.75" fill="#062b63"/>
<circle cx="349.15" cy="101.45" r="1.75" fill="#062b63"/>
<circle cx="353.05" cy="101.45" r="1.75" fill="#062b63"/>
<circle cx="356.95" cy="101.45" r="1.75" fill="#062b63"/>
<circle cx="360.85" cy="101.45" r="1.75" fill="#062b63"/>
<circle cx="364.75" cy="101.45" r="1.75" fill="#062b63"/>
<circle cx="368.65" cy="101.45" r="1.75" fill="#062b63"/>
<circle cx="372.55" cy="101.45" r="1.22" fill="#2196d0"/>
<circle cx="376.45" cy="101.45" r="0.95" fill="#5cb8dc"/>
<circle cx="380.35" cy="101.45" r="1.22" fill="#2196d0"/>
<circle cx="384.25" cy="101.45" r="1.22" fill="#2196d0"/>
<circle cx="388.15" cy="101.45" r="1.22" fill="#2196d0"/>
<circle cx="399.85" cy="101.45" r="1.5" fill="#1768b8"/>
<circle cx="434.95" cy="101.45" r="1.22" fill="#2196d0"/>
<circle cx="438.85" cy="101.45" r="1.22" fill="#2196d0"/>
<circle cx="442.75" cy="101.45" r="1.22" fill="#2196d0"/>
<circle cx="450.55" cy="101.45" r="1.22" fill="#2196d0"/>
<circle cx="454.45" cy="101.45" r="1.22" fill="#2196d0"/>
<circle cx="458.35" cy="101.45" r="1.22" fill="#2196d0"/>
<circle cx="462.25" cy="101.45" r="1.22" fill="#2196d0"/>
<circle cx="466.15" cy="101.45" r="1.22" fill="#2196d0"/>
<circle cx="470.05" cy="101.45" r="1.22" fill="#2196d0"/>
<circle cx="473.95" cy="101.45" r="1.5" fill="#1768b8"/>
<circle cx="341.35" cy="105.35" r="1.75" fill="#062b63"/>
<circle cx="345.25" cy="105.35" r="1.75" fill="#062b63"/>
<circle cx="349.15" cy="105.35" r="1.75" fill="#062b63"/>
<circle cx="353.05" cy="105.35" r="1.75" fill="#062b63"/>
<circle cx="356.95" cy="105.35" r="1.75" fill="#062b63"/>
<circle cx="360.85" cy="105.35" r="1.75" fill="#062b63"/>
<circle cx="364.75" cy="105.35" r="1.75" fill="#062b63"/>
<circle cx="368.65" cy="105.35" r="1.75" fill="#062b63"/>
<circle cx="372.55" cy="105.35" r="1.22" fill="#2196d0"/>
<circle cx="380.35" cy="105.35" r="1.22" fill="#2196d0"/>
<circle cx="384.25" cy="105.35" r="1.22" fill="#2196d0"/>
<circle cx="388.15" cy="105.35" r="1.22" fill="#2196d0"/>
<circle cx="395.95" cy="105.35" r="0.95" fill="#5cb8dc"/>
<circle cx="399.85" cy="105.35" r="1.22" fill="#2196d0"/>
<circle cx="423.25" cy="105.35" r="1.22" fill="#2196d0"/>
<circle cx="442.75" cy="105.35" r="1.22" fill="#2196d0"/>
<circle cx="450.55" cy="105.35" r="1.5" fill="#1768b8"/>
<circle cx="454.45" cy="105.35" r="1.5" fill="#1768b8"/>
<circle cx="458.35" cy="105.35" r="1.5" fill="#1768b8"/>
<circle cx="462.25" cy="105.35" r="1.5" fill="#1768b8"/>
<circle cx="466.15" cy="105.35" r="1.5" fill="#1768b8"/>
<circle cx="470.05" cy="105.35" r="1.5" fill="#1768b8"/>
<circle cx="473.95" cy="105.35" r="1.5" fill="#1768b8"/>
<circle cx="341.35" cy="109.25" r="1.22" fill="#2196d0"/>
<circle cx="345.25" cy="109.25" r="0.95" fill="#5cb8dc"/>
<circle cx="349.15" cy="109.25" r="0.95" fill="#5cb8dc"/>
<circle cx="353.05" cy="109.25" r="0.95" fill="#5cb8dc"/>
<circle cx="356.95" cy="109.25" r="1.22" fill="#2196d0"/>
<circle cx="360.85" cy="109.25" r="1.22" fill="#2196d0"/>
<circle cx="364.75" cy="109.25" r="1.22" fill="#2196d0"/>
<circle cx="368.65" cy="109.25" r="1.22" fill="#2196d0"/>
<circle cx="372.55" cy="109.25" r="1.75" fill="#062b63"/>
<circle cx="376.45" cy="109.25" r="1.22" fill="#2196d0"/>
<circle cx="380.35" cy="109.25" r="1.65" fill="#0b4088"/>
<circle cx="384.25" cy="109.25" r="1.5" fill="#1768b8"/>
<circle cx="388.15" cy="109.25" r="1.65" fill="#0b4088"/>
<circle cx="392.05" cy="109.25" r="1.5" fill="#1768b8"/>
<circle cx="395.95" cy="109.25" r="1.22" fill="#2196d0"/>
<circle cx="399.85" cy="109.25" r="1.22" fill="#2196d0"/>
<circle cx="403.75" cy="109.25" r="1.65" fill="#0b4088"/>
<circle cx="407.65" cy="109.25" r="1.22" fill="#2196d0"/>
<circle cx="411.55" cy="109.25" r="1.22" fill="#2196d0"/>
<circle cx="415.45" cy="109.25" r="1.22" fill="#2196d0"/>
<circle cx="434.95" cy="109.25" r="1.65" fill="#0b4088"/>
<circle cx="438.85" cy="109.25" r="1.65" fill="#0b4088"/>
<circle cx="442.75" cy="109.25" r="1.5" fill="#1768b8"/>
<circle cx="341.35" cy="113.15" r="0.95" fill="#5cb8dc"/>
<circle cx="356.95" cy="113.15" r="0.95" fill="#5cb8dc"/>
<circle cx="364.75" cy="113.15" r="0.95" fill="#5cb8dc"/>
<circle cx="372.55" cy="113.15" r="1.22" fill="#2196d0"/>
<circle cx="376.45" cy="113.15" r="1.75" fill="#062b63"/>
<circle cx="380.35" cy="113.15" r="1.5" fill="#1768b8"/>
<circle cx="384.25" cy="113.15" r="1.5" fill="#1768b8"/>
<circle cx="388.15" cy="113.15" r="1.5" fill="#1768b8"/>
<circle cx="392.05" cy="113.15" r="1.5" fill="#1768b8"/>
<circle cx="395.95" cy="113.15" r="1.22" fill="#2196d0"/>
<circle cx="399.85" cy="113.15" r="1.22" fill="#2196d0"/>
<circle cx="403.75" cy="113.15" r="1.22" fill="#2196d0"/>
<circle cx="411.55" cy="113.15" r="0.95" fill="#5cb8dc"/>
<circle cx="434.95" cy="113.15" r="1.5" fill="#1768b8"/>
<circle cx="438.85" cy="113.15" r="1.5" fill="#1768b8"/>
<circle cx="442.75" cy="113.15" r="1.5" fill="#1768b8"/>
<circle cx="473.95" cy="113.15" r="1.22" fill="#2196d0"/>
<circle cx="341.35" cy="117.05" r="1.22" fill="#2196d0"/>
<circle cx="345.25" cy="117.05" r="1.22" fill="#2196d0"/>
<circle cx="349.15" cy="117.05" r="1.22" fill="#2196d0"/>
<circle cx="353.05" cy="117.05" r="1.22" fill="#2196d0"/>
<circle cx="356.95" cy="117.05" r="1.22" fill="#2196d0"/>
<circle cx="360.85" cy="117.05" r="1.22" fill="#2196d0"/>
<circle cx="364.75" cy="117.05" r="1.22" fill="#2196d0"/>
<circle cx="368.65" cy="117.05" r="1.22" fill="#2196d0"/>
<circle cx="372.55" cy="117.05" r="1.65" fill="#0b4088"/>
<circle cx="376.45" cy="117.05" r="1.5" fill="#1768b8"/>
<circle cx="380.35" cy="117.05" r="1.75" fill="#062b63"/>
<circle cx="384.25" cy="117.05" r="1.5" fill="#1768b8"/>
<circle cx="388.15" cy="117.05" r="1.65" fill="#0b4088"/>
<circle cx="392.05" cy="117.05" r="1.65" fill="#0b4088"/>
<circle cx="395.95" cy="117.05" r="1.22" fill="#2196d0"/>
<circle cx="399.85" cy="117.05" r="1.22" fill="#2196d0"/>
<circle cx="403.75" cy="117.05" r="1.5" fill="#1768b8"/>
<circle cx="407.65" cy="117.05" r="1.22" fill="#2196d0"/>
<circle cx="411.55" cy="117.05" r="1.22" fill="#2196d0"/>
<circle cx="415.45" cy="117.05" r="1.22" fill="#2196d0"/>
<circle cx="434.95" cy="117.05" r="1.65" fill="#0b4088"/>
<circle cx="438.85" cy="117.05" r="1.65" fill="#0b4088"/>
<circle cx="442.75" cy="117.05" r="1.65" fill="#0b4088"/>
<circle cx="493.45" cy="117.05" r="1.22" fill="#2196d0"/>
<circle cx="341.35" cy="120.95" r="1.22" fill="#2196d0"/>
<circle cx="345.25" cy="120.95" r="1.22" fill="#2196d0"/>
<circle cx="349.15" cy="120.95" r="1.22" fill="#2196d0"/>
<circle cx="353.05" cy="120.95" r="1.22" fill="#2196d0"/>
<circle cx="356.95" cy="120.95" r="1.22" fill="#2196d0"/>
<circle cx="360.85" cy="120.95" r="1.22" fill="#2196d0"/>
<circle cx="364.75" cy="120.95" r="1.22" fill="#2196d0"/>
<circle cx="368.65" cy="120.95" r="1.22" fill="#2196d0"/>
<circle cx="372.55" cy="120.95" r="1.5" fill="#1768b8"/>
<circle cx="376.45" cy="120.95" r="1.5" fill="#1768b8"/>
<circle cx="380.35" cy="120.95" r="1.5" fill="#1768b8"/>
<circle cx="384.25" cy="120.95" r="1.75" fill="#062b63"/>
<circle cx="388.15" cy="120.95" r="1.5" fill="#1768b8"/>
<circle cx="392.05" cy="120.95" r="1.22" fill="#2196d0"/>
<circle cx="395.95" cy="120.95" r="1.22" fill="#2196d0"/>
<circle cx="399.85" cy="120.95" r="1.5" fill="#1768b8"/>
<circle cx="403.75" cy="120.95" r="1.22" fill="#2196d0"/>
<circle cx="411.55" cy="120.95" r="0.95" fill="#5cb8dc"/>
<circle cx="415.45" cy="120.95" r="1.22" fill="#2196d0"/>
<circle cx="434.95" cy="120.95" r="1.65" fill="#0b4088"/>
<circle cx="438.85" cy="120.95" r="1.5" fill="#1768b8"/>
<circle cx="442.75" cy="120.95" r="1.5" fill="#1768b8"/>
<circle cx="462.25" cy="120.95" r="1.22" fill="#2196d0"/>
<circle cx="341.35" cy="124.85" r="1.22" fill="#2196d0"/>
<circle cx="345.25" cy="124.85" r="1.22" fill="#2196d0"/>
<circle cx="349.15" cy="124.85" r="1.22" fill="#2196d0"/>
<circle cx="353.05" cy="124.85" r="1.22" fill="#2196d0"/>
<circle cx="356.95" cy="124.85" r="1.22" fill="#2196d0"/>
<circle cx="364.75" cy="124.85" r="1.22" fill="#2196d0"/>
<circle cx="368.65" cy="124.85" r="1.22" fill="#2196d0"/>
<circle cx="372.55" cy="124.85" r="1.65" fill="#0b4088"/>
<circle cx="376.45" cy="124.85" r="1.5" fill="#1768b8"/>
<circle cx="380.35" cy="124.85" r="1.65" fill="#0b4088"/>
<circle cx="384.25" cy="124.85" r="1.5" fill="#1768b8"/>
<circle cx="388.15" cy="124.85" r="1.75" fill="#062b63"/>
<circle cx="392.05" cy="124.85" r="1.65" fill="#0b4088"/>
<circle cx="395.95" cy="124.85" r="1.22" fill="#2196d0"/>
<circle cx="399.85" cy="124.85" r="1.5" fill="#1768b8"/>
<circle cx="403.75" cy="124.85" r="1.5" fill="#1768b8"/>
<circle cx="407.65" cy="124.85" r="1.5" fill="#1768b8"/>
<circle cx="411.55" cy="124.85" r="1.5" fill="#1768b8"/>
<circle cx="415.45" cy="124.85" r="1.5" fill="#1768b8"/>
<circle cx="434.95" cy="124.85" r="1.65" fill="#0b4088"/>
<circle cx="438.85" cy="124.85" r="1.65" fill="#0b4088"/>
<circle cx="442.75" cy="124.85" r="1.5" fill="#1768b8"/>
<circle cx="493.45" cy="124.85" r="1.22" fill="#2196d0"/>
<circle cx="528.55" cy="124.85" r="1.22" fill="#2196d0"/>
<circle cx="356.95" cy="128.75" r="0.95" fill="#5cb8dc"/>
<circle cx="372.55" cy="128.75" r="1.5" fill="#1768b8"/>
<circle cx="376.45" cy="128.75" r="1.5" fill="#1768b8"/>
<circle cx="380.35" cy="128.75" r="1.65" fill="#0b4088"/>
<circle cx="384.25" cy="128.75" r="1.22" fill="#2196d0"/>
<circle cx="388.15" cy="128.75" r="1.65" fill="#0b4088"/>
<circle cx="392.05" cy="128.75" r="1.75" fill="#062b63"/>
<circle cx="395.95" cy="128.75" r="1.22" fill="#2196d0"/>
<circle cx="399.85" cy="128.75" r="1.5" fill="#1768b8"/>
<circle cx="403.75" cy="128.75" r="1.5" fill="#1768b8"/>
<circle cx="407.65" cy="128.75" r="1.22" fill="#2196d0"/>
<circle cx="411.55" cy="128.75" r="1.5" fill="#1768b8"/>
<circle cx="415.45" cy="128.75" r="1.5" fill="#1768b8"/>
<circle cx="434.95" cy="128.75" r="1.65" fill="#0b4088"/>
<circle cx="438.85" cy="128.75" r="1.65" fill="#0b4088"/>
<circle cx="442.75" cy="128.75" r="1.5" fill="#1768b8"/>
<circle cx="493.45" cy="128.75" r="1.22" fill="#2196d0"/>
<circle cx="520.75" cy="128.75" r="0.95" fill="#5cb8dc"/>
<circle cx="528.55" cy="128.75" r="1.22" fill="#2196d0"/>
<circle cx="368.65" cy="132.65" r="0.95" fill="#5cb8dc"/>
<circle cx="372.55" cy="132.65" r="1.22" fill="#2196d0"/>
<circle cx="376.45" cy="132.65" r="1.22" fill="#2196d0"/>
<circle cx="380.35" cy="132.65" r="1.22" fill="#2196d0"/>
<circle cx="384.25" cy="132.65" r="1.22" fill="#2196d0"/>
<circle cx="388.15" cy="132.65" r="1.22" fill="#2196d0"/>
<circle cx="392.05" cy="132.65" r="1.22" fill="#2196d0"/>
<circle cx="395.95" cy="132.65" r="1.75" fill="#062b63"/>
<circle cx="399.85" cy="132.65" r="1.22" fill="#2196d0"/>
<circle cx="403.75" cy="132.65" r="1.22" fill="#2196d0"/>
<circle cx="434.95" cy="132.65" r="1.22" fill="#2196d0"/>
<circle cx="438.85" cy="132.65" r="1.22" fill="#2196d0"/>
<circle cx="442.75" cy="132.65" r="1.5" fill="#1768b8"/>
<circle cx="454.45" cy="132.65" r="1.22" fill="#2196d0"/>
<circle cx="493.45" cy="132.65" r="1.22" fill="#2196d0"/>
<circle cx="341.35" cy="136.55" r="1.5" fill="#1768b8"/>
<circle cx="345.25" cy="136.55" r="1.5" fill="#1768b8"/>
<circle cx="349.15" cy="136.55" r="1.5" fill="#1768b8"/>
<circle cx="353.05" cy="136.55" r="1.5" fill="#1768b8"/>
<circle cx="356.95" cy="136.55" r="1.5" fill="#1768b8"/>
<circle cx="360.85" cy="136.55" r="1.22" fill="#2196d0"/>
<circle cx="364.75" cy="136.55" r="1.5" fill="#1768b8"/>
<circle cx="368.65" cy="136.55" r="1.22" fill="#2196d0"/>
<circle cx="372.55" cy="136.55" r="1.22" fill="#2196d0"/>
<circle cx="376.45" cy="136.55" r="1.22" fill="#2196d0"/>
<circle cx="380.35" cy="136.55" r="1.22" fill="#2196d0"/>
<circle cx="384.25" cy="136.55" r="1.5" fill="#1768b8"/>
<circle cx="388.15" cy="136.55" r="1.22" fill="#2196d0"/>
<circle cx="392.05" cy="136.55" r="1.22" fill="#2196d0"/>
<circle cx="395.95" cy="136.55" r="1.22" fill="#2196d0"/>
<circle cx="399.85" cy="136.55" r="1.75" fill="#062b63"/>
<circle cx="403.75" cy="136.55" r="1.22" fill="#2196d0"/>
<circle cx="411.55" cy="136.55" r="0.95" fill="#5cb8dc"/>
<circle cx="415.45" cy="136.55" r="1.22" fill="#2196d0"/>
<circle cx="434.95" cy="136.55" r="1.5" fill="#1768b8"/>
<circle cx="438.85" cy="136.55" r="1.5" fill="#1768b8"/>
<circle cx="442.75" cy="136.55" r="1.5" fill="#1768b8"/>
<circle cx="473.95" cy="136.55" r="1.22" fill="#2196d0"/>
<circle cx="341.35" cy="140.45" r="0.95" fill="#5cb8dc"/>
<circle cx="372.55" cy="140.45" r="1.65" fill="#0b4088"/>
<circle cx="376.45" cy="140.45" r="1.22" fill="#2196d0"/>
<circle cx="380.35" cy="140.45" r="1.5" fill="#1768b8"/>
<circle cx="384.25" cy="140.45" r="1.22" fill="#2196d0"/>
<circle cx="388.15" cy="140.45" r="1.65" fill="#0b4088"/>
<circle cx="392.05" cy="140.45" r="1.5" fill="#1768b8"/>
<circle cx="395.95" cy="140.45" r="1.22" fill="#2196d0"/>
<circle cx="399.85" cy="140.45" r="1.22" fill="#2196d0"/>
<circle cx="403.75" cy="140.45" r="1.75" fill="#062b63"/>
<circle cx="407.65" cy="140.45" r="1.65" fill="#0b4088"/>
<circle cx="411.55" cy="140.45" r="1.65" fill="#0b4088"/>
<circle cx="415.45" cy="140.45" r="1.65" fill="#0b4088"/>
<circle cx="434.95" cy="140.45" r="1.5" fill="#1768b8"/>
<circle cx="438.85" cy="140.45" r="1.5" fill="#1768b8"/>
<circle cx="442.75" cy="140.45" r="1.5" fill="#1768b8"/>
<circle cx="477.85" cy="140.45" r="1.22" fill="#2196d0"/>
<circle cx="501.25" cy="140.45" r="1.22" fill="#2196d0"/>
<circle cx="520.75" cy="140.45" r="1.5" fill="#1768b8"/>
<circle cx="528.55" cy="140.45" r="1.5" fill="#1768b8"/>
<circle cx="372.55" cy="144.35" r="1.22" fill="#2196d0"/>
<circle cx="380.35" cy="144.35" r="1.22" fill="#2196d0"/>
<circle cx="388.15" cy="144.35" r="1.5" fill="#1768b8"/>
<circle cx="392.05" cy="144.35" r="1.22" fill="#2196d0"/>
<circle cx="403.75" cy="144.35" r="1.65" fill="#0b4088"/>
<circle cx="407.65" cy="144.35" r="1.75" fill="#062b63"/>
<circle cx="411.55" cy="144.35" r="1.65" fill="#0b4088"/>
<circle cx="415.45" cy="144.35" r="1.65" fill="#0b4088"/>
<circle cx="434.95" cy="144.35" r="1.22" fill="#2196d0"/>
<circle cx="438.85" cy="144.35" r="1.22" fill="#2196d0"/>
<circle cx="477.85" cy="144.35" r="1.22" fill="#2196d0"/>
<circle cx="501.25" cy="144.35" r="1.5" fill="#1768b8"/>
<circle cx="520.75" cy="144.35" r="1.5" fill="#1768b8"/>
<circle cx="528.55" cy="144.35" r="1.5" fill="#1768b8"/>
<circle cx="372.55" cy="148.25" r="1.22" fill="#2196d0"/>
<circle cx="376.45" cy="148.25" r="0.95" fill="#5cb8dc"/>
<circle cx="380.35" cy="148.25" r="1.22" fill="#2196d0"/>
<circle cx="384.25" cy="148.25" r="0.95" fill="#5cb8dc"/>
<circle cx="388.15" cy="148.25" r="1.5" fill="#1768b8"/>
<circle cx="392.05" cy="148.25" r="1.5" fill="#1768b8"/>
<circle cx="399.85" cy="148.25" r="0.95" fill="#5cb8dc"/>
<circle cx="403.75" cy="148.25" r="1.65" fill="#0b4088"/>
<circle cx="407.65" cy="148.25" r="1.65" fill="#0b4088"/>
<circle cx="411.55" cy="148.25" r="1.75" fill="#062b63"/>
<circle cx="415.45" cy="148.25" r="1.65" fill="#0b4088"/>
<circle cx="434.95" cy="148.25" r="1.22" fill="#2196d0"/>
<circle cx="438.85" cy="148.25" r="1.22" fill="#2196d0"/>
<circle cx="477.85" cy="148.25" r="1.22" fill="#2196d0"/>
<circle cx="501.25" cy="148.25" r="1.5" fill="#1768b8"/>
<circle cx="505.15" cy="148.25" r="0.95" fill="#5cb8dc"/>
<circle cx="520.75" cy="148.25" r="1.5" fill="#1768b8"/>
<circle cx="528.55" cy="148.25" r="1.5" fill="#1768b8"/>
<circle cx="372.55" cy="152.15" r="1.22" fill="#2196d0"/>
<circle cx="380.35" cy="152.15" r="1.22" fill="#2196d0"/>
<circle cx="384.25" cy="152.15" r="1.22" fill="#2196d0"/>
<circle cx="388.15" cy="152.15" r="1.5" fill="#1768b8"/>
<circle cx="392.05" cy="152.15" r="1.5" fill="#1768b8"/>
<circle cx="399.85" cy="152.15" r="1.22" fill="#2196d0"/>
<circle cx="403.75" cy="152.15" r="1.65" fill="#0b4088"/>
<circle cx="407.65" cy="152.15" r="1.65" fill="#0b4088"/>
<circle cx="411.55" cy="152.15" r="1.65" fill="#0b4088"/>
<circle cx="415.45" cy="152.15" r="1.75" fill="#062b63"/>
<circle cx="434.95" cy="152.15" r="1.22" fill="#2196d0"/>
<circle cx="438.85" cy="152.15" r="1.22" fill="#2196d0"/>
<circle cx="477.85" cy="152.15" r="1.22" fill="#2196d0"/>
<circle cx="501.25" cy="152.15" r="1.22" fill="#2196d0"/>
<circle cx="520.75" cy="152.15" r="1.5" fill="#1768b8"/>
<circle cx="528.55" cy="152.15" r="1.5" fill="#1768b8"/>
<circle cx="349.15" cy="156.05" r="1.22" fill="#2196d0"/>
<circle cx="353.05" cy="156.05" r="0.95" fill="#5cb8dc"/>
<circle cx="419.35" cy="156.05" r="1.75" fill="#062b63"/>
<circle cx="423.25" cy="156.05" r="1.5" fill="#1768b8"/>
<circle cx="427.15" cy="156.05" r="1.5" fill="#1768b8"/>
<circle cx="446.65" cy="156.05" r="1.22" fill="#2196d0"/>
<circle cx="450.55" cy="156.05" r="1.65" fill="#0b4088"/>
<circle cx="454.45" cy="156.05" r="1.5" fill="#1768b8"/>
<circle cx="458.35" cy="156.05" r="1.5" fill="#1768b8"/>
<circle cx="462.25" cy="156.05" r="1.22" fill="#2196d0"/>
<circle cx="466.15" cy="156.05" r="1.5" fill="#1768b8"/>
<circle cx="470.05" cy="156.05" r="1.5" fill="#1768b8"/>
<circle cx="473.95" cy="156.05" r="1.22" fill="#2196d0"/>
<circle cx="341.35" cy="159.95" r="1.22" fill="#2196d0"/>
<circle cx="345.25" cy="159.95" r="1.22" fill="#2196d0"/>
<circle cx="349.15" cy="159.95" r="1.5" fill="#1768b8"/>
<circle cx="353.05" cy="159.95" r="1.5" fill="#1768b8"/>
<circle cx="356.95" cy="159.95" r="1.22" fill="#2196d0"/>
<circle cx="360.85" cy="159.95" r="1.5" fill="#1768b8"/>
<circle cx="368.65" cy="159.95" r="1.22" fill="#2196d0"/>
<circle cx="419.35" cy="159.95" r="1.5" fill="#1768b8"/>
<circle cx="423.25" cy="159.95" r="1.75" fill="#062b63"/>
<circle cx="427.15" cy="159.95" r="1.22" fill="#2196d0"/>
<circle cx="446.65" cy="159.95" r="1.22" fill="#2196d0"/>
<circle cx="450.55" cy="159.95" r="1.65" fill="#0b4088"/>
<circle cx="454.45" cy="159.95" r="1.5" fill="#1768b8"/>
<circle cx="458.35" cy="159.95" r="1.5" fill="#1768b8"/>
<circle cx="462.25" cy="159.95" r="1.22" fill="#2196d0"/>
<circle cx="466.15" cy="159.95" r="1.5" fill="#1768b8"/>
<circle cx="470.05" cy="159.95" r="1.5" fill="#1768b8"/>
<circle cx="473.95" cy="159.95" r="1.22" fill="#2196d0"/>
<circle cx="419.35" cy="163.85" r="1.5" fill="#1768b8"/>
<circle cx="423.25" cy="163.85" r="1.22" fill="#2196d0"/>
<circle cx="427.15" cy="163.85" r="1.75" fill="#062b63"/>
<circle cx="431.05" cy="163.85" r="1.22" fill="#2196d0"/>
<circle cx="450.55" cy="163.85" r="1.22" fill="#2196d0"/>
<circle cx="470.05" cy="163.85" r="1.22" fill="#2196d0"/>
<circle cx="427.15" cy="167.75" r="1.22" fill="#2196d0"/>
<circle cx="431.05" cy="167.75" r="1.75" fill="#062b63"/>
<circle cx="341.35" cy="171.65" r="1.22" fill="#2196d0"/>
<circle cx="345.25" cy="171.65" r="1.22" fill="#2196d0"/>
<circle cx="349.15" cy="171.65" r="1.22" fill="#2196d0"/>
<circle cx="353.05" cy="171.65" r="1.22" fill="#2196d0"/>
<circle cx="356.95" cy="171.65" r="1.22" fill="#2196d0"/>
<circle cx="360.85" cy="171.65" r="1.22" fill="#2196d0"/>
<circle cx="364.75" cy="171.65" r="1.22" fill="#2196d0"/>
<circle cx="372.55" cy="171.65" r="1.65" fill="#0b4088"/>
<circle cx="376.45" cy="171.65" r="1.5" fill="#1768b8"/>
<circle cx="380.35" cy="171.65" r="1.65" fill="#0b4088"/>
<circle cx="384.25" cy="171.65" r="1.65" fill="#0b4088"/>
<circle cx="388.15" cy="171.65" r="1.65" fill="#0b4088"/>
<circle cx="392.05" cy="171.65" r="1.65" fill="#0b4088"/>
<circle cx="395.95" cy="171.65" r="1.22" fill="#2196d0"/>
<circle cx="399.85" cy="171.65" r="1.5" fill="#1768b8"/>
<circle cx="403.75" cy="171.65" r="1.5" fill="#1768b8"/>
<circle cx="407.65" cy="171.65" r="1.22" fill="#2196d0"/>
<circle cx="411.55" cy="171.65" r="1.22" fill="#2196d0"/>
<circle cx="415.45" cy="171.65" r="1.22" fill="#2196d0"/>
<circle cx="434.95" cy="171.65" r="1.75" fill="#062b63"/>
<circle cx="438.85" cy="171.65" r="1.75" fill="#062b63"/>
<circle cx="442.75" cy="171.65" r="1.5" fill="#1768b8"/>
<circle cx="341.35" cy="175.55" r="1.22" fill="#2196d0"/>
<circle cx="345.25" cy="175.55" r="1.22" fill="#2196d0"/>
<circle cx="349.15" cy="175.55" r="1.22" fill="#2196d0"/>
<circle cx="353.05" cy="175.55" r="1.22" fill="#2196d0"/>
<circle cx="356.95" cy="175.55" r="1.22" fill="#2196d0"/>
<circle cx="360.85" cy="175.55" r="1.22" fill="#2196d0"/>
<circle cx="364.75" cy="175.55" r="1.22" fill="#2196d0"/>
<circle cx="372.55" cy="175.55" r="1.65" fill="#0b4088"/>
<circle cx="376.45" cy="175.55" r="1.5" fill="#1768b8"/>
<circle cx="380.35" cy="175.55" r="1.65" fill="#0b4088"/>
<circle cx="384.25" cy="175.55" r="1.5" fill="#1768b8"/>
<circle cx="388.15" cy="175.55" r="1.65" fill="#0b4088"/>
<circle cx="392.05" cy="175.55" r="1.65" fill="#0b4088"/>
<circle cx="395.95" cy="175.55" r="1.22" fill="#2196d0"/>
<circle cx="399.85" cy="175.55" r="1.5" fill="#1768b8"/>
<circle cx="403.75" cy="175.55" r="1.5" fill="#1768b8"/>
<circle cx="407.65" cy="175.55" r="1.22" fill="#2196d0"/>
<circle cx="411.55" cy="175.55" r="1.22" fill="#2196d0"/>
<circle cx="415.45" cy="175.55" r="1.22" fill="#2196d0"/>
<circle cx="434.95" cy="175.55" r="1.75" fill="#062b63"/>
<circle cx="438.85" cy="175.55" r="1.75" fill="#062b63"/>
<circle cx="442.75" cy="175.55" r="1.5" fill="#1768b8"/>
<circle cx="341.35" cy="179.45" r="1.22" fill="#2196d0"/>
<circle cx="345.25" cy="179.45" r="1.22" fill="#2196d0"/>
<circle cx="349.15" cy="179.45" r="1.22" fill="#2196d0"/>
<circle cx="353.05" cy="179.45" r="1.22" fill="#2196d0"/>
<circle cx="356.95" cy="179.45" r="1.22" fill="#2196d0"/>
<circle cx="360.85" cy="179.45" r="1.22" fill="#2196d0"/>
<circle cx="364.75" cy="179.45" r="1.22" fill="#2196d0"/>
<circle cx="368.65" cy="179.45" r="1.22" fill="#2196d0"/>
<circle cx="372.55" cy="179.45" r="1.5" fill="#1768b8"/>
<circle cx="376.45" cy="179.45" r="1.5" fill="#1768b8"/>
<circle cx="380.35" cy="179.45" r="1.65" fill="#0b4088"/>
<circle cx="384.25" cy="179.45" r="1.5" fill="#1768b8"/>
<circle cx="388.15" cy="179.45" r="1.5" fill="#1768b8"/>
<circle cx="392.05" cy="179.45" r="1.5" fill="#1768b8"/>
<circle cx="395.95" cy="179.45" r="1.5" fill="#1768b8"/>
<circle cx="399.85" cy="179.45" r="1.5" fill="#1768b8"/>
<circle cx="403.75" cy="179.45" r="1.5" fill="#1768b8"/>
<circle cx="434.95" cy="179.45" r="1.5" fill="#1768b8"/>
<circle cx="438.85" cy="179.45" r="1.5" fill="#1768b8"/>
<circle cx="442.75" cy="179.45" r="1.75" fill="#062b63"/>
<circle cx="349.15" cy="183.35" r="1.22" fill="#2196d0"/>
<circle cx="353.05" cy="183.35" r="0.95" fill="#5cb8dc"/>
<circle cx="356.95" cy="183.35" r="0.95" fill="#5cb8dc"/>
<circle cx="360.85" cy="183.35" r="0.95" fill="#5cb8dc"/>
<circle cx="419.35" cy="183.35" r="1.22" fill="#2196d0"/>
<circle cx="423.25" cy="183.35" r="1.22" fill="#2196d0"/>
<circle cx="446.65" cy="183.35" r="1.75" fill="#062b63"/>
<circle cx="450.55" cy="183.35" r="1.22" fill="#2196d0"/>
<circle cx="454.45" cy="183.35" r="1.22" fill="#2196d0"/>
<circle cx="458.35" cy="183.35" r="1.22" fill="#2196d0"/>
<circle cx="462.25" cy="183.35" r="1.22" fill="#2196d0"/>
<circle cx="466.15" cy="183.35" r="1.5" fill="#1768b8"/>
<circle cx="470.05" cy="183.35" r="1.5" fill="#1768b8"/>
<circle cx="473.95" cy="183.35" r="1.22" fill="#2196d0"/>
<circle cx="341.35" cy="187.25" r="1.5" fill="#1768b8"/>
<circle cx="345.25" cy="187.25" r="1.5" fill="#1768b8"/>
<circle cx="349.15" cy="187.25" r="1.5" fill="#1768b8"/>
<circle cx="353.05" cy="187.25" r="1.5" fill="#1768b8"/>
<circle cx="356.95" cy="187.25" r="1.5" fill="#1768b8"/>
<circle cx="360.85" cy="187.25" r="1.5" fill="#1768b8"/>
<circle cx="364.75" cy="187.25" r="1.22" fill="#2196d0"/>
<circle cx="368.65" cy="187.25" r="1.5" fill="#1768b8"/>
<circle cx="419.35" cy="187.25" r="1.65" fill="#0b4088"/>
<circle cx="423.25" cy="187.25" r="1.65" fill="#0b4088"/>
<circle cx="427.15" cy="187.25" r="1.22" fill="#2196d0"/>
<circle cx="446.65" cy="187.25" r="1.22" fill="#2196d0"/>
<circle cx="450.55" cy="187.25" r="1.75" fill="#062b63"/>
<circle cx="454.45" cy="187.25" r="1.75" fill="#062b63"/>
<circle cx="458.35" cy="187.25" r="1.65" fill="#0b4088"/>
<circle cx="462.25" cy="187.25" r="1.65" fill="#0b4088"/>
<circle cx="466.15" cy="187.25" r="1.75" fill="#062b63"/>
<circle cx="470.05" cy="187.25" r="1.65" fill="#0b4088"/>
<circle cx="473.95" cy="187.25" r="1.5" fill="#1768b8"/>
<circle cx="341.35" cy="191.15" r="1.5" fill="#1768b8"/>
<circle cx="345.25" cy="191.15" r="1.5" fill="#1768b8"/>
<circle cx="349.15" cy="191.15" r="1.5" fill="#1768b8"/>
<circle cx="353.05" cy="191.15" r="1.5" fill="#1768b8"/>
<circle cx="356.95" cy="191.15" r="1.5" fill="#1768b8"/>
<circle cx="360.85" cy="191.15" r="1.5" fill="#1768b8"/>
<circle cx="364.75" cy="191.15" r="1.22" fill="#2196d0"/>
<circle cx="368.65" cy="191.15" r="1.5" fill="#1768b8"/>
<circle cx="395.95" cy="191.15" r="1.22" fill="#2196d0"/>
<circle cx="419.35" cy="191.15" r="1.5" fill="#1768b8"/>
<circle cx="423.25" cy="191.15" r="1.5" fill="#1768b8"/>
<circle cx="446.65" cy="191.15" r="1.22" fill="#2196d0"/>
<circle cx="450.55" cy="191.15" r="1.75" fill="#062b63"/>
<circle cx="454.45" cy="191.15" r="1.75" fill="#062b63"/>
<circle cx="458.35" cy="191.15" r="1.75" fill="#062b63"/>
<circle cx="462.25" cy="191.15" r="1.65" fill="#0b4088"/>
<circle cx="466.15" cy="191.15" r="1.75" fill="#062b63"/>
<circle cx="470.05" cy="191.15" r="1.65" fill="#0b4088"/>
<circle cx="473.95" cy="191.15" r="1.5" fill="#1768b8"/>
<circle cx="341.35" cy="195.05" r="1.5" fill="#1768b8"/>
<circle cx="345.25" cy="195.05" r="1.5" fill="#1768b8"/>
<circle cx="349.15" cy="195.05" r="1.22" fill="#2196d0"/>
<circle cx="353.05" cy="195.05" r="1.5" fill="#1768b8"/>
<circle cx="356.95" cy="195.05" r="1.5" fill="#1768b8"/>
<circle cx="360.85" cy="195.05" r="1.5" fill="#1768b8"/>
<circle cx="364.75" cy="195.05" r="1.22" fill="#2196d0"/>
<circle cx="368.65" cy="195.05" r="1.5" fill="#1768b8"/>
<circle cx="419.35" cy="195.05" r="1.5" fill="#1768b8"/>
<circle cx="423.25" cy="195.05" r="1.5" fill="#1768b8"/>
<circle cx="446.65" cy="195.05" r="1.22" fill="#2196d0"/>
<circle cx="450.55" cy="195.05" r="1.65" fill="#0b4088"/>
<circle cx="454.45" cy="195.05" r="1.75" fill="#062b63"/>
<circle cx="458.35" cy="195.05" r="1.75" fill="#062b63"/>
<circle cx="462.25" cy="195.05" r="1.65" fill="#0b4088"/>
<circle cx="466.15" cy="195.05" r="1.75" fill="#062b63"/>
<circle cx="470.05" cy="195.05" r="1.65" fill="#0b4088"/>
<circle cx="473.95" cy="195.05" r="1.5" fill="#1768b8"/>
<circle cx="481.75" cy="195.05" r="1.28" fill="#f27254"/>
<circle cx="489.55" cy="195.05" r="1.5" fill="#e4383a"/>
<circle cx="341.35" cy="198.95" r="1.5" fill="#1768b8"/>
<circle cx="345.25" cy="198.95" r="1.5" fill="#1768b8"/>
<circle cx="349.15" cy="198.95" r="1.5" fill="#1768b8"/>
<circle cx="353.05" cy="198.95" r="1.5" fill="#1768b8"/>
<circle cx="356.95" cy="198.95" r="1.5" fill="#1768b8"/>
<circle cx="360.85" cy="198.95" r="1.5" fill="#1768b8"/>
<circle cx="364.75" cy="198.95" r="1.22" fill="#2196d0"/>
<circle cx="368.65" cy="198.95" r="1.5" fill="#1768b8"/>
<circle cx="384.25" cy="198.95" r="1.22" fill="#2196d0"/>
<circle cx="419.35" cy="198.95" r="1.22" fill="#2196d0"/>
<circle cx="423.25" cy="198.95" r="1.22" fill="#2196d0"/>
<circle cx="446.65" cy="198.95" r="1.22" fill="#2196d0"/>
<circle cx="450.55" cy="198.95" r="1.65" fill="#0b4088"/>
<circle cx="454.45" cy="198.95" r="1.65" fill="#0b4088"/>
<circle cx="458.35" cy="198.95" r="1.65" fill="#0b4088"/>
<circle cx="462.25" cy="198.95" r="1.75" fill="#062b63"/>
<circle cx="466.15" cy="198.95" r="1.65" fill="#0b4088"/>
<circle cx="470.05" cy="198.95" r="1.65" fill="#0b4088"/>
<circle cx="473.95" cy="198.95" r="1.5" fill="#1768b8"/>
<circle cx="481.75" cy="198.95" r="1.5" fill="#e4383a"/>
<circle cx="485.65" cy="198.95" r="1.28" fill="#f27254"/>
<circle cx="489.55" cy="198.95" r="1.5" fill="#e4383a"/>
<circle cx="341.35" cy="202.85" r="1.5" fill="#1768b8"/>
<circle cx="345.25" cy="202.85" r="1.5" fill="#1768b8"/>
<circle cx="349.15" cy="202.85" r="1.5" fill="#1768b8"/>
<circle cx="353.05" cy="202.85" r="1.5" fill="#1768b8"/>
<circle cx="356.95" cy="202.85" r="1.5" fill="#1768b8"/>
<circle cx="360.85" cy="202.85" r="1.5" fill="#1768b8"/>
<circle cx="364.75" cy="202.85" r="1.22" fill="#2196d0"/>
<circle cx="368.65" cy="202.85" r="1.5" fill="#1768b8"/>
<circle cx="419.35" cy="202.85" r="1.5" fill="#1768b8"/>
<circle cx="423.25" cy="202.85" r="1.5" fill="#1768b8"/>
<circle cx="446.65" cy="202.85" r="1.5" fill="#1768b8"/>
<circle cx="450.55" cy="202.85" r="1.75" fill="#062b63"/>
<circle cx="454.45" cy="202.85" r="1.75" fill="#062b63"/>
<circle cx="458.35" cy="202.85" r="1.75" fill="#062b63"/>
<circle cx="462.25" cy="202.85" r="1.65" fill="#0b4088"/>
<circle cx="466.15" cy="202.85" r="1.75" fill="#062b63"/>
<circle cx="470.05" cy="202.85" r="1.65" fill="#0b4088"/>
<circle cx="473.95" cy="202.85" r="1.5" fill="#1768b8"/>
<circle cx="489.55" cy="202.85" r="1.28" fill="#f27254"/>
<circle cx="341.35" cy="206.75" r="1.5" fill="#1768b8"/>
<circle cx="345.25" cy="206.75" r="1.5" fill="#1768b8"/>
<circle cx="349.15" cy="206.75" r="1.22" fill="#2196d0"/>
<circle cx="353.05" cy="206.75" r="1.5" fill="#1768b8"/>
<circle cx="356.95" cy="206.75" r="1.5" fill="#1768b8"/>
<circle cx="360.85" cy="206.75" r="1.5" fill="#1768b8"/>
<circle cx="364.75" cy="206.75" r="1.22" fill="#2196d0"/>
<circle cx="368.65" cy="206.75" r="1.5" fill="#1768b8"/>
<circle cx="419.35" cy="206.75" r="1.5" fill="#1768b8"/>
<circle cx="423.25" cy="206.75" r="1.5" fill="#1768b8"/>
<circle cx="427.15" cy="206.75" r="1.22" fill="#2196d0"/>
<circle cx="446.65" cy="206.75" r="1.5" fill="#1768b8"/>
<circle cx="450.55" cy="206.75" r="1.65" fill="#0b4088"/>
<circle cx="454.45" cy="206.75" r="1.65" fill="#0b4088"/>
<circle cx="458.35" cy="206.75" r="1.65" fill="#0b4088"/>
<circle cx="462.25" cy="206.75" r="1.65" fill="#0b4088"/>
<circle cx="466.15" cy="206.75" r="1.65" fill="#0b4088"/>
<circle cx="470.05" cy="206.75" r="1.75" fill="#062b63"/>
<circle cx="473.95" cy="206.75" r="1.5" fill="#1768b8"/>
<circle cx="341.35" cy="210.65" r="1.5" fill="#1768b8"/>
<circle cx="345.25" cy="210.65" r="1.5" fill="#1768b8"/>
<circle cx="349.15" cy="210.65" r="1.5" fill="#1768b8"/>
<circle cx="353.05" cy="210.65" r="1.5" fill="#1768b8"/>
<circle cx="356.95" cy="210.65" r="1.5" fill="#1768b8"/>
<circle cx="360.85" cy="210.65" r="1.5" fill="#1768b8"/>
<circle cx="364.75" cy="210.65" r="1.5" fill="#1768b8"/>
<circle cx="368.65" cy="210.65" r="1.5" fill="#1768b8"/>
<circle cx="376.45" cy="210.65" r="1.22" fill="#2196d0"/>
<circle cx="399.85" cy="210.65" r="1.22" fill="#2196d0"/>
<circle cx="419.35" cy="210.65" r="1.22" fill="#2196d0"/>
<circle cx="423.25" cy="210.65" r="1.22" fill="#2196d0"/>
<circle cx="446.65" cy="210.65" r="1.22" fill="#2196d0"/>
<circle cx="450.55" cy="210.65" r="1.5" fill="#1768b8"/>
<circle cx="454.45" cy="210.65" r="1.5" fill="#1768b8"/>
<circle cx="458.35" cy="210.65" r="1.5" fill="#1768b8"/>
<circle cx="462.25" cy="210.65" r="1.5" fill="#1768b8"/>
<circle cx="466.15" cy="210.65" r="1.5" fill="#1768b8"/>
<circle cx="470.05" cy="210.65" r="1.5" fill="#1768b8"/>
<circle cx="473.95" cy="210.65" r="1.75" fill="#062b63"/>
<circle cx="403.75" cy="214.55" r="1.22" fill="#2196d0"/>
<circle cx="407.65" cy="214.55" r="1.22" fill="#2196d0"/>
<circle cx="411.55" cy="214.55" r="1.22" fill="#2196d0"/>
<circle cx="415.45" cy="214.55" r="1.22" fill="#2196d0"/>
<circle cx="477.85" cy="214.55" r="1.75" fill="#062b63"/>
<circle cx="485.65" cy="214.55" r="1.22" fill="#2196d0"/>
<circle cx="489.55" cy="214.55" r="1.22" fill="#2196d0"/>
<circle cx="497.35" cy="214.55" r="1.22" fill="#2196d0"/>
<circle cx="501.25" cy="214.55" r="1.5" fill="#1768b8"/>
<circle cx="520.75" cy="214.55" r="1.22" fill="#2196d0"/>
<circle cx="528.55" cy="214.55" r="1.22" fill="#2196d0"/>
<circle cx="360.85" cy="218.45" r="1.5" fill="#e4383a"/>
<circle cx="458.35" cy="218.45" r="1.28" fill="#f27254"/>
<circle cx="462.25" cy="218.45" r="1.5" fill="#e4383a"/>
<circle cx="481.75" cy="218.45" r="1.75" fill="#062b63"/>
<circle cx="485.65" cy="218.45" r="1.22" fill="#2196d0"/>
<circle cx="489.55" cy="218.45" r="1.22" fill="#2196d0"/>
<circle cx="509.05" cy="218.45" r="1.22" fill="#2196d0"/>
<circle cx="512.95" cy="218.45" r="1.22" fill="#2196d0"/>
<circle cx="516.85" cy="218.45" r="1.22" fill="#2196d0"/>
<circle cx="462.25" cy="222.35" r="1.28" fill="#f27254"/>
<circle cx="477.85" cy="222.35" r="1.22" fill="#2196d0"/>
<circle cx="481.75" cy="222.35" r="1.22" fill="#2196d0"/>
<circle cx="485.65" cy="222.35" r="1.75" fill="#062b63"/>
<circle cx="489.55" cy="222.35" r="1.22" fill="#2196d0"/>
<circle cx="493.45" cy="222.35" r="1.22" fill="#2196d0"/>
<circle cx="497.35" cy="222.35" r="1.22" fill="#2196d0"/>
<circle cx="501.25" cy="222.35" r="1.22" fill="#2196d0"/>
<circle cx="505.15" cy="222.35" r="1.22" fill="#2196d0"/>
<circle cx="509.05" cy="222.35" r="1.5" fill="#1768b8"/>
<circle cx="512.95" cy="222.35" r="1.5" fill="#1768b8"/>
<circle cx="516.85" cy="222.35" r="1.5" fill="#1768b8"/>
<circle cx="524.65" cy="222.35" r="1.22" fill="#2196d0"/>
<circle cx="528.55" cy="222.35" r="1.22" fill="#2196d0"/>
<circle cx="360.85" cy="226.25" r="1.5" fill="#e4383a"/>
<circle cx="458.35" cy="226.25" r="1.5" fill="#e4383a"/>
<circle cx="462.25" cy="226.25" r="1.5" fill="#e4383a"/>
<circle cx="466.15" cy="226.25" r="1.28" fill="#f27254"/>
<circle cx="477.85" cy="226.25" r="1.22" fill="#2196d0"/>
<circle cx="481.75" cy="226.25" r="1.22" fill="#2196d0"/>
<circle cx="485.65" cy="226.25" r="1.5" fill="#1768b8"/>
<circle cx="489.55" cy="226.25" r="1.75" fill="#062b63"/>
<circle cx="493.45" cy="226.25" r="1.5" fill="#1768b8"/>
<circle cx="497.35" cy="226.25" r="1.5" fill="#1768b8"/>
<circle cx="501.25" cy="226.25" r="1.5" fill="#1768b8"/>
<circle cx="505.15" cy="226.25" r="1.5" fill="#1768b8"/>
<circle cx="509.05" cy="226.25" r="1.5" fill="#1768b8"/>
<circle cx="512.95" cy="226.25" r="1.5" fill="#1768b8"/>
<circle cx="516.85" cy="226.25" r="1.22" fill="#2196d0"/>
<circle cx="520.75" cy="226.25" r="1.22" fill="#2196d0"/>
<circle cx="524.65" cy="226.25" r="1.22" fill="#2196d0"/>
<circle cx="528.55" cy="226.25" r="1.22" fill="#2196d0"/>
<circle cx="380.35" cy="230.15" r="1.22" fill="#2196d0"/>
<circle cx="388.15" cy="230.15" r="1.22" fill="#2196d0"/>
<circle cx="392.05" cy="230.15" r="1.22" fill="#2196d0"/>
<circle cx="395.95" cy="230.15" r="1.22" fill="#2196d0"/>
<circle cx="485.65" cy="230.15" r="1.22" fill="#2196d0"/>
<circle cx="489.55" cy="230.15" r="1.5" fill="#1768b8"/>
<circle cx="493.45" cy="230.15" r="1.75" fill="#062b63"/>
<circle cx="497.35" cy="230.15" r="1.5" fill="#1768b8"/>
<circle cx="501.25" cy="230.15" r="1.22" fill="#2196d0"/>
<circle cx="505.15" cy="230.15" r="1.5" fill="#1768b8"/>
<circle cx="509.05" cy="230.15" r="1.5" fill="#1768b8"/>
<circle cx="512.95" cy="230.15" r="1.5" fill="#1768b8"/>
<circle cx="516.85" cy="230.15" r="1.22" fill="#2196d0"/>
<circle cx="520.75" cy="230.15" r="1.22" fill="#2196d0"/>
<circle cx="524.65" cy="230.15" r="1.22" fill="#2196d0"/>
<circle cx="528.55" cy="230.15" r="1.22" fill="#2196d0"/>
<circle cx="477.85" cy="234.05" r="1.22" fill="#2196d0"/>
<circle cx="485.65" cy="234.05" r="1.22" fill="#2196d0"/>
<circle cx="489.55" cy="234.05" r="1.5" fill="#1768b8"/>
<circle cx="493.45" cy="234.05" r="1.5" fill="#1768b8"/>
<circle cx="497.35" cy="234.05" r="1.75" fill="#062b63"/>
<circle cx="501.25" cy="234.05" r="1.5" fill="#1768b8"/>
<circle cx="505.15" cy="234.05" r="1.5" fill="#1768b8"/>
<circle cx="509.05" cy="234.05" r="1.5" fill="#1768b8"/>
<circle cx="512.95" cy="234.05" r="1.5" fill="#1768b8"/>
<circle cx="516.85" cy="234.05" r="1.5" fill="#1768b8"/>
<circle cx="524.65" cy="234.05" r="1.22" fill="#2196d0"/>
<circle cx="528.55" cy="234.05" r="1.22" fill="#2196d0"/>
<circle cx="403.75" cy="237.95" r="1.22" fill="#2196d0"/>
<circle cx="407.65" cy="237.95" r="1.5" fill="#1768b8"/>
<circle cx="411.55" cy="237.95" r="1.5" fill="#1768b8"/>
<circle cx="415.45" cy="237.95" r="1.22" fill="#2196d0"/>
<circle cx="477.85" cy="237.95" r="1.22" fill="#2196d0"/>
<circle cx="485.65" cy="237.95" r="1.22" fill="#2196d0"/>
<circle cx="489.55" cy="237.95" r="1.5" fill="#1768b8"/>
<circle cx="493.45" cy="237.95" r="1.22" fill="#2196d0"/>
<circle cx="497.35" cy="237.95" r="1.5" fill="#1768b8"/>
<circle cx="501.25" cy="237.95" r="1.75" fill="#062b63"/>
<circle cx="505.15" cy="237.95" r="1.5" fill="#1768b8"/>
<circle cx="509.05" cy="237.95" r="1.5" fill="#1768b8"/>
<circle cx="512.95" cy="237.95" r="1.5" fill="#1768b8"/>
<circle cx="516.85" cy="237.95" r="1.5" fill="#1768b8"/>
<circle cx="520.75" cy="237.95" r="1.5" fill="#1768b8"/>
<circle cx="524.65" cy="237.95" r="1.22" fill="#2196d0"/>
<circle cx="528.55" cy="237.95" r="1.5" fill="#1768b8"/>
<circle cx="411.55" cy="241.85" r="0.95" fill="#5cb8dc"/>
<circle cx="485.65" cy="241.85" r="1.22" fill="#2196d0"/>
<circle cx="489.55" cy="241.85" r="1.5" fill="#1768b8"/>
<circle cx="493.45" cy="241.85" r="1.5" fill="#1768b8"/>
<circle cx="497.35" cy="241.85" r="1.5" fill="#1768b8"/>
<circle cx="501.25" cy="241.85" r="1.5" fill="#1768b8"/>
<circle cx="505.15" cy="241.85" r="1.75" fill="#062b63"/>
<circle cx="509.05" cy="241.85" r="1.5" fill="#1768b8"/>
<circle cx="512.95" cy="241.85" r="1.5" fill="#1768b8"/>
<circle cx="516.85" cy="241.85" r="1.5" fill="#1768b8"/>
<circle cx="520.75" cy="241.85" r="1.22" fill="#2196d0"/>
<circle cx="524.65" cy="241.85" r="1.5" fill="#1768b8"/>
<circle cx="528.55" cy="241.85" r="1.22" fill="#2196d0"/>
<circle cx="481.75" cy="245.75" r="1.22" fill="#2196d0"/>
<circle cx="485.65" cy="245.75" r="1.22" fill="#2196d0"/>
<circle cx="489.55" cy="245.75" r="1.5" fill="#1768b8"/>
<circle cx="493.45" cy="245.75" r="1.5" fill="#1768b8"/>
<circle cx="497.35" cy="245.75" r="1.5" fill="#1768b8"/>
<circle cx="501.25" cy="245.75" r="1.22" fill="#2196d0"/>
<circle cx="505.15" cy="245.75" r="1.5" fill="#1768b8"/>
<circle cx="509.05" cy="245.75" r="1.75" fill="#062b63"/>
<circle cx="512.95" cy="245.75" r="1.65" fill="#0b4088"/>
<circle cx="516.85" cy="245.75" r="1.65" fill="#0b4088"/>
<circle cx="520.75" cy="245.75" r="1.22" fill="#2196d0"/>
<circle cx="524.65" cy="245.75" r="1.5" fill="#1768b8"/>
<circle cx="528.55" cy="245.75" r="1.22" fill="#2196d0"/>
<circle cx="481.75" cy="249.65" r="1.22" fill="#2196d0"/>
<circle cx="485.65" cy="249.65" r="1.5" fill="#1768b8"/>
<circle cx="489.55" cy="249.65" r="1.5" fill="#1768b8"/>
<circle cx="493.45" cy="249.65" r="1.5" fill="#1768b8"/>
<circle cx="497.35" cy="249.65" r="1.22" fill="#2196d0"/>
<circle cx="501.25" cy="249.65" r="1.5" fill="#1768b8"/>
<circle cx="505.15" cy="249.65" r="1.5" fill="#1768b8"/>
<circle cx="509.05" cy="249.65" r="1.65" fill="#0b4088"/>
<circle cx="512.95" cy="249.65" r="1.75" fill="#062b63"/>
<circle cx="516.85" cy="249.65" r="1.65" fill="#0b4088"/>
<circle cx="520.75" cy="249.65" r="1.22" fill="#2196d0"/>
<circle cx="524.65" cy="249.65" r="1.22" fill="#2196d0"/>
<circle cx="528.55" cy="249.65" r="1.22" fill="#2196d0"/>
<circle cx="481.75" cy="253.55" r="1.22" fill="#2196d0"/>
<circle cx="485.65" cy="253.55" r="1.5" fill="#1768b8"/>
<circle cx="489.55" cy="253.55" r="1.5" fill="#1768b8"/>
<circle cx="493.45" cy="253.55" r="1.5" fill="#1768b8"/>
<circle cx="497.35" cy="253.55" r="1.5" fill="#1768b8"/>
<circle cx="501.25" cy="253.55" r="1.5" fill="#1768b8"/>
<circle cx="505.15" cy="253.55" r="1.5" fill="#1768b8"/>
<circle cx="509.05" cy="253.55" r="1.65" fill="#0b4088"/>
<circle cx="512.95" cy="253.55" r="1.65" fill="#0b4088"/>
<circle cx="516.85" cy="253.55" r="1.75" fill="#062b63"/>
<circle cx="520.75" cy="253.55" r="1.5" fill="#1768b8"/>
<circle cx="524.65" cy="253.55" r="1.22" fill="#2196d0"/>
<circle cx="528.55" cy="253.55" r="1.22" fill="#2196d0"/>
<circle cx="392.05" cy="257.45" r="0.95" fill="#5cb8dc"/>
<circle cx="403.75" cy="257.45" r="1.5" fill="#1768b8"/>
<circle cx="407.65" cy="257.45" r="1.5" fill="#1768b8"/>
<circle cx="411.55" cy="257.45" r="1.5" fill="#1768b8"/>
<circle cx="415.45" cy="257.45" r="1.5" fill="#1768b8"/>
<circle cx="477.85" cy="257.45" r="1.22" fill="#2196d0"/>
<circle cx="489.55" cy="257.45" r="1.22" fill="#2196d0"/>
<circle cx="493.45" cy="257.45" r="1.22" fill="#2196d0"/>
<circle cx="501.25" cy="257.45" r="1.5" fill="#1768b8"/>
<circle cx="505.15" cy="257.45" r="1.5" fill="#1768b8"/>
<circle cx="509.05" cy="257.45" r="1.22" fill="#2196d0"/>
<circle cx="512.95" cy="257.45" r="1.5" fill="#1768b8"/>
<circle cx="516.85" cy="257.45" r="1.22" fill="#2196d0"/>
<circle cx="520.75" cy="257.45" r="1.75" fill="#062b63"/>
<circle cx="524.65" cy="257.45" r="1.5" fill="#1768b8"/>
<circle cx="528.55" cy="257.45" r="1.22" fill="#2196d0"/>
<circle cx="485.65" cy="261.35" r="1.22" fill="#2196d0"/>
<circle cx="489.55" cy="261.35" r="1.5" fill="#1768b8"/>
<circle cx="493.45" cy="261.35" r="1.22" fill="#2196d0"/>
<circle cx="497.35" cy="261.35" r="1.5" fill="#1768b8"/>
<circle cx="501.25" cy="261.35" r="1.22" fill="#2196d0"/>
<circle cx="505.15" cy="261.35" r="1.5" fill="#1768b8"/>
<circle cx="509.05" cy="261.35" r="1.5" fill="#1768b8"/>
<circle cx="512.95" cy="261.35" r="1.5" fill="#1768b8"/>
<circle cx="516.85" cy="261.35" r="1.5" fill="#1768b8"/>
<circle cx="520.75" cy="261.35" r="1.5" fill="#1768b8"/>
<circle cx="524.65" cy="261.35" r="1.75" fill="#062b63"/>
<circle cx="528.55" cy="261.35" r="1.5" fill="#1768b8"/>
<circle cx="388.15" cy="265.25" r="1.22" fill="#2196d0"/>
<circle cx="392.05" cy="265.25" r="1.22" fill="#2196d0"/>
<circle cx="403.75" cy="265.25" r="1.5" fill="#1768b8"/>
<circle cx="407.65" cy="265.25" r="1.5" fill="#1768b8"/>
<circle cx="411.55" cy="265.25" r="1.5" fill="#1768b8"/>
<circle cx="415.45" cy="265.25" r="1.5" fill="#1768b8"/>
<circle cx="485.65" cy="265.25" r="1.22" fill="#2196d0"/>
<circle cx="489.55" cy="265.25" r="1.22" fill="#2196d0"/>
<circle cx="493.45" cy="265.25" r="1.22" fill="#2196d0"/>
<circle cx="497.35" cy="265.25" r="1.22" fill="#2196d0"/>
<circle cx="501.25" cy="265.25" r="1.5" fill="#1768b8"/>
<circle cx="505.15" cy="265.25" r="1.22" fill="#2196d0"/>
<circle cx="509.05" cy="265.25" r="1.5" fill="#1768b8"/>
<circle cx="512.95" cy="265.25" r="1.22" fill="#2196d0"/>
<circle cx="516.85" cy="265.25" r="1.22" fill="#2196d0"/>
<circle cx="520.75" cy="265.25" r="1.5" fill="#1768b8"/>
<circle cx="524.65" cy="265.25" r="1.5" fill="#1768b8"/>
<circle cx="528.55" cy="265.25" r="1.75" fill="#062b63"/>
<path d="M339.50 29.50V267.50M292.50 76.50H530.50M370.50 29.50V267.50M292.50 107.50H530.50M444.50 29.50V267.50M292.50 181.50H530.50M475.50 29.50V267.50M292.50 212.50H530.50M292.50 29.50H530.50V267.50H292.50Z" stroke="#747474" stroke-width="1.0" fill="none"/>
<g class="rl"><text x="291.20" y="33.00" textLength="14.6" lengthAdjust="spacingAndGlyphs"><tspan class="cg">CpG</tspan> 72</text><text x="291.20" y="36.90" textLength="14.6" lengthAdjust="spacingAndGlyphs"><tspan class="cg">CpG</tspan> 73</text><text x="291.20" y="40.80" textLength="14.6" lengthAdjust="spacingAndGlyphs"><tspan class="cg">CpG</tspan> 74</text><text x="291.20" y="44.70" textLength="14.6" lengthAdjust="spacingAndGlyphs"><tspan class="cg">CpG</tspan> 75</text><text x="291.20" y="48.60" textLength="14.6" lengthAdjust="spacingAndGlyphs"><tspan class="cg">CpG</tspan> 76</text><text x="291.20" y="52.50" textLength="14.6" lengthAdjust="spacingAndGlyphs"><tspan class="cg">CpG</tspan> 77</text><text x="291.20" y="56.40" textLength="14.6" lengthAdjust="spacingAndGlyphs"><tspan class="cg">CpG</tspan> 78</text><text x="291.20" y="60.30" textLength="14.6" lengthAdjust="spacingAndGlyphs"><tspan class="cg">CpG</tspan> 79</text><text x="291.20" y="64.20" textLength="14.6" lengthAdjust="spacingAndGlyphs"><tspan class="cg">CpG</tspan> 80</text><text x="291.20" y="68.10" textLength="14.6" lengthAdjust="spacingAndGlyphs"><tspan class="cg">CpG</tspan> 81</text><text x="291.20" y="72.00" textLength="14.6" lengthAdjust="spacingAndGlyphs"><tspan class="cg">CpG</tspan> 82</text><text x="291.20" y="75.90" textLength="14.6" lengthAdjust="spacingAndGlyphs"><tspan class="cg">CpG</tspan> 83</text><text x="291.20" y="79.80" textLength="14.6" lengthAdjust="spacingAndGlyphs"><tspan class="cg">CpG</tspan> 12</text><text x="291.20" y="83.70" textLength="14.6" lengthAdjust="spacingAndGlyphs"><tspan class="cg">CpG</tspan> 13</text><text x="291.20" y="87.60" textLength="14.6" lengthAdjust="spacingAndGlyphs"><tspan class="cg">CpG</tspan> 14</text><text x="291.20" y="91.50" textLength="14.6" lengthAdjust="spacingAndGlyphs"><tspan class="cg">CpG</tspan> 15</text><text x="291.20" y="95.40" textLength="14.6" lengthAdjust="spacingAndGlyphs"><tspan class="cg">CpG</tspan> 16</text><text x="291.20" y="99.30" textLength="14.6" lengthAdjust="spacingAndGlyphs"><tspan class="cg">CpG</tspan> 17</text><text x="291.20" y="103.20" textLength="14.6" lengthAdjust="spacingAndGlyphs"><tspan class="cg">CpG</tspan> 18</text><text x="291.20" y="107.10" textLength="14.6" lengthAdjust="spacingAndGlyphs"><tspan class="cg">CpG</tspan> 19</text><text x="291.20" y="111.00" textLength="14.6" lengthAdjust="spacingAndGlyphs"><tspan class="cg">CpG</tspan> 05</text><text x="291.20" y="114.90" textLength="14.6" lengthAdjust="spacingAndGlyphs"><tspan class="cg">CpG</tspan> 06</text><text x="291.20" y="118.80" textLength="14.6" lengthAdjust="spacingAndGlyphs"><tspan class="cg">CpG</tspan> 07</text><text x="291.20" y="122.70" textLength="14.6" lengthAdjust="spacingAndGlyphs"><tspan class="cg">CpG</tspan> 08</text><text x="291.20" y="126.60" textLength="14.6" lengthAdjust="spacingAndGlyphs"><tspan class="cg">CpG</tspan> 11</text><text x="291.20" y="130.50" textLength="14.6" lengthAdjust="spacingAndGlyphs"><tspan class="cg">CpG</tspan> 12</text><text x="291.20" y="134.40" textLength="14.6" lengthAdjust="spacingAndGlyphs"><tspan class="cg">CpG</tspan> 13</text><text x="291.20" y="138.30" textLength="14.6" lengthAdjust="spacingAndGlyphs"><tspan class="cg">CpG</tspan> 14</text><text x="291.20" y="142.20" textLength="14.6" lengthAdjust="spacingAndGlyphs"><tspan class="cg">CpG</tspan> 15</text><text x="291.20" y="146.10" textLength="14.6" lengthAdjust="spacingAndGlyphs"><tspan class="cg">CpG</tspan> 16</text><text x="291.20" y="150.00" textLength="14.6" lengthAdjust="spacingAndGlyphs"><tspan class="cg">CpG</tspan> 17</text><text x="291.20" y="153.90" textLength="14.6" lengthAdjust="spacingAndGlyphs"><tspan class="cg">CpG</tspan> 18</text><text x="291.20" y="157.80" textLength="14.6" lengthAdjust="spacingAndGlyphs"><tspan class="cg">CpG</tspan> 24</text><text x="291.20" y="161.70" textLength="14.6" lengthAdjust="spacingAndGlyphs"><tspan class="cg">CpG</tspan> 25</text><text x="291.20" y="165.60" textLength="14.6" lengthAdjust="spacingAndGlyphs"><tspan class="cg">CpG</tspan> 26</text><text x="291.20" y="169.50" textLength="14.6" lengthAdjust="spacingAndGlyphs"><tspan class="cg">CpG</tspan> 27</text><text x="291.20" y="173.40" textLength="14.6" lengthAdjust="spacingAndGlyphs"><tspan class="cg">CpG</tspan> 37</text><text x="291.20" y="177.30" textLength="14.6" lengthAdjust="spacingAndGlyphs"><tspan class="cg">CpG</tspan> 38</text><text x="291.20" y="181.20" textLength="14.6" lengthAdjust="spacingAndGlyphs"><tspan class="cg">CpG</tspan> 39</text><text x="291.20" y="185.10" textLength="14.6" lengthAdjust="spacingAndGlyphs"><tspan class="cg">CpG</tspan> 15</text><text x="291.20" y="189.00" textLength="14.6" lengthAdjust="spacingAndGlyphs"><tspan class="cg">CpG</tspan> 16</text><text x="291.20" y="192.90" textLength="14.6" lengthAdjust="spacingAndGlyphs"><tspan class="cg">CpG</tspan> 17</text><text x="291.20" y="196.80" textLength="14.6" lengthAdjust="spacingAndGlyphs"><tspan class="cg">CpG</tspan> 18</text><text x="291.20" y="200.70" textLength="14.6" lengthAdjust="spacingAndGlyphs"><tspan class="cg">CpG</tspan> 19</text><text x="291.20" y="204.60" textLength="14.6" lengthAdjust="spacingAndGlyphs"><tspan class="cg">CpG</tspan> 20</text><text x="291.20" y="208.50" textLength="14.6" lengthAdjust="spacingAndGlyphs"><tspan class="cg">CpG</tspan> 21</text><text x="291.20" y="212.40" textLength="14.6" lengthAdjust="spacingAndGlyphs"><tspan class="cg">CpG</tspan> 22</text><text x="291.20" y="216.30" textLength="14.6" lengthAdjust="spacingAndGlyphs"><tspan class="cg">CpG</tspan> 01</text><text x="291.20" y="220.20" textLength="14.6" lengthAdjust="spacingAndGlyphs"><tspan class="cg">CpG</tspan> 02</text><text x="291.20" y="224.10" textLength="14.6" lengthAdjust="spacingAndGlyphs"><tspan class="cg">CpG</tspan> 03</text><text x="291.20" y="228.00" textLength="14.6" lengthAdjust="spacingAndGlyphs"><tspan class="cg">CpG</tspan> 07</text><text x="291.20" y="231.90" textLength="14.6" lengthAdjust="spacingAndGlyphs"><tspan class="cg">CpG</tspan> 08</text><text x="291.20" y="235.80" textLength="14.6" lengthAdjust="spacingAndGlyphs"><tspan class="cg">CpG</tspan> 09</text><text x="291.20" y="239.70" textLength="14.6" lengthAdjust="spacingAndGlyphs"><tspan class="cg">CpG</tspan> 10</text><text x="291.20" y="243.60" textLength="14.6" lengthAdjust="spacingAndGlyphs"><tspan class="cg">CpG</tspan> 11</text><text x="291.20" y="247.50" textLength="14.6" lengthAdjust="spacingAndGlyphs"><tspan class="cg">CpG</tspan> 12</text><text x="291.20" y="251.40" textLength="14.6" lengthAdjust="spacingAndGlyphs"><tspan class="cg">CpG</tspan> 13</text><text x="291.20" y="255.30" textLength="14.6" lengthAdjust="spacingAndGlyphs"><tspan class="cg">CpG</tspan> 19</text><text x="291.20" y="259.20" textLength="14.6" lengthAdjust="spacingAndGlyphs"><tspan class="cg">CpG</tspan> 20</text><text x="291.20" y="263.10" textLength="14.6" lengthAdjust="spacingAndGlyphs"><tspan class="cg">CpG</tspan> 21</text><text x="291.20" y="267.00" textLength="14.6" lengthAdjust="spacingAndGlyphs"><tspan class="cg">CpG</tspan> 22</text></g>
<g class="cl"><text transform="translate(297.15 28.80) rotate(-70)" textLength="14.4" lengthAdjust="spacingAndGlyphs"><tspan class="cg">CpG</tspan> 72</text><text transform="translate(301.05 28.80) rotate(-70)" textLength="14.4" lengthAdjust="spacingAndGlyphs"><tspan class="cg">CpG</tspan> 73</text><text transform="translate(304.95 28.80) rotate(-70)" textLength="14.4" lengthAdjust="spacingAndGlyphs"><tspan class="cg">CpG</tspan> 74</text><text transform="translate(308.85 28.80) rotate(-70)" textLength="14.4" lengthAdjust="spacingAndGlyphs"><tspan class="cg">CpG</tspan> 75</text><text transform="translate(312.75 28.80) rotate(-70)" textLength="14.4" lengthAdjust="spacingAndGlyphs"><tspan class="cg">CpG</tspan> 76</text><text transform="translate(316.65 28.80) rotate(-70)" textLength="14.4" lengthAdjust="spacingAndGlyphs"><tspan class="cg">CpG</tspan> 77</text><text transform="translate(320.55 28.80) rotate(-70)" textLength="14.4" lengthAdjust="spacingAndGlyphs"><tspan class="cg">CpG</tspan> 78</text><text transform="translate(324.45 28.80) rotate(-70)" textLength="14.4" lengthAdjust="spacingAndGlyphs"><tspan class="cg">CpG</tspan> 79</text><text transform="translate(328.35 28.80) rotate(-70)" textLength="14.4" lengthAdjust="spacingAndGlyphs"><tspan class="cg">CpG</tspan> 80</text><text transform="translate(332.25 28.80) rotate(-70)" textLength="14.4" lengthAdjust="spacingAndGlyphs"><tspan class="cg">CpG</tspan> 81</text><text transform="translate(336.15 28.80) rotate(-70)" textLength="14.4" lengthAdjust="spacingAndGlyphs"><tspan class="cg">CpG</tspan> 82</text><text transform="translate(340.05 28.80) rotate(-70)" textLength="14.4" lengthAdjust="spacingAndGlyphs"><tspan class="cg">CpG</tspan> 83</text><text transform="translate(343.95 28.80) rotate(-70)" textLength="14.4" lengthAdjust="spacingAndGlyphs"><tspan class="cg">CpG</tspan> 12</text><text transform="translate(347.85 28.80) rotate(-70)" textLength="14.4" lengthAdjust="spacingAndGlyphs"><tspan class="cg">CpG</tspan> 13</text><text transform="translate(351.75 28.80) rotate(-70)" textLength="14.4" lengthAdjust="spacingAndGlyphs"><tspan class="cg">CpG</tspan> 14</text><text transform="translate(355.65 28.80) rotate(-70)" textLength="14.4" lengthAdjust="spacingAndGlyphs"><tspan class="cg">CpG</tspan> 15</text><text transform="translate(359.55 28.80) rotate(-70)" textLength="14.4" lengthAdjust="spacingAndGlyphs"><tspan class="cg">CpG</tspan> 16</text><text transform="translate(363.45 28.80) rotate(-70)" textLength="14.4" lengthAdjust="spacingAndGlyphs"><tspan class="cg">CpG</tspan> 17</text><text transform="translate(367.35 28.80) rotate(-70)" textLength="14.4" lengthAdjust="spacingAndGlyphs"><tspan class="cg">CpG</tspan> 18</text><text transform="translate(371.25 28.80) rotate(-70)" textLength="14.4" lengthAdjust="spacingAndGlyphs"><tspan class="cg">CpG</tspan> 19</text><text transform="translate(375.15 28.80) rotate(-70)" textLength="14.4" lengthAdjust="spacingAndGlyphs"><tspan class="cg">CpG</tspan> 05</text><text transform="translate(379.05 28.80) rotate(-70)" textLength="14.4" lengthAdjust="spacingAndGlyphs"><tspan class="cg">CpG</tspan> 06</text><text transform="translate(382.95 28.80) rotate(-70)" textLength="14.4" lengthAdjust="spacingAndGlyphs"><tspan class="cg">CpG</tspan> 07</text><text transform="translate(386.85 28.80) rotate(-70)" textLength="14.4" lengthAdjust="spacingAndGlyphs"><tspan class="cg">CpG</tspan> 08</text><text transform="translate(390.75 28.80) rotate(-70)" textLength="14.4" lengthAdjust="spacingAndGlyphs"><tspan class="cg">CpG</tspan> 11</text><text transform="translate(394.65 28.80) rotate(-70)" textLength="14.4" lengthAdjust="spacingAndGlyphs"><tspan class="cg">CpG</tspan> 12</text><text transform="translate(398.55 28.80) rotate(-70)" textLength="14.4" lengthAdjust="spacingAndGlyphs"><tspan class="cg">CpG</tspan> 13</text><text transform="translate(402.45 28.80) rotate(-70)" textLength="14.4" lengthAdjust="spacingAndGlyphs"><tspan class="cg">CpG</tspan> 14</text><text transform="translate(406.35 28.80) rotate(-70)" textLength="14.4" lengthAdjust="spacingAndGlyphs"><tspan class="cg">CpG</tspan> 15</text><text transform="translate(410.25 28.80) rotate(-70)" textLength="14.4" lengthAdjust="spacingAndGlyphs"><tspan class="cg">CpG</tspan> 16</text><text transform="translate(414.15 28.80) rotate(-70)" textLength="14.4" lengthAdjust="spacingAndGlyphs"><tspan class="cg">CpG</tspan> 17</text><text transform="translate(418.05 28.80) rotate(-70)" textLength="14.4" lengthAdjust="spacingAndGlyphs"><tspan class="cg">CpG</tspan> 18</text><text transform="translate(421.95 28.80) rotate(-70)" textLength="14.4" lengthAdjust="spacingAndGlyphs"><tspan class="cg">CpG</tspan> 24</text><text transform="translate(425.85 28.80) rotate(-70)" textLength="14.4" lengthAdjust="spacingAndGlyphs"><tspan class="cg">CpG</tspan> 25</text><text transform="translate(429.75 28.80) rotate(-70)" textLength="14.4" lengthAdjust="spacingAndGlyphs"><tspan class="cg">CpG</tspan> 26</text><text transform="translate(433.65 28.80) rotate(-70)" textLength="14.4" lengthAdjust="spacingAndGlyphs"><tspan class="cg">CpG</tspan> 27</text><text transform="translate(437.55 28.80) rotate(-70)" textLength="14.4" lengthAdjust="spacingAndGlyphs"><tspan class="cg">CpG</tspan> 37</text><text transform="translate(441.45 28.80) rotate(-70)" textLength="14.4" lengthAdjust="spacingAndGlyphs"><tspan class="cg">CpG</tspan> 38</text><text transform="translate(445.35 28.80) rotate(-70)" textLength="14.4" lengthAdjust="spacingAndGlyphs"><tspan class="cg">CpG</tspan> 39</text><text transform="translate(449.25 28.80) rotate(-70)" textLength="14.4" lengthAdjust="spacingAndGlyphs"><tspan class="cg">CpG</tspan> 15</text><text transform="translate(453.15 28.80) rotate(-70)" textLength="14.4" lengthAdjust="spacingAndGlyphs"><tspan class="cg">CpG</tspan> 16</text><text transform="translate(457.05 28.80) rotate(-70)" textLength="14.4" lengthAdjust="spacingAndGlyphs"><tspan class="cg">CpG</tspan> 17</text><text transform="translate(460.95 28.80) rotate(-70)" textLength="14.4" lengthAdjust="spacingAndGlyphs"><tspan class="cg">CpG</tspan> 18</text><text transform="translate(464.85 28.80) rotate(-70)" textLength="14.4" lengthAdjust="spacingAndGlyphs"><tspan class="cg">CpG</tspan> 19</text><text transform="translate(468.75 28.80) rotate(-70)" textLength="14.4" lengthAdjust="spacingAndGlyphs"><tspan class="cg">CpG</tspan> 20</text><text transform="translate(472.65 28.80) rotate(-70)" textLength="14.4" lengthAdjust="spacingAndGlyphs"><tspan class="cg">CpG</tspan> 21</text><text transform="translate(476.55 28.80) rotate(-70)" textLength="14.4" lengthAdjust="spacingAndGlyphs"><tspan class="cg">CpG</tspan> 22</text><text transform="translate(480.45 28.80) rotate(-70)" textLength="14.4" lengthAdjust="spacingAndGlyphs"><tspan class="cg">CpG</tspan> 01</text><text transform="translate(484.35 28.80) rotate(-70)" textLength="14.4" lengthAdjust="spacingAndGlyphs"><tspan class="cg">CpG</tspan> 02</text><text transform="translate(488.25 28.80) rotate(-70)" textLength="14.4" lengthAdjust="spacingAndGlyphs"><tspan class="cg">CpG</tspan> 03</text><text transform="translate(492.15 28.80) rotate(-70)" textLength="14.4" lengthAdjust="spacingAndGlyphs"><tspan class="cg">CpG</tspan> 07</text><text transform="translate(496.05 28.80) rotate(-70)" textLength="14.4" lengthAdjust="spacingAndGlyphs"><tspan class="cg">CpG</tspan> 08</text><text transform="translate(499.95 28.80) rotate(-70)" textLength="14.4" lengthAdjust="spacingAndGlyphs"><tspan class="cg">CpG</tspan> 09</text><text transform="translate(503.85 28.80) rotate(-70)" textLength="14.4" lengthAdjust="spacingAndGlyphs"><tspan class="cg">CpG</tspan> 10</text><text transform="translate(507.75 28.80) rotate(-70)" textLength="14.4" lengthAdjust="spacingAndGlyphs"><tspan class="cg">CpG</tspan> 11</text><text transform="translate(511.65 28.80) rotate(-70)" textLength="14.4" lengthAdjust="spacingAndGlyphs"><tspan class="cg">CpG</tspan> 12</text><text transform="translate(515.55 28.80) rotate(-70)" textLength="14.4" lengthAdjust="spacingAndGlyphs"><tspan class="cg">CpG</tspan> 13</text><text transform="translate(519.45 28.80) rotate(-70)" textLength="14.4" lengthAdjust="spacingAndGlyphs"><tspan class="cg">CpG</tspan> 19</text><text transform="translate(523.35 28.80) rotate(-70)" textLength="14.4" lengthAdjust="spacingAndGlyphs"><tspan class="cg">CpG</tspan> 20</text><text transform="translate(527.25 28.80) rotate(-70)" textLength="14.4" lengthAdjust="spacingAndGlyphs"><tspan class="cg">CpG</tspan> 21</text><text transform="translate(531.15 28.80) rotate(-70)" textLength="14.4" lengthAdjust="spacingAndGlyphs"><tspan class="cg">CpG</tspan> 22</text></g>
<g class="gl"><text transform="translate(534.80 52.70) rotate(-90) scale(0.78 1)">promoter</text><text transform="translate(316.00 271.80) scale(0.78 1)">promoter</text><text transform="translate(534.80 91.70) rotate(-90) scale(0.78 1)">enhancer 1</text><text transform="translate(355.00 271.80) scale(0.78 1)">enhancer 1</text><text transform="translate(534.80 144.35) rotate(-90) scale(0.78 1)">enhancer 2</text><text transform="translate(407.65 271.80) scale(0.78 1)">enhancer 2</text><text transform="translate(534.80 197.00) rotate(-90) scale(0.78 1)">enhancer 3</text><text transform="translate(460.30 271.80) scale(0.78 1)">enhancer 3</text><text transform="translate(534.80 239.90) rotate(-90) scale(0.78 1)">enhancer 4</text><text transform="translate(503.20 271.80) scale(0.78 1)">enhancer 4</text></g>
<path d="M26.20 301.00V538.90M22.30 304.90H260.20M30.10 301.00V538.90M22.30 308.80H260.20M34.00 301.00V538.90M22.30 312.70H260.20M37.90 301.00V538.90M22.30 316.60H260.20M41.80 301.00V538.90M22.30 320.50H260.20M45.70 301.00V538.90M22.30 324.40H260.20M49.60 301.00V538.90M22.30 328.30H260.20M53.50 301.00V538.90M22.30 332.20H260.20M57.40 301.00V538.90M22.30 336.10H260.20M61.30 301.00V538.90M22.30 340.00H260.20M65.20 301.00V538.90M22.30 343.90H260.20M69.10 301.00V538.90M22.30 347.80H260.20M73.00 301.00V538.90M22.30 351.70H260.20M76.90 301.00V538.90M22.30 355.60H260.20M80.80 301.00V538.90M22.30 359.50H260.20M84.70 301.00V538.90M22.30 363.40H260.20M88.60 301.00V538.90M22.30 367.30H260.20M92.50 301.00V538.90M22.30 371.20H260.20M96.40 301.00V538.90M22.30 375.10H260.20M100.30 301.00V538.90M22.30 379.00H260.20M104.20 301.00V538.90M22.30 382.90H260.20M108.10 301.00V538.90M22.30 386.80H260.20M112.00 301.00V538.90M22.30 390.70H260.20M115.90 301.00V538.90M22.30 394.60H260.20M119.80 301.00V538.90M22.30 398.50H260.20M123.70 301.00V538.90M22.30 402.40H260.20M127.60 301.00V538.90M22.30 406.30H260.20M131.50 301.00V538.90M22.30 410.20H260.20M135.40 301.00V538.90M22.30 414.10H260.20M139.30 301.00V538.90M22.30 418.00H260.20M143.20 301.00V538.90M22.30 421.90H260.20M147.10 301.00V538.90M22.30 425.80H260.20M151.00 301.00V538.90M22.30 429.70H260.20M154.90 301.00V538.90M22.30 433.60H260.20M158.80 301.00V538.90M22.30 437.50H260.20M162.70 301.00V538.90M22.30 441.40H260.20M166.60 301.00V538.90M22.30 445.30H260.20M170.50 301.00V538.90M22.30 449.20H260.20M174.40 301.00V538.90M22.30 453.10H260.20M178.30 301.00V538.90M22.30 457.00H260.20M182.20 301.00V538.90M22.30 460.90H260.20M186.10 301.00V538.90M22.30 464.80H260.20M190.00 301.00V538.90M22.30 468.70H260.20M193.90 301.00V538.90M22.30 472.60H260.20M197.80 301.00V538.90M22.30 476.50H260.20M201.70 301.00V538.90M22.30 480.40H260.20M205.60 301.00V538.90M22.30 484.30H260.20M209.50 301.00V538.90M22.30 488.20H260.20M213.40 301.00V538.90M22.30 492.10H260.20M217.30 301.00V538.90M22.30 496.00H260.20M221.20 301.00V538.90M22.30 499.90H260.20M225.10 301.00V538.90M22.30 503.80H260.20M229.00 301.00V538.90M22.30 507.70H260.20M232.90 301.00V538.90M22.30 511.60H260.20M236.80 301.00V538.90M22.30 515.50H260.20M240.70 301.00V538.90M22.30 519.40H260.20M244.60 301.00V538.90M22.30 523.30H260.20M248.50 301.00V538.90M22.30 527.20H260.20M252.40 301.00V538.90M22.30 531.10H260.20M256.30 301.00V538.90M22.30 535.00H260.20" stroke="#efefef" stroke-width="0.4" fill="none"/>
<circle cx="24.25" cy="302.95" r="1.75" fill="#062b63"/>
<circle cx="28.15" cy="302.95" r="1.75" fill="#062b63"/>
<circle cx="32.05" cy="302.95" r="1.5" fill="#1768b8"/>
<circle cx="35.95" cy="302.95" r="1.5" fill="#1768b8"/>
<circle cx="39.85" cy="302.95" r="1.22" fill="#2196d0"/>
<circle cx="47.65" cy="302.95" r="1.22" fill="#2196d0"/>
<circle cx="55.45" cy="302.95" r="1.22" fill="#2196d0"/>
<circle cx="59.35" cy="302.95" r="1.22" fill="#2196d0"/>
<circle cx="63.25" cy="302.95" r="1.5" fill="#1768b8"/>
<circle cx="67.15" cy="302.95" r="1.22" fill="#2196d0"/>
<circle cx="24.25" cy="306.85" r="1.65" fill="#0b4088"/>
<circle cx="28.15" cy="306.85" r="1.75" fill="#062b63"/>
<circle cx="32.05" cy="306.85" r="1.5" fill="#1768b8"/>
<circle cx="35.95" cy="306.85" r="1.65" fill="#0b4088"/>
<circle cx="39.85" cy="306.85" r="1.22" fill="#2196d0"/>
<circle cx="47.65" cy="306.85" r="1.22" fill="#2196d0"/>
<circle cx="51.55" cy="306.85" r="1.22" fill="#2196d0"/>
<circle cx="55.45" cy="306.85" r="1.5" fill="#1768b8"/>
<circle cx="59.35" cy="306.85" r="1.22" fill="#2196d0"/>
<circle cx="63.25" cy="306.85" r="1.5" fill="#1768b8"/>
<circle cx="67.15" cy="306.85" r="1.22" fill="#2196d0"/>
<circle cx="24.25" cy="310.75" r="1.5" fill="#1768b8"/>
<circle cx="28.15" cy="310.75" r="1.5" fill="#1768b8"/>
<circle cx="32.05" cy="310.75" r="1.75" fill="#062b63"/>
<circle cx="35.95" cy="310.75" r="1.5" fill="#1768b8"/>
<circle cx="39.85" cy="310.75" r="1.5" fill="#1768b8"/>
<circle cx="43.75" cy="310.75" r="1.22" fill="#2196d0"/>
<circle cx="51.55" cy="310.75" r="1.22" fill="#2196d0"/>
<circle cx="55.45" cy="310.75" r="1.5" fill="#1768b8"/>
<circle cx="63.25" cy="310.75" r="1.5" fill="#1768b8"/>
<circle cx="67.15" cy="310.75" r="1.22" fill="#2196d0"/>
<circle cx="94.45" cy="310.75" r="1.28" fill="#f27254"/>
<circle cx="24.25" cy="314.65" r="1.5" fill="#1768b8"/>
<circle cx="28.15" cy="314.65" r="1.5" fill="#1768b8"/>
<circle cx="32.05" cy="314.65" r="1.65" fill="#0b4088"/>
<circle cx="35.95" cy="314.65" r="1.75" fill="#062b63"/>
<circle cx="39.85" cy="314.65" r="1.5" fill="#1768b8"/>
<circle cx="43.75" cy="314.65" r="1.22" fill="#2196d0"/>
<circle cx="47.65" cy="314.65" r="1.22" fill="#2196d0"/>
<circle cx="51.55" cy="314.65" r="1.22" fill="#2196d0"/>
<circle cx="55.45" cy="314.65" r="1.65" fill="#0b4088"/>
<circle cx="59.35" cy="314.65" r="1.22" fill="#2196d0"/>
<circle cx="63.25" cy="314.65" r="1.5" fill="#1768b8"/>
<circle cx="67.15" cy="314.65" r="1.5" fill="#1768b8"/>
<circle cx="94.45" cy="314.65" r="1.0" fill="#f8a284"/>
<circle cx="24.25" cy="318.55" r="0.95" fill="#5cb8dc"/>
<circle cx="28.15" cy="318.55" r="1.22" fill="#2196d0"/>
<circle cx="32.05" cy="318.55" r="1.5" fill="#1768b8"/>
<circle cx="35.95" cy="318.55" r="1.5" fill="#1768b8"/>
<circle cx="39.85" cy="318.55" r="1.75" fill="#062b63"/>
<circle cx="47.65" cy="318.55" r="1.22" fill="#2196d0"/>
<circle cx="51.55" cy="318.55" r="1.22" fill="#2196d0"/>
<circle cx="63.25" cy="318.55" r="1.22" fill="#2196d0"/>
<circle cx="67.15" cy="318.55" r="1.22" fill="#2196d0"/>
<circle cx="82.75" cy="318.55" r="1.28" fill="#f27254"/>
<circle cx="90.55" cy="318.55" r="1.28" fill="#f27254"/>
<circle cx="94.45" cy="318.55" r="1.5" fill="#e4383a"/>
<circle cx="176.35" cy="318.55" r="1.28" fill="#f27254"/>
<circle cx="32.05" cy="322.45" r="1.22" fill="#2196d0"/>
<circle cx="35.95" cy="322.45" r="1.22" fill="#2196d0"/>
<circle cx="39.85" cy="322.45" r="1.5" fill="#1768b8"/>
<circle cx="43.75" cy="322.45" r="1.75" fill="#062b63"/>
<circle cx="51.55" cy="322.45" r="1.22" fill="#2196d0"/>
<circle cx="24.25" cy="326.35" r="1.22" fill="#2196d0"/>
<circle cx="28.15" cy="326.35" r="1.22" fill="#2196d0"/>
<circle cx="35.95" cy="326.35" r="1.22" fill="#2196d0"/>
<circle cx="47.65" cy="326.35" r="1.75" fill="#062b63"/>
<circle cx="51.55" cy="326.35" r="1.22" fill="#2196d0"/>
<circle cx="55.45" cy="326.35" r="1.22" fill="#2196d0"/>
<circle cx="59.35" cy="326.35" r="1.22" fill="#2196d0"/>
<circle cx="63.25" cy="326.35" r="1.22" fill="#2196d0"/>
<circle cx="67.15" cy="326.35" r="1.22" fill="#2196d0"/>
<circle cx="28.15" cy="330.25" r="1.22" fill="#2196d0"/>
<circle cx="32.05" cy="330.25" r="1.22" fill="#2196d0"/>
<circle cx="35.95" cy="330.25" r="1.22" fill="#2196d0"/>
<circle cx="39.85" cy="330.25" r="1.22" fill="#2196d0"/>
<circle cx="43.75" cy="330.25" r="1.22" fill="#2196d0"/>
<circle cx="47.65" cy="330.25" r="1.22" fill="#2196d0"/>
<circle cx="51.55" cy="330.25" r="1.75" fill="#062b63"/>
<circle cx="55.45" cy="330.25" r="1.5" fill="#1768b8"/>
<circle cx="59.35" cy="330.25" r="1.5" fill="#1768b8"/>
<circle cx="63.25" cy="330.25" r="1.5" fill="#1768b8"/>
<circle cx="67.15" cy="330.25" r="1.22" fill="#2196d0"/>
<circle cx="24.25" cy="334.15" r="1.22" fill="#2196d0"/>
<circle cx="28.15" cy="334.15" r="1.5" fill="#1768b8"/>
<circle cx="32.05" cy="334.15" r="1.5" fill="#1768b8"/>
<circle cx="35.95" cy="334.15" r="1.5" fill="#1768b8"/>
<circle cx="39.85" cy="334.15" r="1.22" fill="#2196d0"/>
<circle cx="47.65" cy="334.15" r="1.22" fill="#2196d0"/>
<circle cx="51.55" cy="334.15" r="1.5" fill="#1768b8"/>
<circle cx="55.45" cy="334.15" r="1.75" fill="#062b63"/>
<circle cx="59.35" cy="334.15" r="1.5" fill="#1768b8"/>
<circle cx="63.25" cy="334.15" r="1.5" fill="#1768b8"/>
<circle cx="67.15" cy="334.15" r="1.5" fill="#1768b8"/>
<circle cx="24.25" cy="338.05" r="1.22" fill="#2196d0"/>
<circle cx="28.15" cy="338.05" r="1.22" fill="#2196d0"/>
<circle cx="35.95" cy="338.05" r="1.22" fill="#2196d0"/>
<circle cx="47.65" cy="338.05" r="1.22" fill="#2196d0"/>
<circle cx="51.55" cy="338.05" r="1.5" fill="#1768b8"/>
<circle cx="55.45" cy="338.05" r="1.5" fill="#1768b8"/>
<circle cx="59.35" cy="338.05" r="1.75" fill="#062b63"/>
<circle cx="63.25" cy="338.05" r="1.5" fill="#1768b8"/>
<circle cx="90.55" cy="338.05" r="1.28" fill="#f27254"/>
<circle cx="94.45" cy="338.05" r="1.28" fill="#f27254"/>
<circle cx="246.55" cy="338.05" r="1.28" fill="#f27254"/>
<circle cx="24.25" cy="341.95" r="1.5" fill="#1768b8"/>
<circle cx="28.15" cy="341.95" r="1.5" fill="#1768b8"/>
<circle cx="32.05" cy="341.95" r="1.5" fill="#1768b8"/>
<circle cx="35.95" cy="341.95" r="1.5" fill="#1768b8"/>
<circle cx="39.85" cy="341.95" r="1.22" fill="#2196d0"/>
<circle cx="47.65" cy="341.95" r="1.22" fill="#2196d0"/>
<circle cx="51.55" cy="341.95" r="1.5" fill="#1768b8"/>
<circle cx="55.45" cy="341.95" r="1.5" fill="#1768b8"/>
<circle cx="59.35" cy="341.95" r="1.5" fill="#1768b8"/>
<circle cx="63.25" cy="341.95" r="1.75" fill="#062b63"/>
<circle cx="67.15" cy="341.95" r="1.65" fill="#0b4088"/>
<circle cx="82.75" cy="341.95" r="1.0" fill="#f8a284"/>
<circle cx="90.55" cy="341.95" r="1.28" fill="#f27254"/>
<circle cx="94.45" cy="341.95" r="1.5" fill="#e4383a"/>
<circle cx="230.95" cy="341.95" r="1.28" fill="#f27254"/>
<circle cx="24.25" cy="345.85" r="1.22" fill="#2196d0"/>
<circle cx="28.15" cy="345.85" r="1.5" fill="#1768b8"/>
<circle cx="32.05" cy="345.85" r="1.22" fill="#2196d0"/>
<circle cx="35.95" cy="345.85" r="1.5" fill="#1768b8"/>
<circle cx="39.85" cy="345.85" r="1.22" fill="#2196d0"/>
<circle cx="47.65" cy="345.85" r="1.22" fill="#2196d0"/>
<circle cx="51.55" cy="345.85" r="1.5" fill="#1768b8"/>
<circle cx="55.45" cy="345.85" r="1.5" fill="#1768b8"/>
<circle cx="59.35" cy="345.85" r="1.5" fill="#1768b8"/>
<circle cx="63.25" cy="345.85" r="1.65" fill="#0b4088"/>
<circle cx="67.15" cy="345.85" r="1.75" fill="#062b63"/>
<circle cx="90.55" cy="345.85" r="1.0" fill="#f8a284"/>
<circle cx="94.45" cy="345.85" r="1.5" fill="#e4383a"/>
<circle cx="71.05" cy="349.75" r="1.75" fill="#062b63"/>
<circle cx="74.95" cy="349.75" r="1.65" fill="#0b4088"/>
<circle cx="78.85" cy="349.75" r="1.65" fill="#0b4088"/>
<circle cx="82.75" cy="349.75" r="1.65" fill="#0b4088"/>
<circle cx="86.65" cy="349.75" r="1.65" fill="#0b4088"/>
<circle cx="90.55" cy="349.75" r="1.22" fill="#2196d0"/>
<circle cx="94.45" cy="349.75" r="1.22" fill="#2196d0"/>
<circle cx="98.35" cy="349.75" r="0.95" fill="#5cb8dc"/>
<circle cx="102.25" cy="349.75" r="0.95" fill="#5cb8dc"/>
<circle cx="117.85" cy="349.75" r="1.22" fill="#2196d0"/>
<circle cx="121.75" cy="349.75" r="1.22" fill="#2196d0"/>
<circle cx="129.55" cy="349.75" r="1.22" fill="#2196d0"/>
<circle cx="172.45" cy="349.75" r="1.22" fill="#2196d0"/>
<circle cx="254.35" cy="349.75" r="1.22" fill="#2196d0"/>
<circle cx="258.25" cy="349.75" r="1.22" fill="#2196d0"/>
<circle cx="71.05" cy="353.65" r="1.65" fill="#0b4088"/>
<circle cx="74.95" cy="353.65" r="1.75" fill="#062b63"/>
<circle cx="78.85" cy="353.65" r="1.65" fill="#0b4088"/>
<circle cx="82.75" cy="353.65" r="1.65" fill="#0b4088"/>
<circle cx="86.65" cy="353.65" r="1.65" fill="#0b4088"/>
<circle cx="90.55" cy="353.65" r="1.22" fill="#2196d0"/>
<circle cx="94.45" cy="353.65" r="1.22" fill="#2196d0"/>
<circle cx="172.45" cy="353.65" r="1.22" fill="#2196d0"/>
<circle cx="254.35" cy="353.65" r="1.5" fill="#1768b8"/>
<circle cx="258.25" cy="353.65" r="0.95" fill="#5cb8dc"/>
<circle cx="71.05" cy="357.55" r="1.65" fill="#0b4088"/>
<circle cx="74.95" cy="357.55" r="1.65" fill="#0b4088"/>
<circle cx="78.85" cy="357.55" r="1.75" fill="#062b63"/>
<circle cx="82.75" cy="357.55" r="1.65" fill="#0b4088"/>
<circle cx="86.65" cy="357.55" r="1.65" fill="#0b4088"/>
<circle cx="90.55" cy="357.55" r="1.22" fill="#2196d0"/>
<circle cx="94.45" cy="357.55" r="1.22" fill="#2196d0"/>
<circle cx="98.35" cy="357.55" r="0.95" fill="#5cb8dc"/>
<circle cx="254.35" cy="357.55" r="1.22" fill="#2196d0"/>
<circle cx="258.25" cy="357.55" r="1.22" fill="#2196d0"/>
<circle cx="39.85" cy="361.45" r="1.28" fill="#f27254"/>
<circle cx="63.25" cy="361.45" r="1.0" fill="#f8a284"/>
<circle cx="71.05" cy="361.45" r="1.65" fill="#0b4088"/>
<circle cx="74.95" cy="361.45" r="1.65" fill="#0b4088"/>
<circle cx="78.85" cy="361.45" r="1.65" fill="#0b4088"/>
<circle cx="82.75" cy="361.45" r="1.75" fill="#062b63"/>
<circle cx="86.65" cy="361.45" r="1.65" fill="#0b4088"/>
<circle cx="90.55" cy="361.45" r="1.22" fill="#2196d0"/>
<circle cx="94.45" cy="361.45" r="1.22" fill="#2196d0"/>
<circle cx="98.35" cy="361.45" r="1.22" fill="#2196d0"/>
<circle cx="102.25" cy="361.45" r="0.95" fill="#5cb8dc"/>
<circle cx="250.45" cy="361.45" r="1.22" fill="#2196d0"/>
<circle cx="254.35" cy="361.45" r="1.5" fill="#1768b8"/>
<circle cx="258.25" cy="361.45" r="1.5" fill="#1768b8"/>
<circle cx="71.05" cy="365.35" r="1.65" fill="#0b4088"/>
<circle cx="74.95" cy="365.35" r="1.65" fill="#0b4088"/>
<circle cx="78.85" cy="365.35" r="1.65" fill="#0b4088"/>
<circle cx="82.75" cy="365.35" r="1.65" fill="#0b4088"/>
<circle cx="86.65" cy="365.35" r="1.75" fill="#062b63"/>
<circle cx="90.55" cy="365.35" r="1.22" fill="#2196d0"/>
<circle cx="94.45" cy="365.35" r="1.22" fill="#2196d0"/>
<circle cx="98.35" cy="365.35" r="1.22" fill="#2196d0"/>
<circle cx="102.25" cy="365.35" r="0.95" fill="#5cb8dc"/>
<circle cx="164.65" cy="365.35" r="1.22" fill="#2196d0"/>
<circle cx="250.45" cy="365.35" r="1.22" fill="#2196d0"/>
<circle cx="254.35" cy="365.35" r="1.5" fill="#1768b8"/>
<circle cx="258.25" cy="365.35" r="1.5" fill="#1768b8"/>
<circle cx="39.85" cy="369.25" r="1.28" fill="#f27254"/>
<circle cx="59.35" cy="369.25" r="1.28" fill="#f27254"/>
<circle cx="63.25" cy="369.25" r="1.28" fill="#f27254"/>
<circle cx="67.15" cy="369.25" r="1.0" fill="#f8a284"/>
<circle cx="71.05" cy="369.25" r="1.22" fill="#2196d0"/>
<circle cx="74.95" cy="369.25" r="1.22" fill="#2196d0"/>
<circle cx="78.85" cy="369.25" r="1.22" fill="#2196d0"/>
<circle cx="82.75" cy="369.25" r="1.22" fill="#2196d0"/>
<circle cx="86.65" cy="369.25" r="1.22" fill="#2196d0"/>
<circle cx="90.55" cy="369.25" r="1.75" fill="#062b63"/>
<circle cx="94.45" cy="369.25" r="1.65" fill="#0b4088"/>
<circle cx="98.35" cy="369.25" r="1.5" fill="#1768b8"/>
<circle cx="102.25" cy="369.25" r="1.22" fill="#2196d0"/>
<circle cx="106.15" cy="369.25" r="1.22" fill="#2196d0"/>
<circle cx="110.05" cy="369.25" r="1.22" fill="#2196d0"/>
<circle cx="113.95" cy="369.25" r="1.22" fill="#2196d0"/>
<circle cx="117.85" cy="369.25" r="1.22" fill="#2196d0"/>
<circle cx="121.75" cy="369.25" r="1.22" fill="#2196d0"/>
<circle cx="172.45" cy="369.25" r="1.22" fill="#2196d0"/>
<circle cx="207.55" cy="369.25" r="1.5" fill="#1768b8"/>
<circle cx="238.75" cy="369.25" r="1.22" fill="#2196d0"/>
<circle cx="242.65" cy="369.25" r="1.22" fill="#2196d0"/>
<circle cx="258.25" cy="369.25" r="1.22" fill="#2196d0"/>
<circle cx="32.05" cy="373.15" r="1.28" fill="#f27254"/>
<circle cx="35.95" cy="373.15" r="1.0" fill="#f8a284"/>
<circle cx="39.85" cy="373.15" r="1.5" fill="#e4383a"/>
<circle cx="59.35" cy="373.15" r="1.28" fill="#f27254"/>
<circle cx="63.25" cy="373.15" r="1.5" fill="#e4383a"/>
<circle cx="67.15" cy="373.15" r="1.5" fill="#e4383a"/>
<circle cx="71.05" cy="373.15" r="1.22" fill="#2196d0"/>
<circle cx="74.95" cy="373.15" r="1.22" fill="#2196d0"/>
<circle cx="78.85" cy="373.15" r="1.22" fill="#2196d0"/>
<circle cx="82.75" cy="373.15" r="1.22" fill="#2196d0"/>
<circle cx="86.65" cy="373.15" r="1.22" fill="#2196d0"/>
<circle cx="90.55" cy="373.15" r="1.65" fill="#0b4088"/>
<circle cx="94.45" cy="373.15" r="1.75" fill="#062b63"/>
<circle cx="98.35" cy="373.15" r="1.5" fill="#1768b8"/>
<circle cx="102.25" cy="373.15" r="0.95" fill="#5cb8dc"/>
<circle cx="113.95" cy="373.15" r="0.95" fill="#5cb8dc"/>
<circle cx="176.35" cy="373.15" r="1.5" fill="#1768b8"/>
<circle cx="188.05" cy="373.15" r="1.22" fill="#2196d0"/>
<circle cx="191.95" cy="373.15" r="1.5" fill="#1768b8"/>
<circle cx="238.75" cy="373.15" r="1.22" fill="#2196d0"/>
<circle cx="242.65" cy="373.15" r="1.22" fill="#2196d0"/>
<circle cx="250.45" cy="373.15" r="1.22" fill="#2196d0"/>
<circle cx="254.35" cy="373.15" r="1.22" fill="#2196d0"/>
<circle cx="71.05" cy="377.05" r="0.95" fill="#5cb8dc"/>
<circle cx="78.85" cy="377.05" r="1.22" fill="#2196d0"/>
<circle cx="82.75" cy="377.05" r="1.22" fill="#2196d0"/>
<circle cx="86.65" cy="377.05" r="1.22" fill="#2196d0"/>
<circle cx="90.55" cy="377.05" r="1.5" fill="#1768b8"/>
<circle cx="94.45" cy="377.05" r="1.5" fill="#1768b8"/>
<circle cx="98.35" cy="377.05" r="1.75" fill="#062b63"/>
<circle cx="102.25" cy="377.05" r="0.95" fill="#5cb8dc"/>
<circle cx="110.05" cy="377.05" r="0.95" fill="#5cb8dc"/>
<circle cx="113.95" cy="377.05" r="0.95" fill="#5cb8dc"/>
<circle cx="176.35" cy="377.05" r="1.5" fill="#1768b8"/>
<circle cx="191.95" cy="377.05" r="1.5" fill="#1768b8"/>
<circle cx="223.15" cy="377.05" r="1.5" fill="#1768b8"/>
<circle cx="238.75" cy="377.05" r="1.22" fill="#2196d0"/>
<circle cx="71.05" cy="380.95" r="0.95" fill="#5cb8dc"/>
<circle cx="82.75" cy="380.95" r="0.95" fill="#5cb8dc"/>
<circle cx="86.65" cy="380.95" r="0.95" fill="#5cb8dc"/>
<circle cx="90.55" cy="380.95" r="1.22" fill="#2196d0"/>
<circle cx="94.45" cy="380.95" r="0.95" fill="#5cb8dc"/>
<circle cx="98.35" cy="380.95" r="0.95" fill="#5cb8dc"/>
<circle cx="102.25" cy="380.95" r="1.75" fill="#062b63"/>
<circle cx="106.15" cy="380.95" r="1.65" fill="#0b4088"/>
<circle cx="110.05" cy="380.95" r="1.65" fill="#0b4088"/>
<circle cx="113.95" cy="380.95" r="1.5" fill="#1768b8"/>
<circle cx="117.85" cy="380.95" r="1.5" fill="#1768b8"/>
<circle cx="121.75" cy="380.95" r="1.5" fill="#1768b8"/>
<circle cx="125.65" cy="380.95" r="1.22" fill="#2196d0"/>
<circle cx="129.55" cy="380.95" r="1.22" fill="#2196d0"/>
<circle cx="152.95" cy="380.95" r="0.95" fill="#5cb8dc"/>
<circle cx="164.65" cy="380.95" r="1.5" fill="#1768b8"/>
<circle cx="168.55" cy="380.95" r="1.22" fill="#2196d0"/>
<circle cx="172.45" cy="380.95" r="1.22" fill="#2196d0"/>
<circle cx="207.55" cy="380.95" r="1.5" fill="#1768b8"/>
<circle cx="223.15" cy="380.95" r="1.22" fill="#2196d0"/>
<circle cx="258.25" cy="380.95" r="1.22" fill="#2196d0"/>
<circle cx="90.55" cy="384.85" r="1.22" fill="#2196d0"/>
<circle cx="102.25" cy="384.85" r="1.65" fill="#0b4088"/>
<circle cx="106.15" cy="384.85" r="1.75" fill="#062b63"/>
<circle cx="110.05" cy="384.85" r="1.65" fill="#0b4088"/>
<circle cx="113.95" cy="384.85" r="1.5" fill="#1768b8"/>
<circle cx="117.85" cy="384.85" r="1.5" fill="#1768b8"/>
<circle cx="121.75" cy="384.85" r="1.5" fill="#1768b8"/>
<circle cx="125.65" cy="384.85" r="1.22" fill="#2196d0"/>
<circle cx="129.55" cy="384.85" r="1.22" fill="#2196d0"/>
<circle cx="133.45" cy="384.85" r="1.22" fill="#2196d0"/>
<circle cx="141.25" cy="384.85" r="1.22" fill="#2196d0"/>
<circle cx="145.15" cy="384.85" r="1.22" fill="#2196d0"/>
<circle cx="156.85" cy="384.85" r="1.22" fill="#2196d0"/>
<circle cx="164.65" cy="384.85" r="1.5" fill="#1768b8"/>
<circle cx="168.55" cy="384.85" r="1.22" fill="#2196d0"/>
<circle cx="172.45" cy="384.85" r="1.22" fill="#2196d0"/>
<circle cx="207.55" cy="384.85" r="1.5" fill="#1768b8"/>
<circle cx="219.25" cy="384.85" r="1.22" fill="#2196d0"/>
<circle cx="223.15" cy="384.85" r="1.5" fill="#1768b8"/>
<circle cx="258.25" cy="384.85" r="0.95" fill="#5cb8dc"/>
<circle cx="90.55" cy="388.75" r="1.22" fill="#2196d0"/>
<circle cx="98.35" cy="388.75" r="0.95" fill="#5cb8dc"/>
<circle cx="102.25" cy="388.75" r="1.65" fill="#0b4088"/>
<circle cx="106.15" cy="388.75" r="1.65" fill="#0b4088"/>
<circle cx="110.05" cy="388.75" r="1.75" fill="#062b63"/>
<circle cx="113.95" cy="388.75" r="1.5" fill="#1768b8"/>
<circle cx="117.85" cy="388.75" r="1.5" fill="#1768b8"/>
<circle cx="121.75" cy="388.75" r="1.5" fill="#1768b8"/>
<circle cx="125.65" cy="388.75" r="1.22" fill="#2196d0"/>
<circle cx="129.55" cy="388.75" r="1.22" fill="#2196d0"/>
<circle cx="133.45" cy="388.75" r="1.22" fill="#2196d0"/>
<circle cx="156.85" cy="388.75" r="1.22" fill="#2196d0"/>
<circle cx="164.65" cy="388.75" r="1.5" fill="#1768b8"/>
<circle cx="168.55" cy="388.75" r="1.22" fill="#2196d0"/>
<circle cx="172.45" cy="388.75" r="1.22" fill="#2196d0"/>
<circle cx="207.55" cy="388.75" r="1.65" fill="#0b4088"/>
<circle cx="211.45" cy="388.75" r="1.22" fill="#2196d0"/>
<circle cx="215.35" cy="388.75" r="1.22" fill="#2196d0"/>
<circle cx="219.25" cy="388.75" r="1.5" fill="#1768b8"/>
<circle cx="223.15" cy="388.75" r="1.5" fill="#1768b8"/>
<circle cx="238.75" cy="388.75" r="1.22" fill="#2196d0"/>
<circle cx="258.25" cy="388.75" r="1.22" fill="#2196d0"/>
<circle cx="90.55" cy="392.65" r="1.22" fill="#2196d0"/>
<circle cx="94.45" cy="392.65" r="0.95" fill="#5cb8dc"/>
<circle cx="98.35" cy="392.65" r="0.95" fill="#5cb8dc"/>
<circle cx="102.25" cy="392.65" r="1.5" fill="#1768b8"/>
<circle cx="106.15" cy="392.65" r="1.5" fill="#1768b8"/>
<circle cx="110.05" cy="392.65" r="1.5" fill="#1768b8"/>
<circle cx="113.95" cy="392.65" r="1.75" fill="#062b63"/>
<circle cx="117.85" cy="392.65" r="1.22" fill="#2196d0"/>
<circle cx="121.75" cy="392.65" r="1.22" fill="#2196d0"/>
<circle cx="164.65" cy="392.65" r="1.65" fill="#0b4088"/>
<circle cx="168.55" cy="392.65" r="1.5" fill="#1768b8"/>
<circle cx="172.45" cy="392.65" r="1.5" fill="#1768b8"/>
<circle cx="207.55" cy="392.65" r="1.5" fill="#1768b8"/>
<circle cx="223.15" cy="392.65" r="1.5" fill="#1768b8"/>
<circle cx="71.05" cy="396.55" r="1.22" fill="#2196d0"/>
<circle cx="90.55" cy="396.55" r="1.22" fill="#2196d0"/>
<circle cx="102.25" cy="396.55" r="1.5" fill="#1768b8"/>
<circle cx="106.15" cy="396.55" r="1.5" fill="#1768b8"/>
<circle cx="110.05" cy="396.55" r="1.5" fill="#1768b8"/>
<circle cx="113.95" cy="396.55" r="1.22" fill="#2196d0"/>
<circle cx="117.85" cy="396.55" r="1.75" fill="#062b63"/>
<circle cx="121.75" cy="396.55" r="1.65" fill="#0b4088"/>
<circle cx="125.65" cy="396.55" r="1.5" fill="#1768b8"/>
<circle cx="129.55" cy="396.55" r="1.5" fill="#1768b8"/>
<circle cx="133.45" cy="396.55" r="1.22" fill="#2196d0"/>
<circle cx="141.25" cy="396.55" r="1.22" fill="#2196d0"/>
<circle cx="145.15" cy="396.55" r="1.22" fill="#2196d0"/>
<circle cx="156.85" cy="396.55" r="1.5" fill="#1768b8"/>
<circle cx="160.75" cy="396.55" r="1.22" fill="#2196d0"/>
<circle cx="164.65" cy="396.55" r="1.22" fill="#2196d0"/>
<circle cx="168.55" cy="396.55" r="1.22" fill="#2196d0"/>
<circle cx="172.45" cy="396.55" r="1.22" fill="#2196d0"/>
<circle cx="207.55" cy="396.55" r="0.95" fill="#5cb8dc"/>
<circle cx="258.25" cy="396.55" r="1.5" fill="#1768b8"/>
<circle cx="71.05" cy="400.45" r="1.22" fill="#2196d0"/>
<circle cx="90.55" cy="400.45" r="1.22" fill="#2196d0"/>
<circle cx="102.25" cy="400.45" r="1.5" fill="#1768b8"/>
<circle cx="106.15" cy="400.45" r="1.5" fill="#1768b8"/>
<circle cx="110.05" cy="400.45" r="1.5" fill="#1768b8"/>
<circle cx="113.95" cy="400.45" r="1.22" fill="#2196d0"/>
<circle cx="117.85" cy="400.45" r="1.65" fill="#0b4088"/>
<circle cx="121.75" cy="400.45" r="1.75" fill="#062b63"/>
<circle cx="125.65" cy="400.45" r="1.5" fill="#1768b8"/>
<circle cx="129.55" cy="400.45" r="1.5" fill="#1768b8"/>
<circle cx="133.45" cy="400.45" r="1.5" fill="#1768b8"/>
<circle cx="137.35" cy="400.45" r="0.95" fill="#5cb8dc"/>
<circle cx="141.25" cy="400.45" r="1.5" fill="#1768b8"/>
<circle cx="145.15" cy="400.45" r="1.5" fill="#1768b8"/>
<circle cx="156.85" cy="400.45" r="1.22" fill="#2196d0"/>
<circle cx="160.75" cy="400.45" r="1.22" fill="#2196d0"/>
<circle cx="164.65" cy="400.45" r="1.22" fill="#2196d0"/>
<circle cx="207.55" cy="400.45" r="1.5" fill="#1768b8"/>
<circle cx="211.45" cy="400.45" r="1.22" fill="#2196d0"/>
<circle cx="215.35" cy="400.45" r="1.22" fill="#2196d0"/>
<circle cx="219.25" cy="400.45" r="1.22" fill="#2196d0"/>
<circle cx="223.15" cy="400.45" r="1.5" fill="#1768b8"/>
<circle cx="234.85" cy="400.45" r="1.22" fill="#2196d0"/>
<circle cx="238.75" cy="400.45" r="1.22" fill="#2196d0"/>
<circle cx="250.45" cy="400.45" r="1.22" fill="#2196d0"/>
<circle cx="254.35" cy="400.45" r="1.22" fill="#2196d0"/>
<circle cx="258.25" cy="400.45" r="1.5" fill="#1768b8"/>
<circle cx="102.25" cy="404.35" r="0.95" fill="#5cb8dc"/>
<circle cx="106.15" cy="404.35" r="1.22" fill="#2196d0"/>
<circle cx="110.05" cy="404.35" r="1.22" fill="#2196d0"/>
<circle cx="117.85" cy="404.35" r="1.22" fill="#2196d0"/>
<circle cx="121.75" cy="404.35" r="1.22" fill="#2196d0"/>
<circle cx="125.65" cy="404.35" r="1.75" fill="#062b63"/>
<circle cx="129.55" cy="404.35" r="1.5" fill="#1768b8"/>
<circle cx="133.45" cy="404.35" r="1.22" fill="#2196d0"/>
<circle cx="145.15" cy="404.35" r="1.22" fill="#2196d0"/>
<circle cx="207.55" cy="404.35" r="1.22" fill="#2196d0"/>
<circle cx="211.45" cy="404.35" r="1.5" fill="#1768b8"/>
<circle cx="215.35" cy="404.35" r="1.5" fill="#1768b8"/>
<circle cx="250.45" cy="404.35" r="1.22" fill="#2196d0"/>
<circle cx="254.35" cy="404.35" r="1.22" fill="#2196d0"/>
<circle cx="258.25" cy="404.35" r="1.22" fill="#2196d0"/>
<circle cx="71.05" cy="408.25" r="1.22" fill="#2196d0"/>
<circle cx="102.25" cy="408.25" r="1.22" fill="#2196d0"/>
<circle cx="106.15" cy="408.25" r="1.5" fill="#1768b8"/>
<circle cx="110.05" cy="408.25" r="1.5" fill="#1768b8"/>
<circle cx="117.85" cy="408.25" r="1.5" fill="#1768b8"/>
<circle cx="121.75" cy="408.25" r="1.5" fill="#1768b8"/>
<circle cx="125.65" cy="408.25" r="1.5" fill="#1768b8"/>
<circle cx="129.55" cy="408.25" r="1.75" fill="#062b63"/>
<circle cx="133.45" cy="408.25" r="1.22" fill="#2196d0"/>
<circle cx="141.25" cy="408.25" r="0.95" fill="#5cb8dc"/>
<circle cx="145.15" cy="408.25" r="1.22" fill="#2196d0"/>
<circle cx="164.65" cy="408.25" r="1.22" fill="#2196d0"/>
<circle cx="168.55" cy="408.25" r="0.95" fill="#5cb8dc"/>
<circle cx="207.55" cy="408.25" r="1.5" fill="#1768b8"/>
<circle cx="211.45" cy="408.25" r="1.22" fill="#2196d0"/>
<circle cx="215.35" cy="408.25" r="1.22" fill="#2196d0"/>
<circle cx="223.15" cy="408.25" r="0.95" fill="#5cb8dc"/>
<circle cx="258.25" cy="408.25" r="1.5" fill="#1768b8"/>
<circle cx="106.15" cy="412.15" r="1.22" fill="#2196d0"/>
<circle cx="110.05" cy="412.15" r="1.22" fill="#2196d0"/>
<circle cx="117.85" cy="412.15" r="1.22" fill="#2196d0"/>
<circle cx="121.75" cy="412.15" r="1.5" fill="#1768b8"/>
<circle cx="125.65" cy="412.15" r="1.22" fill="#2196d0"/>
<circle cx="129.55" cy="412.15" r="1.22" fill="#2196d0"/>
<circle cx="133.45" cy="412.15" r="1.75" fill="#062b63"/>
<circle cx="137.35" cy="412.15" r="1.65" fill="#0b4088"/>
<circle cx="141.25" cy="412.15" r="1.65" fill="#0b4088"/>
<circle cx="145.15" cy="412.15" r="1.65" fill="#0b4088"/>
<circle cx="207.55" cy="412.15" r="1.22" fill="#2196d0"/>
<circle cx="223.15" cy="412.15" r="1.22" fill="#2196d0"/>
<circle cx="121.75" cy="416.05" r="0.95" fill="#5cb8dc"/>
<circle cx="133.45" cy="416.05" r="1.65" fill="#0b4088"/>
<circle cx="137.35" cy="416.05" r="1.75" fill="#062b63"/>
<circle cx="141.25" cy="416.05" r="1.65" fill="#0b4088"/>
<circle cx="145.15" cy="416.05" r="1.65" fill="#0b4088"/>
<circle cx="195.85" cy="416.05" r="1.0" fill="#f8a284"/>
<circle cx="106.15" cy="419.95" r="1.22" fill="#2196d0"/>
<circle cx="117.85" cy="419.95" r="1.22" fill="#2196d0"/>
<circle cx="121.75" cy="419.95" r="1.5" fill="#1768b8"/>
<circle cx="129.55" cy="419.95" r="0.95" fill="#5cb8dc"/>
<circle cx="133.45" cy="419.95" r="1.65" fill="#0b4088"/>
<circle cx="137.35" cy="419.95" r="1.65" fill="#0b4088"/>
<circle cx="141.25" cy="419.95" r="1.75" fill="#062b63"/>
<circle cx="145.15" cy="419.95" r="1.65" fill="#0b4088"/>
<circle cx="106.15" cy="423.85" r="1.22" fill="#2196d0"/>
<circle cx="117.85" cy="423.85" r="1.22" fill="#2196d0"/>
<circle cx="121.75" cy="423.85" r="1.5" fill="#1768b8"/>
<circle cx="125.65" cy="423.85" r="1.22" fill="#2196d0"/>
<circle cx="129.55" cy="423.85" r="1.22" fill="#2196d0"/>
<circle cx="133.45" cy="423.85" r="1.65" fill="#0b4088"/>
<circle cx="137.35" cy="423.85" r="1.65" fill="#0b4088"/>
<circle cx="141.25" cy="423.85" r="1.65" fill="#0b4088"/>
<circle cx="145.15" cy="423.85" r="1.75" fill="#062b63"/>
<circle cx="149.05" cy="427.75" r="1.75" fill="#062b63"/>
<circle cx="102.25" cy="431.65" r="0.95" fill="#5cb8dc"/>
<circle cx="152.95" cy="431.65" r="1.75" fill="#062b63"/>
<circle cx="156.85" cy="431.65" r="1.22" fill="#2196d0"/>
<circle cx="160.75" cy="431.65" r="1.5" fill="#1768b8"/>
<circle cx="106.15" cy="435.55" r="1.22" fill="#2196d0"/>
<circle cx="110.05" cy="435.55" r="1.22" fill="#2196d0"/>
<circle cx="117.85" cy="435.55" r="1.5" fill="#1768b8"/>
<circle cx="121.75" cy="435.55" r="1.22" fill="#2196d0"/>
<circle cx="152.95" cy="435.55" r="1.22" fill="#2196d0"/>
<circle cx="156.85" cy="435.55" r="1.75" fill="#062b63"/>
<circle cx="160.75" cy="435.55" r="1.65" fill="#0b4088"/>
<circle cx="211.45" cy="435.55" r="1.5" fill="#1768b8"/>
<circle cx="215.35" cy="435.55" r="1.5" fill="#1768b8"/>
<circle cx="117.85" cy="439.45" r="1.22" fill="#2196d0"/>
<circle cx="121.75" cy="439.45" r="1.22" fill="#2196d0"/>
<circle cx="152.95" cy="439.45" r="1.5" fill="#1768b8"/>
<circle cx="156.85" cy="439.45" r="1.65" fill="#0b4088"/>
<circle cx="160.75" cy="439.45" r="1.75" fill="#062b63"/>
<circle cx="211.45" cy="439.45" r="1.22" fill="#2196d0"/>
<circle cx="215.35" cy="439.45" r="1.22" fill="#2196d0"/>
<circle cx="86.65" cy="443.35" r="1.22" fill="#2196d0"/>
<circle cx="102.25" cy="443.35" r="1.5" fill="#1768b8"/>
<circle cx="106.15" cy="443.35" r="1.5" fill="#1768b8"/>
<circle cx="110.05" cy="443.35" r="1.5" fill="#1768b8"/>
<circle cx="113.95" cy="443.35" r="1.65" fill="#0b4088"/>
<circle cx="117.85" cy="443.35" r="1.22" fill="#2196d0"/>
<circle cx="121.75" cy="443.35" r="1.22" fill="#2196d0"/>
<circle cx="129.55" cy="443.35" r="1.22" fill="#2196d0"/>
<circle cx="164.65" cy="443.35" r="1.75" fill="#062b63"/>
<circle cx="168.55" cy="443.35" r="1.65" fill="#0b4088"/>
<circle cx="172.45" cy="443.35" r="1.5" fill="#1768b8"/>
<circle cx="180.25" cy="443.35" r="1.28" fill="#f27254"/>
<circle cx="207.55" cy="443.35" r="1.22" fill="#2196d0"/>
<circle cx="223.15" cy="443.35" r="1.22" fill="#2196d0"/>
<circle cx="102.25" cy="447.25" r="1.22" fill="#2196d0"/>
<circle cx="106.15" cy="447.25" r="1.22" fill="#2196d0"/>
<circle cx="110.05" cy="447.25" r="1.22" fill="#2196d0"/>
<circle cx="113.95" cy="447.25" r="1.5" fill="#1768b8"/>
<circle cx="117.85" cy="447.25" r="1.22" fill="#2196d0"/>
<circle cx="129.55" cy="447.25" r="0.95" fill="#5cb8dc"/>
<circle cx="164.65" cy="447.25" r="1.65" fill="#0b4088"/>
<circle cx="168.55" cy="447.25" r="1.75" fill="#062b63"/>
<circle cx="172.45" cy="447.25" r="1.5" fill="#1768b8"/>
<circle cx="207.55" cy="447.25" r="1.22" fill="#2196d0"/>
<circle cx="71.05" cy="451.15" r="1.22" fill="#2196d0"/>
<circle cx="74.95" cy="451.15" r="1.22" fill="#2196d0"/>
<circle cx="90.55" cy="451.15" r="1.22" fill="#2196d0"/>
<circle cx="102.25" cy="451.15" r="1.22" fill="#2196d0"/>
<circle cx="106.15" cy="451.15" r="1.22" fill="#2196d0"/>
<circle cx="110.05" cy="451.15" r="1.22" fill="#2196d0"/>
<circle cx="113.95" cy="451.15" r="1.5" fill="#1768b8"/>
<circle cx="117.85" cy="451.15" r="1.22" fill="#2196d0"/>
<circle cx="164.65" cy="451.15" r="1.5" fill="#1768b8"/>
<circle cx="168.55" cy="451.15" r="1.5" fill="#1768b8"/>
<circle cx="172.45" cy="451.15" r="1.75" fill="#062b63"/>
<circle cx="39.85" cy="455.05" r="1.28" fill="#f27254"/>
<circle cx="94.45" cy="455.05" r="1.5" fill="#1768b8"/>
<circle cx="98.35" cy="455.05" r="1.5" fill="#1768b8"/>
<circle cx="176.35" cy="455.05" r="1.75" fill="#062b63"/>
<circle cx="180.25" cy="455.05" r="1.22" fill="#2196d0"/>
<circle cx="191.95" cy="455.05" r="1.22" fill="#2196d0"/>
<circle cx="199.75" cy="455.05" r="1.22" fill="#2196d0"/>
<circle cx="203.65" cy="455.05" r="1.22" fill="#2196d0"/>
<circle cx="242.65" cy="455.05" r="0.95" fill="#5cb8dc"/>
<circle cx="246.55" cy="455.05" r="1.22" fill="#2196d0"/>
<circle cx="164.65" cy="458.95" r="1.28" fill="#f27254"/>
<circle cx="176.35" cy="458.95" r="0.95" fill="#5cb8dc"/>
<circle cx="180.25" cy="458.95" r="1.75" fill="#062b63"/>
<circle cx="184.15" cy="458.95" r="1.5" fill="#1768b8"/>
<circle cx="188.05" cy="458.95" r="1.65" fill="#0b4088"/>
<circle cx="191.95" cy="458.95" r="1.65" fill="#0b4088"/>
<circle cx="195.85" cy="458.95" r="1.65" fill="#0b4088"/>
<circle cx="199.75" cy="458.95" r="1.5" fill="#1768b8"/>
<circle cx="203.65" cy="458.95" r="1.65" fill="#0b4088"/>
<circle cx="246.55" cy="458.95" r="1.22" fill="#2196d0"/>
<circle cx="180.25" cy="462.85" r="1.5" fill="#1768b8"/>
<circle cx="184.15" cy="462.85" r="1.75" fill="#062b63"/>
<circle cx="188.05" cy="462.85" r="1.65" fill="#0b4088"/>
<circle cx="191.95" cy="462.85" r="1.65" fill="#0b4088"/>
<circle cx="195.85" cy="462.85" r="1.65" fill="#0b4088"/>
<circle cx="199.75" cy="462.85" r="1.65" fill="#0b4088"/>
<circle cx="203.65" cy="462.85" r="1.5" fill="#1768b8"/>
<circle cx="246.55" cy="462.85" r="1.22" fill="#2196d0"/>
<circle cx="94.45" cy="466.75" r="1.22" fill="#2196d0"/>
<circle cx="180.25" cy="466.75" r="1.65" fill="#0b4088"/>
<circle cx="184.15" cy="466.75" r="1.65" fill="#0b4088"/>
<circle cx="188.05" cy="466.75" r="1.75" fill="#062b63"/>
<circle cx="191.95" cy="466.75" r="1.65" fill="#0b4088"/>
<circle cx="195.85" cy="466.75" r="1.65" fill="#0b4088"/>
<circle cx="199.75" cy="466.75" r="1.65" fill="#0b4088"/>
<circle cx="203.65" cy="466.75" r="1.5" fill="#1768b8"/>
<circle cx="94.45" cy="470.65" r="1.5" fill="#1768b8"/>
<circle cx="98.35" cy="470.65" r="1.5" fill="#1768b8"/>
<circle cx="176.35" cy="470.65" r="0.95" fill="#5cb8dc"/>
<circle cx="180.25" cy="470.65" r="1.65" fill="#0b4088"/>
<circle cx="184.15" cy="470.65" r="1.65" fill="#0b4088"/>
<circle cx="188.05" cy="470.65" r="1.65" fill="#0b4088"/>
<circle cx="191.95" cy="470.65" r="1.75" fill="#062b63"/>
<circle cx="195.85" cy="470.65" r="1.65" fill="#0b4088"/>
<circle cx="199.75" cy="470.65" r="1.65" fill="#0b4088"/>
<circle cx="203.65" cy="470.65" r="1.5" fill="#1768b8"/>
<circle cx="137.35" cy="474.55" r="1.0" fill="#f8a284"/>
<circle cx="180.25" cy="474.55" r="1.5" fill="#1768b8"/>
<circle cx="184.15" cy="474.55" r="1.65" fill="#0b4088"/>
<circle cx="188.05" cy="474.55" r="1.65" fill="#0b4088"/>
<circle cx="191.95" cy="474.55" r="1.65" fill="#0b4088"/>
<circle cx="195.85" cy="474.55" r="1.75" fill="#062b63"/>
<circle cx="199.75" cy="474.55" r="1.65" fill="#0b4088"/>
<circle cx="203.65" cy="474.55" r="1.5" fill="#1768b8"/>
<circle cx="246.55" cy="474.55" r="1.22" fill="#2196d0"/>
<circle cx="176.35" cy="478.45" r="0.95" fill="#5cb8dc"/>
<circle cx="180.25" cy="478.45" r="1.65" fill="#0b4088"/>
<circle cx="184.15" cy="478.45" r="1.65" fill="#0b4088"/>
<circle cx="188.05" cy="478.45" r="1.65" fill="#0b4088"/>
<circle cx="191.95" cy="478.45" r="1.65" fill="#0b4088"/>
<circle cx="195.85" cy="478.45" r="1.65" fill="#0b4088"/>
<circle cx="199.75" cy="478.45" r="1.75" fill="#062b63"/>
<circle cx="203.65" cy="478.45" r="1.5" fill="#1768b8"/>
<circle cx="246.55" cy="478.45" r="1.22" fill="#2196d0"/>
<circle cx="176.35" cy="482.35" r="1.22" fill="#2196d0"/>
<circle cx="180.25" cy="482.35" r="1.65" fill="#0b4088"/>
<circle cx="184.15" cy="482.35" r="1.65" fill="#0b4088"/>
<circle cx="188.05" cy="482.35" r="1.5" fill="#1768b8"/>
<circle cx="191.95" cy="482.35" r="1.65" fill="#0b4088"/>
<circle cx="195.85" cy="482.35" r="1.65" fill="#0b4088"/>
<circle cx="199.75" cy="482.35" r="1.5" fill="#1768b8"/>
<circle cx="203.65" cy="482.35" r="1.75" fill="#062b63"/>
<circle cx="246.55" cy="482.35" r="1.5" fill="#1768b8"/>
<circle cx="90.55" cy="486.25" r="1.5" fill="#1768b8"/>
<circle cx="102.25" cy="486.25" r="1.5" fill="#1768b8"/>
<circle cx="106.15" cy="486.25" r="1.5" fill="#1768b8"/>
<circle cx="110.05" cy="486.25" r="1.65" fill="#0b4088"/>
<circle cx="113.95" cy="486.25" r="1.5" fill="#1768b8"/>
<circle cx="117.85" cy="486.25" r="0.95" fill="#5cb8dc"/>
<circle cx="121.75" cy="486.25" r="1.5" fill="#1768b8"/>
<circle cx="125.65" cy="486.25" r="1.22" fill="#2196d0"/>
<circle cx="129.55" cy="486.25" r="1.5" fill="#1768b8"/>
<circle cx="133.45" cy="486.25" r="1.22" fill="#2196d0"/>
<circle cx="164.65" cy="486.25" r="1.22" fill="#2196d0"/>
<circle cx="168.55" cy="486.25" r="1.22" fill="#2196d0"/>
<circle cx="207.55" cy="486.25" r="1.75" fill="#062b63"/>
<circle cx="211.45" cy="486.25" r="1.22" fill="#2196d0"/>
<circle cx="215.35" cy="486.25" r="1.22" fill="#2196d0"/>
<circle cx="219.25" cy="486.25" r="1.22" fill="#2196d0"/>
<circle cx="223.15" cy="486.25" r="1.5" fill="#1768b8"/>
<circle cx="227.05" cy="486.25" r="0.95" fill="#5cb8dc"/>
<circle cx="238.75" cy="486.25" r="1.22" fill="#2196d0"/>
<circle cx="110.05" cy="490.15" r="1.22" fill="#2196d0"/>
<circle cx="121.75" cy="490.15" r="1.22" fill="#2196d0"/>
<circle cx="125.65" cy="490.15" r="1.5" fill="#1768b8"/>
<circle cx="129.55" cy="490.15" r="1.22" fill="#2196d0"/>
<circle cx="156.85" cy="490.15" r="1.5" fill="#1768b8"/>
<circle cx="160.75" cy="490.15" r="1.22" fill="#2196d0"/>
<circle cx="207.55" cy="490.15" r="1.22" fill="#2196d0"/>
<circle cx="211.45" cy="490.15" r="1.75" fill="#062b63"/>
<circle cx="215.35" cy="490.15" r="1.65" fill="#0b4088"/>
<circle cx="219.25" cy="490.15" r="0.95" fill="#5cb8dc"/>
<circle cx="227.05" cy="490.15" r="1.22" fill="#2196d0"/>
<circle cx="230.95" cy="490.15" r="1.22" fill="#2196d0"/>
<circle cx="234.85" cy="490.15" r="1.22" fill="#2196d0"/>
<circle cx="110.05" cy="494.05" r="1.22" fill="#2196d0"/>
<circle cx="121.75" cy="494.05" r="1.22" fill="#2196d0"/>
<circle cx="125.65" cy="494.05" r="1.5" fill="#1768b8"/>
<circle cx="129.55" cy="494.05" r="1.22" fill="#2196d0"/>
<circle cx="156.85" cy="494.05" r="1.5" fill="#1768b8"/>
<circle cx="160.75" cy="494.05" r="1.22" fill="#2196d0"/>
<circle cx="207.55" cy="494.05" r="1.22" fill="#2196d0"/>
<circle cx="211.45" cy="494.05" r="1.65" fill="#0b4088"/>
<circle cx="215.35" cy="494.05" r="1.75" fill="#062b63"/>
<circle cx="219.25" cy="494.05" r="0.95" fill="#5cb8dc"/>
<circle cx="223.15" cy="494.05" r="1.22" fill="#2196d0"/>
<circle cx="227.05" cy="494.05" r="1.22" fill="#2196d0"/>
<circle cx="106.15" cy="497.95" r="1.22" fill="#2196d0"/>
<circle cx="110.05" cy="497.95" r="1.5" fill="#1768b8"/>
<circle cx="121.75" cy="497.95" r="1.22" fill="#2196d0"/>
<circle cx="207.55" cy="497.95" r="1.22" fill="#2196d0"/>
<circle cx="211.45" cy="497.95" r="1.22" fill="#2196d0"/>
<circle cx="215.35" cy="497.95" r="0.95" fill="#5cb8dc"/>
<circle cx="219.25" cy="497.95" r="1.75" fill="#062b63"/>
<circle cx="223.15" cy="497.95" r="1.22" fill="#2196d0"/>
<circle cx="227.05" cy="497.95" r="1.22" fill="#2196d0"/>
<circle cx="230.95" cy="497.95" r="1.22" fill="#2196d0"/>
<circle cx="234.85" cy="497.95" r="1.22" fill="#2196d0"/>
<circle cx="238.75" cy="497.95" r="1.22" fill="#2196d0"/>
<circle cx="258.25" cy="497.95" r="0.95" fill="#5cb8dc"/>
<circle cx="98.35" cy="501.85" r="1.5" fill="#1768b8"/>
<circle cx="102.25" cy="501.85" r="1.22" fill="#2196d0"/>
<circle cx="106.15" cy="501.85" r="1.5" fill="#1768b8"/>
<circle cx="110.05" cy="501.85" r="1.5" fill="#1768b8"/>
<circle cx="113.95" cy="501.85" r="1.5" fill="#1768b8"/>
<circle cx="121.75" cy="501.85" r="1.5" fill="#1768b8"/>
<circle cx="129.55" cy="501.85" r="0.95" fill="#5cb8dc"/>
<circle cx="133.45" cy="501.85" r="1.22" fill="#2196d0"/>
<circle cx="164.65" cy="501.85" r="1.22" fill="#2196d0"/>
<circle cx="207.55" cy="501.85" r="1.5" fill="#1768b8"/>
<circle cx="215.35" cy="501.85" r="1.22" fill="#2196d0"/>
<circle cx="219.25" cy="501.85" r="1.22" fill="#2196d0"/>
<circle cx="223.15" cy="501.85" r="1.75" fill="#062b63"/>
<circle cx="227.05" cy="501.85" r="0.95" fill="#5cb8dc"/>
<circle cx="238.75" cy="501.85" r="1.5" fill="#1768b8"/>
<circle cx="207.55" cy="505.75" r="0.95" fill="#5cb8dc"/>
<circle cx="211.45" cy="505.75" r="1.22" fill="#2196d0"/>
<circle cx="215.35" cy="505.75" r="1.22" fill="#2196d0"/>
<circle cx="219.25" cy="505.75" r="1.22" fill="#2196d0"/>
<circle cx="223.15" cy="505.75" r="0.95" fill="#5cb8dc"/>
<circle cx="227.05" cy="505.75" r="1.75" fill="#062b63"/>
<circle cx="230.95" cy="505.75" r="1.22" fill="#2196d0"/>
<circle cx="234.85" cy="505.75" r="1.22" fill="#2196d0"/>
<circle cx="254.35" cy="505.75" r="0.95" fill="#5cb8dc"/>
<circle cx="258.25" cy="505.75" r="0.95" fill="#5cb8dc"/>
<circle cx="63.25" cy="509.65" r="1.28" fill="#f27254"/>
<circle cx="211.45" cy="509.65" r="0.95" fill="#5cb8dc"/>
<circle cx="219.25" cy="509.65" r="1.22" fill="#2196d0"/>
<circle cx="227.05" cy="509.65" r="1.22" fill="#2196d0"/>
<circle cx="230.95" cy="509.65" r="1.75" fill="#062b63"/>
<circle cx="234.85" cy="509.65" r="1.75" fill="#062b63"/>
<circle cx="246.55" cy="509.65" r="0.95" fill="#5cb8dc"/>
<circle cx="250.45" cy="509.65" r="1.22" fill="#2196d0"/>
<circle cx="258.25" cy="509.65" r="1.22" fill="#2196d0"/>
<circle cx="121.75" cy="513.55" r="1.22" fill="#2196d0"/>
<circle cx="211.45" cy="513.55" r="0.95" fill="#5cb8dc"/>
<circle cx="219.25" cy="513.55" r="1.22" fill="#2196d0"/>
<circle cx="227.05" cy="513.55" r="1.22" fill="#2196d0"/>
<circle cx="230.95" cy="513.55" r="1.75" fill="#062b63"/>
<circle cx="234.85" cy="513.55" r="1.75" fill="#062b63"/>
<circle cx="250.45" cy="513.55" r="0.95" fill="#5cb8dc"/>
<circle cx="258.25" cy="513.55" r="1.22" fill="#2196d0"/>
<circle cx="90.55" cy="517.45" r="1.22" fill="#2196d0"/>
<circle cx="94.45" cy="517.45" r="1.22" fill="#2196d0"/>
<circle cx="98.35" cy="517.45" r="1.22" fill="#2196d0"/>
<circle cx="110.05" cy="517.45" r="1.22" fill="#2196d0"/>
<circle cx="121.75" cy="517.45" r="1.22" fill="#2196d0"/>
<circle cx="207.55" cy="517.45" r="0.95" fill="#5cb8dc"/>
<circle cx="219.25" cy="517.45" r="1.22" fill="#2196d0"/>
<circle cx="223.15" cy="517.45" r="1.5" fill="#1768b8"/>
<circle cx="238.75" cy="517.45" r="1.75" fill="#062b63"/>
<circle cx="242.65" cy="517.45" r="1.5" fill="#1768b8"/>
<circle cx="250.45" cy="517.45" r="1.22" fill="#2196d0"/>
<circle cx="254.35" cy="517.45" r="0.95" fill="#5cb8dc"/>
<circle cx="90.55" cy="521.35" r="1.22" fill="#2196d0"/>
<circle cx="94.45" cy="521.35" r="1.22" fill="#2196d0"/>
<circle cx="176.35" cy="521.35" r="0.95" fill="#5cb8dc"/>
<circle cx="238.75" cy="521.35" r="1.5" fill="#1768b8"/>
<circle cx="242.65" cy="521.35" r="1.75" fill="#062b63"/>
<circle cx="250.45" cy="521.35" r="1.22" fill="#2196d0"/>
<circle cx="254.35" cy="521.35" r="0.95" fill="#5cb8dc"/>
<circle cx="59.35" cy="525.25" r="1.28" fill="#f27254"/>
<circle cx="176.35" cy="525.25" r="1.22" fill="#2196d0"/>
<circle cx="180.25" cy="525.25" r="1.22" fill="#2196d0"/>
<circle cx="184.15" cy="525.25" r="1.22" fill="#2196d0"/>
<circle cx="195.85" cy="525.25" r="1.22" fill="#2196d0"/>
<circle cx="199.75" cy="525.25" r="1.22" fill="#2196d0"/>
<circle cx="203.65" cy="525.25" r="1.5" fill="#1768b8"/>
<circle cx="230.95" cy="525.25" r="1.22" fill="#2196d0"/>
<circle cx="246.55" cy="525.25" r="1.75" fill="#062b63"/>
<circle cx="250.45" cy="525.25" r="1.22" fill="#2196d0"/>
<circle cx="254.35" cy="525.25" r="1.22" fill="#2196d0"/>
<circle cx="258.25" cy="525.25" r="1.22" fill="#2196d0"/>
<circle cx="82.75" cy="529.15" r="1.22" fill="#2196d0"/>
<circle cx="86.65" cy="529.15" r="1.22" fill="#2196d0"/>
<circle cx="94.45" cy="529.15" r="1.22" fill="#2196d0"/>
<circle cx="121.75" cy="529.15" r="1.22" fill="#2196d0"/>
<circle cx="125.65" cy="529.15" r="1.22" fill="#2196d0"/>
<circle cx="230.95" cy="529.15" r="1.22" fill="#2196d0"/>
<circle cx="234.85" cy="529.15" r="0.95" fill="#5cb8dc"/>
<circle cx="238.75" cy="529.15" r="1.22" fill="#2196d0"/>
<circle cx="242.65" cy="529.15" r="1.22" fill="#2196d0"/>
<circle cx="246.55" cy="529.15" r="1.22" fill="#2196d0"/>
<circle cx="250.45" cy="529.15" r="1.75" fill="#062b63"/>
<circle cx="254.35" cy="529.15" r="1.65" fill="#0b4088"/>
<circle cx="258.25" cy="529.15" r="1.5" fill="#1768b8"/>
<circle cx="71.05" cy="533.05" r="1.22" fill="#2196d0"/>
<circle cx="74.95" cy="533.05" r="1.5" fill="#1768b8"/>
<circle cx="78.85" cy="533.05" r="1.22" fill="#2196d0"/>
<circle cx="82.75" cy="533.05" r="1.5" fill="#1768b8"/>
<circle cx="86.65" cy="533.05" r="1.5" fill="#1768b8"/>
<circle cx="94.45" cy="533.05" r="1.22" fill="#2196d0"/>
<circle cx="121.75" cy="533.05" r="1.22" fill="#2196d0"/>
<circle cx="125.65" cy="533.05" r="1.22" fill="#2196d0"/>
<circle cx="227.05" cy="533.05" r="0.95" fill="#5cb8dc"/>
<circle cx="238.75" cy="533.05" r="1.22" fill="#2196d0"/>
<circle cx="242.65" cy="533.05" r="1.22" fill="#2196d0"/>
<circle cx="246.55" cy="533.05" r="1.22" fill="#2196d0"/>
<circle cx="250.45" cy="533.05" r="1.65" fill="#0b4088"/>
<circle cx="254.35" cy="533.05" r="1.75" fill="#062b63"/>
<circle cx="258.25" cy="533.05" r="1.5" fill="#1768b8"/>
<circle cx="71.05" cy="536.95" r="1.22" fill="#2196d0"/>
<circle cx="74.95" cy="536.95" r="0.95" fill="#5cb8dc"/>
<circle cx="78.85" cy="536.95" r="1.22" fill="#2196d0"/>
<circle cx="82.75" cy="536.95" r="1.5" fill="#1768b8"/>
<circle cx="86.65" cy="536.95" r="1.5" fill="#1768b8"/>
<circle cx="90.55" cy="536.95" r="1.22" fill="#2196d0"/>
<circle cx="102.25" cy="536.95" r="1.22" fill="#2196d0"/>
<circle cx="106.15" cy="536.95" r="0.95" fill="#5cb8dc"/>
<circle cx="110.05" cy="536.95" r="1.22" fill="#2196d0"/>
<circle cx="117.85" cy="536.95" r="1.5" fill="#1768b8"/>
<circle cx="121.75" cy="536.95" r="1.5" fill="#1768b8"/>
<circle cx="125.65" cy="536.95" r="1.22" fill="#2196d0"/>
<circle cx="129.55" cy="536.95" r="1.5" fill="#1768b8"/>
<circle cx="219.25" cy="536.95" r="0.95" fill="#5cb8dc"/>
<circle cx="230.95" cy="536.95" r="1.22" fill="#2196d0"/>
<circle cx="234.85" cy="536.95" r="1.22" fill="#2196d0"/>
<circle cx="246.55" cy="536.95" r="1.22" fill="#2196d0"/>
<circle cx="250.45" cy="536.95" r="1.5" fill="#1768b8"/>
<circle cx="254.35" cy="536.95" r="1.5" fill="#1768b8"/>
<circle cx="258.25" cy="536.95" r="1.75" fill="#062b63"/>
<path d="M69.50 301.50V538.50M22.50 347.50H260.50M100.50 301.50V538.50M22.50 379.50H260.50M174.50 301.50V538.50M22.50 453.50H260.50M205.50 301.50V538.50M22.50 484.50H260.50M22.50 301.50H260.50V538.50H22.50Z" stroke="#747474" stroke-width="1.0" fill="none"/>
<g class="rl"><text x="20.90" y="304.70" textLength="14.6" lengthAdjust="spacingAndGlyphs"><tspan class="cg">CpG</tspan> 72</text><text x="20.90" y="308.60" textLength="14.6" lengthAdjust="spacingAndGlyphs"><tspan class="cg">CpG</tspan> 73</text><text x="20.90" y="312.50" textLength="14.6" lengthAdjust="spacingAndGlyphs"><tspan class="cg">CpG</tspan> 74</text><text x="20.90" y="316.40" textLength="14.6" lengthAdjust="spacingAndGlyphs"><tspan class="cg">CpG</tspan> 75</text><text x="20.90" y="320.30" textLength="14.6" lengthAdjust="spacingAndGlyphs"><tspan class="cg">CpG</tspan> 76</text><text x="20.90" y="324.20" textLength="14.6" lengthAdjust="spacingAndGlyphs"><tspan class="cg">CpG</tspan> 77</text><text x="20.90" y="328.10" textLength="14.6" lengthAdjust="spacingAndGlyphs"><tspan class="cg">CpG</tspan> 78</text><text x="20.90" y="332.00" textLength="14.6" lengthAdjust="spacingAndGlyphs"><tspan class="cg">CpG</tspan> 79</text><text x="20.90" y="335.90" textLength="14.6" lengthAdjust="spacingAndGlyphs"><tspan class="cg">CpG</tspan> 80</text><text x="20.90" y="339.80" textLength="14.6" lengthAdjust="spacingAndGlyphs"><tspan class="cg">CpG</tspan> 81</text><text x="20.90" y="343.70" textLength="14.6" lengthAdjust="spacingAndGlyphs"><tspan class="cg">CpG</tspan> 82</text><text x="20.90" y="347.60" textLength="14.6" lengthAdjust="spacingAndGlyphs"><tspan class="cg">CpG</tspan> 83</text><text x="20.90" y="351.50" textLength="14.6" lengthAdjust="spacingAndGlyphs"><tspan class="cg">CpG</tspan> 12</text><text x="20.90" y="355.40" textLength="14.6" lengthAdjust="spacingAndGlyphs"><tspan class="cg">CpG</tspan> 13</text><text x="20.90" y="359.30" textLength="14.6" lengthAdjust="spacingAndGlyphs"><tspan class="cg">CpG</tspan> 14</text><text x="20.90" y="363.20" textLength="14.6" lengthAdjust="spacingAndGlyphs"><tspan class="cg">CpG</tspan> 15</text><text x="20.90" y="367.10" textLength="14.6" lengthAdjust="spacingAndGlyphs"><tspan class="cg">CpG</tspan> 16</text><text x="20.90" y="371.00" textLength="14.6" lengthAdjust="spacingAndGlyphs"><tspan class="cg">CpG</tspan> 17</text><text x="20.90" y="374.90" textLength="14.6" lengthAdjust="spacingAndGlyphs"><tspan class="cg">CpG</tspan> 18</text><text x="20.90" y="378.80" textLength="14.6" lengthAdjust="spacingAndGlyphs"><tspan class="cg">CpG</tspan> 19</text><text x="20.90" y="382.70" textLength="14.6" lengthAdjust="spacingAndGlyphs"><tspan class="cg">CpG</tspan> 05</text><text x="20.90" y="386.60" textLength="14.6" lengthAdjust="spacingAndGlyphs"><tspan class="cg">CpG</tspan> 06</text><text x="20.90" y="390.50" textLength="14.6" lengthAdjust="spacingAndGlyphs"><tspan class="cg">CpG</tspan> 07</text><text x="20.90" y="394.40" textLength="14.6" lengthAdjust="spacingAndGlyphs"><tspan class="cg">CpG</tspan> 08</text><text x="20.90" y="398.30" textLength="14.6" lengthAdjust="spacingAndGlyphs"><tspan class="cg">CpG</tspan> 11</text><text x="20.90" y="402.20" textLength="14.6" lengthAdjust="spacingAndGlyphs"><tspan class="cg">CpG</tspan> 12</text><text x="20.90" y="406.10" textLength="14.6" lengthAdjust="spacingAndGlyphs"><tspan class="cg">CpG</tspan> 13</text><text x="20.90" y="410.00" textLength="14.6" lengthAdjust="spacingAndGlyphs"><tspan class="cg">CpG</tspan> 14</text><text x="20.90" y="413.90" textLength="14.6" lengthAdjust="spacingAndGlyphs"><tspan class="cg">CpG</tspan> 15</text><text x="20.90" y="417.80" textLength="14.6" lengthAdjust="spacingAndGlyphs"><tspan class="cg">CpG</tspan> 16</text><text x="20.90" y="421.70" textLength="14.6" lengthAdjust="spacingAndGlyphs"><tspan class="cg">CpG</tspan> 17</text><text x="20.90" y="425.60" textLength="14.6" lengthAdjust="spacingAndGlyphs"><tspan class="cg">CpG</tspan> 18</text><text x="20.90" y="429.50" textLength="14.6" lengthAdjust="spacingAndGlyphs"><tspan class="cg">CpG</tspan> 24</text><text x="20.90" y="433.40" textLength="14.6" lengthAdjust="spacingAndGlyphs"><tspan class="cg">CpG</tspan> 25</text><text x="20.90" y="437.30" textLength="14.6" lengthAdjust="spacingAndGlyphs"><tspan class="cg">CpG</tspan> 26</text><text x="20.90" y="441.20" textLength="14.6" lengthAdjust="spacingAndGlyphs"><tspan class="cg">CpG</tspan> 27</text><text x="20.90" y="445.10" textLength="14.6" lengthAdjust="spacingAndGlyphs"><tspan class="cg">CpG</tspan> 37</text><text x="20.90" y="449.00" textLength="14.6" lengthAdjust="spacingAndGlyphs"><tspan class="cg">CpG</tspan> 38</text><text x="20.90" y="452.90" textLength="14.6" lengthAdjust="spacingAndGlyphs"><tspan class="cg">CpG</tspan> 39</text><text x="20.90" y="456.80" textLength="14.6" lengthAdjust="spacingAndGlyphs"><tspan class="cg">CpG</tspan> 15</text><text x="20.90" y="460.70" textLength="14.6" lengthAdjust="spacingAndGlyphs"><tspan class="cg">CpG</tspan> 16</text><text x="20.90" y="464.60" textLength="14.6" lengthAdjust="spacingAndGlyphs"><tspan class="cg">CpG</tspan> 17</text><text x="20.90" y="468.50" textLength="14.6" lengthAdjust="spacingAndGlyphs"><tspan class="cg">CpG</tspan> 18</text><text x="20.90" y="472.40" textLength="14.6" lengthAdjust="spacingAndGlyphs"><tspan class="cg">CpG</tspan> 19</text><text x="20.90" y="476.30" textLength="14.6" lengthAdjust="spacingAndGlyphs"><tspan class="cg">CpG</tspan> 20</text><text x="20.90" y="480.20" textLength="14.6" lengthAdjust="spacingAndGlyphs"><tspan class="cg">CpG</tspan> 21</text><text x="20.90" y="484.10" textLength="14.6" lengthAdjust="spacingAndGlyphs"><tspan class="cg">CpG</tspan> 22</text><text x="20.90" y="488.00" textLength="14.6" lengthAdjust="spacingAndGlyphs"><tspan class="cg">CpG</tspan> 01</text><text x="20.90" y="491.90" textLength="14.6" lengthAdjust="spacingAndGlyphs"><tspan class="cg">CpG</tspan> 02</text><text x="20.90" y="495.80" textLength="14.6" lengthAdjust="spacingAndGlyphs"><tspan class="cg">CpG</tspan> 03</text><text x="20.90" y="499.70" textLength="14.6" lengthAdjust="spacingAndGlyphs"><tspan class="cg">CpG</tspan> 07</text><text x="20.90" y="503.60" textLength="14.6" lengthAdjust="spacingAndGlyphs"><tspan class="cg">CpG</tspan> 08</text><text x="20.90" y="507.50" textLength="14.6" lengthAdjust="spacingAndGlyphs"><tspan class="cg">CpG</tspan> 09</text><text x="20.90" y="511.40" textLength="14.6" lengthAdjust="spacingAndGlyphs"><tspan class="cg">CpG</tspan> 10</text><text x="20.90" y="515.30" textLength="14.6" lengthAdjust="spacingAndGlyphs"><tspan class="cg">CpG</tspan> 11</text><text x="20.90" y="519.20" textLength="14.6" lengthAdjust="spacingAndGlyphs"><tspan class="cg">CpG</tspan> 12</text><text x="20.90" y="523.10" textLength="14.6" lengthAdjust="spacingAndGlyphs"><tspan class="cg">CpG</tspan> 13</text><text x="20.90" y="527.00" textLength="14.6" lengthAdjust="spacingAndGlyphs"><tspan class="cg">CpG</tspan> 19</text><text x="20.90" y="530.90" textLength="14.6" lengthAdjust="spacingAndGlyphs"><tspan class="cg">CpG</tspan> 20</text><text x="20.90" y="534.80" textLength="14.6" lengthAdjust="spacingAndGlyphs"><tspan class="cg">CpG</tspan> 21</text><text x="20.90" y="538.70" textLength="14.6" lengthAdjust="spacingAndGlyphs"><tspan class="cg">CpG</tspan> 22</text></g>
<g class="cl"><text transform="translate(26.85 300.50) rotate(-70)" textLength="14.4" lengthAdjust="spacingAndGlyphs"><tspan class="cg">CpG</tspan> 72</text><text transform="translate(30.75 300.50) rotate(-70)" textLength="14.4" lengthAdjust="spacingAndGlyphs"><tspan class="cg">CpG</tspan> 73</text><text transform="translate(34.65 300.50) rotate(-70)" textLength="14.4" lengthAdjust="spacingAndGlyphs"><tspan class="cg">CpG</tspan> 74</text><text transform="translate(38.55 300.50) rotate(-70)" textLength="14.4" lengthAdjust="spacingAndGlyphs"><tspan class="cg">CpG</tspan> 75</text><text transform="translate(42.45 300.50) rotate(-70)" textLength="14.4" lengthAdjust="spacingAndGlyphs"><tspan class="cg">CpG</tspan> 76</text><text transform="translate(46.35 300.50) rotate(-70)" textLength="14.4" lengthAdjust="spacingAndGlyphs"><tspan class="cg">CpG</tspan> 77</text><text transform="translate(50.25 300.50) rotate(-70)" textLength="14.4" lengthAdjust="spacingAndGlyphs"><tspan class="cg">CpG</tspan> 78</text><text transform="translate(54.15 300.50) rotate(-70)" textLength="14.4" lengthAdjust="spacingAndGlyphs"><tspan class="cg">CpG</tspan> 79</text><text transform="translate(58.05 300.50) rotate(-70)" textLength="14.4" lengthAdjust="spacingAndGlyphs"><tspan class="cg">CpG</tspan> 80</text><text transform="translate(61.95 300.50) rotate(-70)" textLength="14.4" lengthAdjust="spacingAndGlyphs"><tspan class="cg">CpG</tspan> 81</text><text transform="translate(65.85 300.50) rotate(-70)" textLength="14.4" lengthAdjust="spacingAndGlyphs"><tspan class="cg">CpG</tspan> 82</text><text transform="translate(69.75 300.50) rotate(-70)" textLength="14.4" lengthAdjust="spacingAndGlyphs"><tspan class="cg">CpG</tspan> 83</text><text transform="translate(73.65 300.50) rotate(-70)" textLength="14.4" lengthAdjust="spacingAndGlyphs"><tspan class="cg">CpG</tspan> 12</text><text transform="translate(77.55 300.50) rotate(-70)" textLength="14.4" lengthAdjust="spacingAndGlyphs"><tspan class="cg">CpG</tspan> 13</text><text transform="translate(81.45 300.50) rotate(-70)" textLength="14.4" lengthAdjust="spacingAndGlyphs"><tspan class="cg">CpG</tspan> 14</text><text transform="translate(85.35 300.50) rotate(-70)" textLength="14.4" lengthAdjust="spacingAndGlyphs"><tspan class="cg">CpG</tspan> 15</text><text transform="translate(89.25 300.50) rotate(-70)" textLength="14.4" lengthAdjust="spacingAndGlyphs"><tspan class="cg">CpG</tspan> 16</text><text transform="translate(93.15 300.50) rotate(-70)" textLength="14.4" lengthAdjust="spacingAndGlyphs"><tspan class="cg">CpG</tspan> 17</text><text transform="translate(97.05 300.50) rotate(-70)" textLength="14.4" lengthAdjust="spacingAndGlyphs"><tspan class="cg">CpG</tspan> 18</text><text transform="translate(100.95 300.50) rotate(-70)" textLength="14.4" lengthAdjust="spacingAndGlyphs"><tspan class="cg">CpG</tspan> 19</text><text transform="translate(104.85 300.50) rotate(-70)" textLength="14.4" lengthAdjust="spacingAndGlyphs"><tspan class="cg">CpG</tspan> 05</text><text transform="translate(108.75 300.50) rotate(-70)" textLength="14.4" lengthAdjust="spacingAndGlyphs"><tspan class="cg">CpG</tspan> 06</text><text transform="translate(112.65 300.50) rotate(-70)" textLength="14.4" lengthAdjust="spacingAndGlyphs"><tspan class="cg">CpG</tspan> 07</text><text transform="translate(116.55 300.50) rotate(-70)" textLength="14.4" lengthAdjust="spacingAndGlyphs"><tspan class="cg">CpG</tspan> 08</text><text transform="translate(120.45 300.50) rotate(-70)" textLength="14.4" lengthAdjust="spacingAndGlyphs"><tspan class="cg">CpG</tspan> 11</text><text transform="translate(124.35 300.50) rotate(-70)" textLength="14.4" lengthAdjust="spacingAndGlyphs"><tspan class="cg">CpG</tspan> 12</text><text transform="translate(128.25 300.50) rotate(-70)" textLength="14.4" lengthAdjust="spacingAndGlyphs"><tspan class="cg">CpG</tspan> 13</text><text transform="translate(132.15 300.50) rotate(-70)" textLength="14.4" lengthAdjust="spacingAndGlyphs"><tspan class="cg">CpG</tspan> 14</text><text transform="translate(136.05 300.50) rotate(-70)" textLength="14.4" lengthAdjust="spacingAndGlyphs"><tspan class="cg">CpG</tspan> 15</text><text transform="translate(139.95 300.50) rotate(-70)" textLength="14.4" lengthAdjust="spacingAndGlyphs"><tspan class="cg">CpG</tspan> 16</text><text transform="translate(143.85 300.50) rotate(-70)" textLength="14.4" lengthAdjust="spacingAndGlyphs"><tspan class="cg">CpG</tspan> 17</text><text transform="translate(147.75 300.50) rotate(-70)" textLength="14.4" lengthAdjust="spacingAndGlyphs"><tspan class="cg">CpG</tspan> 18</text><text transform="translate(151.65 300.50) rotate(-70)" textLength="14.4" lengthAdjust="spacingAndGlyphs"><tspan class="cg">CpG</tspan> 24</text><text transform="translate(155.55 300.50) rotate(-70)" textLength="14.4" lengthAdjust="spacingAndGlyphs"><tspan class="cg">CpG</tspan> 25</text><text transform="translate(159.45 300.50) rotate(-70)" textLength="14.4" lengthAdjust="spacingAndGlyphs"><tspan class="cg">CpG</tspan> 26</text><text transform="translate(163.35 300.50) rotate(-70)" textLength="14.4" lengthAdjust="spacingAndGlyphs"><tspan class="cg">CpG</tspan> 27</text><text transform="translate(167.25 300.50) rotate(-70)" textLength="14.4" lengthAdjust="spacingAndGlyphs"><tspan class="cg">CpG</tspan> 37</text><text transform="translate(171.15 300.50) rotate(-70)" textLength="14.4" lengthAdjust="spacingAndGlyphs"><tspan class="cg">CpG</tspan> 38</text><text transform="translate(175.05 300.50) rotate(-70)" textLength="14.4" lengthAdjust="spacingAndGlyphs"><tspan class="cg">CpG</tspan> 39</text><text transform="translate(178.95 300.50) rotate(-70)" textLength="14.4" lengthAdjust="spacingAndGlyphs"><tspan class="cg">CpG</tspan> 15</text><text transform="translate(182.85 300.50) rotate(-70)" textLength="14.4" lengthAdjust="spacingAndGlyphs"><tspan class="cg">CpG</tspan> 16</text><text transform="translate(186.75 300.50) rotate(-70)" textLength="14.4" lengthAdjust="spacingAndGlyphs"><tspan class="cg">CpG</tspan> 17</text><text transform="translate(190.65 300.50) rotate(-70)" textLength="14.4" lengthAdjust="spacingAndGlyphs"><tspan class="cg">CpG</tspan> 18</text><text transform="translate(194.55 300.50) rotate(-70)" textLength="14.4" lengthAdjust="spacingAndGlyphs"><tspan class="cg">CpG</tspan> 19</text><text transform="translate(198.45 300.50) rotate(-70)" textLength="14.4" lengthAdjust="spacingAndGlyphs"><tspan class="cg">CpG</tspan> 20</text><text transform="translate(202.35 300.50) rotate(-70)" textLength="14.4" lengthAdjust="spacingAndGlyphs"><tspan class="cg">CpG</tspan> 21</text><text transform="translate(206.25 300.50) rotate(-70)" textLength="14.4" lengthAdjust="spacingAndGlyphs"><tspan class="cg">CpG</tspan> 22</text><text transform="translate(210.15 300.50) rotate(-70)" textLength="14.4" lengthAdjust="spacingAndGlyphs"><tspan class="cg">CpG</tspan> 01</text><text transform="translate(214.05 300.50) rotate(-70)" textLength="14.4" lengthAdjust="spacingAndGlyphs"><tspan class="cg">CpG</tspan> 02</text><text transform="translate(217.95 300.50) rotate(-70)" textLength="14.4" lengthAdjust="spacingAndGlyphs"><tspan class="cg">CpG</tspan> 03</text><text transform="translate(221.85 300.50) rotate(-70)" textLength="14.4" lengthAdjust="spacingAndGlyphs"><tspan class="cg">CpG</tspan> 07</text><text transform="translate(225.75 300.50) rotate(-70)" textLength="14.4" lengthAdjust="spacingAndGlyphs"><tspan class="cg">CpG</tspan> 08</text><text transform="translate(229.65 300.50) rotate(-70)" textLength="14.4" lengthAdjust="spacingAndGlyphs"><tspan class="cg">CpG</tspan> 09</text><text transform="translate(233.55 300.50) rotate(-70)" textLength="14.4" lengthAdjust="spacingAndGlyphs"><tspan class="cg">CpG</tspan> 10</text><text transform="translate(237.45 300.50) rotate(-70)" textLength="14.4" lengthAdjust="spacingAndGlyphs"><tspan class="cg">CpG</tspan> 11</text><text transform="translate(241.35 300.50) rotate(-70)" textLength="14.4" lengthAdjust="spacingAndGlyphs"><tspan class="cg">CpG</tspan> 12</text><text transform="translate(245.25 300.50) rotate(-70)" textLength="14.4" lengthAdjust="spacingAndGlyphs"><tspan class="cg">CpG</tspan> 13</text><text transform="translate(249.15 300.50) rotate(-70)" textLength="14.4" lengthAdjust="spacingAndGlyphs"><tspan class="cg">CpG</tspan> 19</text><text transform="translate(253.05 300.50) rotate(-70)" textLength="14.4" lengthAdjust="spacingAndGlyphs"><tspan class="cg">CpG</tspan> 20</text><text transform="translate(256.95 300.50) rotate(-70)" textLength="14.4" lengthAdjust="spacingAndGlyphs"><tspan class="cg">CpG</tspan> 21</text><text transform="translate(260.85 300.50) rotate(-70)" textLength="14.4" lengthAdjust="spacingAndGlyphs"><tspan class="cg">CpG</tspan> 22</text></g>
<g class="gl"><text transform="translate(264.50 324.40) rotate(-90) scale(0.78 1)">promoter</text><text transform="translate(45.70 543.50) scale(0.78 1)">promoter</text><text transform="translate(264.50 363.40) rotate(-90) scale(0.78 1)">enhancer 1</text><text transform="translate(84.70 543.50) scale(0.78 1)">enhancer 1</text><text transform="translate(264.50 416.05) rotate(-90) scale(0.78 1)">enhancer 2</text><text transform="translate(137.35 543.50) scale(0.78 1)">enhancer 2</text><text transform="translate(264.50 468.70) rotate(-90) scale(0.78 1)">enhancer 3</text><text transform="translate(190.00 543.50) scale(0.78 1)">enhancer 3</text><text transform="translate(264.50 511.60) rotate(-90) scale(0.78 1)">enhancer 4</text><text transform="translate(232.90 543.50) scale(0.78 1)">enhancer 4</text></g>
<defs><linearGradient id="cb" x1="0" y1="0" x2="0" y2="1"><stop offset="0" stop-color="#0b2f6b"/><stop offset="0.1" stop-color="#1a5aa3"/><stop offset="0.2" stop-color="#1f84c8"/><stop offset="0.3" stop-color="#45aadb"/><stop offset="0.4" stop-color="#a9d6ee"/><stop offset="0.5" stop-color="#FFFFFF"/><stop offset="0.6" stop-color="#fbd3c2"/><stop offset="0.7" stop-color="#f7a080"/><stop offset="0.8" stop-color="#e6503e"/><stop offset="0.9" stop-color="#c8202c"/><stop offset="1.0" stop-color="#7a0a1e"/></linearGradient></defs>
<rect x="268.1" y="462.8" width="2.7" height="77.0" fill="url(#cb)"/>
<g class="cbl"><text x="273.3" y="464.00">1.0</text><text x="273.3" y="471.70">0.8</text><text x="273.3" y="479.40">0.6</text><text x="273.3" y="487.10">0.4</text><text x="273.3" y="494.80">0.2</text><text x="273.3" y="502.50">0.0</text><text x="273.3" y="510.20">-0.2</text><text x="273.3" y="517.90">-0.4</text><text x="273.3" y="525.60">-0.6</text><text x="273.3" y="533.30">-0.8</text><text x="273.3" y="541.00">-1.0</text></g>
<g class="pl"><text x="6.0" y="12.8">a</text><text x="275.6" y="12.8">b</text><text x="5.8" y="285.0">c</text></g>
</svg>
</body></html>
